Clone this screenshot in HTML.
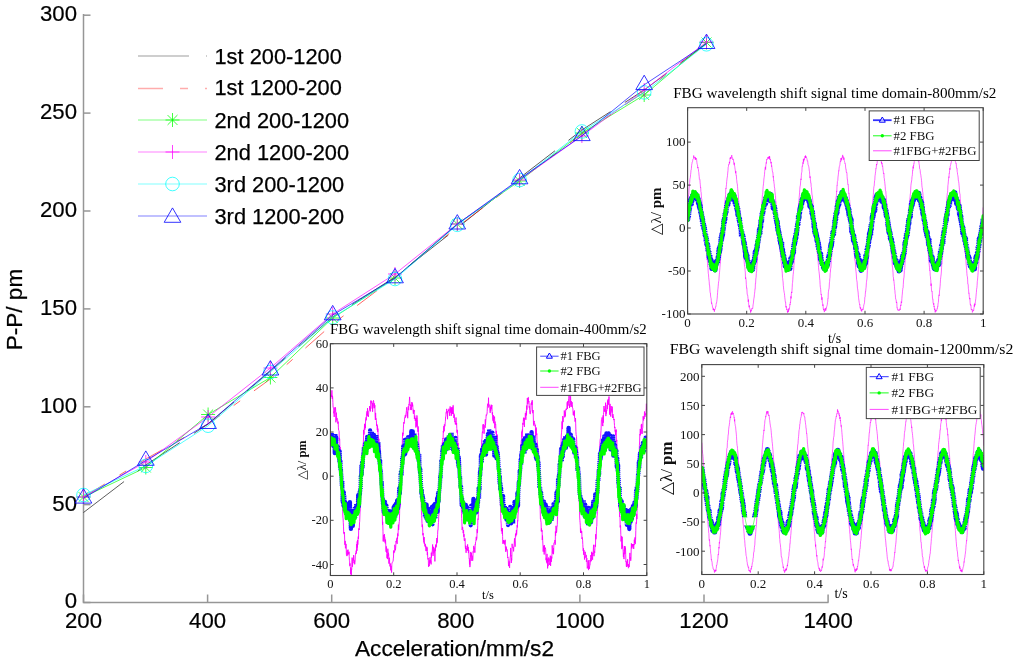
<!DOCTYPE html>
<html lang="en"><head><meta charset="utf-8"><title>FBG acceleration figure</title>
<style>html,body{margin:0;padding:0;background:#fff}body{width:1024px;height:668px;overflow:hidden}svg{display:block}</style>
</head><body>
<svg width="1024" height="668" viewBox="0 0 1024 668">
<rect width="1024" height="668" fill="#fff"/>
<g stroke="#969696" stroke-width="1.5" fill="none">
<path d="M83.5 14 V602.5 H828.5"/>
<path d="M83.5 602.5 h7"/>
<path d="M83.5 504.6 h7"/>
<path d="M83.5 406.8 h7"/>
<path d="M83.5 308.9 h7"/>
<path d="M83.5 211.0 h7"/>
<path d="M83.5 113.1 h7"/>
<path d="M83.5 15.2 h7"/>
<path d="M83.5 602.5 v-8"/>
<path d="M207.6 602.5 v-8"/>
<path d="M331.7 602.5 v-8"/>
<path d="M455.8 602.5 v-8"/>
<path d="M579.9 602.5 v-8"/>
<path d="M704.0 602.5 v-8"/>
<path d="M828.1 602.5 v-8"/>
</g>
<g font-family='"Liberation Sans", Arial, sans-serif' font-size="22.2" fill="#000" stroke="#000" stroke-width="0.2">
<text x="77" y="608.4" text-anchor="end">0</text>
<text x="77" y="510.5" text-anchor="end">50</text>
<text x="77" y="412.6" text-anchor="end">100</text>
<text x="77" y="314.8" text-anchor="end">150</text>
<text x="77" y="216.9" text-anchor="end">200</text>
<text x="77" y="119.0" text-anchor="end">250</text>
<text x="77" y="21.1" text-anchor="end">300</text>
<text x="83.5" y="627.5" text-anchor="middle">200</text>
<text x="207.6" y="627.5" text-anchor="middle">400</text>
<text x="331.7" y="627.5" text-anchor="middle">600</text>
<text x="455.8" y="627.5" text-anchor="middle">800</text>
<text x="579.9" y="627.5" text-anchor="middle">1000</text>
<text x="704.0" y="627.5" text-anchor="middle">1200</text>
<text x="828.1" y="627.5" text-anchor="middle">1400</text>
</g>
<text x="355" y="655.7" stroke="#000" stroke-width="0.25" font-family='"Liberation Sans", Arial, sans-serif' font-size="22.5" textLength="199" lengthAdjust="spacingAndGlyphs">Acceleration/mm/s2</text>
<text transform="translate(22 350.3) rotate(-90)" stroke="#000" stroke-width="0.25" font-family='"Liberation Sans", Arial, sans-serif' font-size="22" textLength="81.5" lengthAdjust="spacingAndGlyphs">P-P/ pm</text>
<path d="M83.5 512.5 L145.8 465.0 L208.1 424.0 L270.4 371.0 L332.7 317.0 L395.0 277.0 L457.3 228.0 L519.6 178.0 L581.9 130.0 L644.2 90.0 L706.5 43.5" stroke="#000" stroke-width="0.8" fill="none" stroke-dasharray="51 17" opacity="0.8"/>
<path d="M83.5 497.0 L145.8 459.0 L208.1 424.0 L270.4 379.0 L332.7 324.0 L395.0 277.0 L457.3 227.0 L519.6 180.0 L581.9 134.0 L644.2 92.0 L706.5 43.5" stroke="#f00" stroke-width="0.8" fill="none" stroke-dasharray="25 17 8 17" opacity="0.75"/>
<path d="M83.5 497.0 L145.8 467.5 L208.1 414.5 L270.4 377.5 L332.7 318.0 L395.0 278.0 L457.3 224.0 L519.6 181.0 L581.9 133.0 L644.2 95.0 L706.5 42.5" stroke="#0f0" stroke-width="0.8" fill="none" opacity="0.85"/>
<path d="M76.5 497.0h14M83.5 490.0v14M78.6 492.1l9.9 9.9M78.6 501.9l9.9 -9.9" stroke="#0f0" stroke-width="0.75" fill="none"/>
<path d="M138.8 467.5h14M145.8 460.5v14M140.9 462.6l9.9 9.9M140.9 472.4l9.9 -9.9" stroke="#0f0" stroke-width="0.75" fill="none"/>
<path d="M201.1 414.5h14M208.1 407.5v14M203.2 409.6l9.9 9.9M203.2 419.4l9.9 -9.9" stroke="#0f0" stroke-width="0.75" fill="none"/>
<path d="M263.4 377.5h14M270.4 370.5v14M265.5 372.6l9.9 9.9M265.5 382.4l9.9 -9.9" stroke="#0f0" stroke-width="0.75" fill="none"/>
<path d="M325.7 318.0h14M332.7 311.0v14M327.8 313.1l9.9 9.9M327.8 322.9l9.9 -9.9" stroke="#0f0" stroke-width="0.75" fill="none"/>
<path d="M388.0 278.0h14M395.0 271.0v14M390.1 273.1l9.9 9.9M390.1 282.9l9.9 -9.9" stroke="#0f0" stroke-width="0.75" fill="none"/>
<path d="M450.3 224.0h14M457.3 217.0v14M452.4 219.1l9.9 9.9M452.4 228.9l9.9 -9.9" stroke="#0f0" stroke-width="0.75" fill="none"/>
<path d="M512.6 181.0h14M519.6 174.0v14M514.7 176.1l9.9 9.9M514.7 185.9l9.9 -9.9" stroke="#0f0" stroke-width="0.75" fill="none"/>
<path d="M574.9 133.0h14M581.9 126.0v14M577.0 128.1l9.9 9.9M577.0 137.9l9.9 -9.9" stroke="#0f0" stroke-width="0.75" fill="none"/>
<path d="M637.2 95.0h14M644.2 88.0v14M639.3 90.1l9.9 9.9M639.3 99.9l9.9 -9.9" stroke="#0f0" stroke-width="0.75" fill="none"/>
<path d="M699.5 42.5h14M706.5 35.5v14M701.6 37.6l9.9 9.9M701.6 47.4l9.9 -9.9" stroke="#0f0" stroke-width="0.75" fill="none"/>
<path d="M83.5 497.0 L145.8 462.0 L208.1 417.0 L270.4 368.0 L332.7 314.0 L395.0 274.0 L457.3 224.0 L519.6 180.0 L581.9 136.0 L644.2 90.0 L706.5 42.0" stroke="#f0f" stroke-width="0.8" fill="none" opacity="0.85"/>
<path d="M76.5 497.0h14M83.5 490.0v14" stroke="#f0f" stroke-width="0.75" fill="none"/>
<path d="M138.8 462.0h14M145.8 455.0v14" stroke="#f0f" stroke-width="0.75" fill="none"/>
<path d="M201.1 417.0h14M208.1 410.0v14" stroke="#f0f" stroke-width="0.75" fill="none"/>
<path d="M263.4 368.0h14M270.4 361.0v14" stroke="#f0f" stroke-width="0.75" fill="none"/>
<path d="M325.7 314.0h14M332.7 307.0v14" stroke="#f0f" stroke-width="0.75" fill="none"/>
<path d="M388.0 274.0h14M395.0 267.0v14" stroke="#f0f" stroke-width="0.75" fill="none"/>
<path d="M450.3 224.0h14M457.3 217.0v14" stroke="#f0f" stroke-width="0.75" fill="none"/>
<path d="M512.6 180.0h14M519.6 173.0v14" stroke="#f0f" stroke-width="0.75" fill="none"/>
<path d="M574.9 136.0h14M581.9 129.0v14" stroke="#f0f" stroke-width="0.75" fill="none"/>
<path d="M637.2 90.0h14M644.2 83.0v14" stroke="#f0f" stroke-width="0.75" fill="none"/>
<path d="M699.5 42.0h14M706.5 35.0v14" stroke="#f0f" stroke-width="0.75" fill="none"/>
<path d="M83.5 495.0 L145.8 465.9 L208.1 425.7 L270.4 372.0 L332.7 317.4 L395.0 279.0 L457.3 224.8 L519.6 180.0 L581.9 131.5 L644.2 92.4 L706.5 44.3" stroke="#0ff" stroke-width="0.8" fill="none" opacity="0.85"/>
<circle cx="83.5" cy="495.0" r="6.8" stroke="#0ff" stroke-width="0.75" fill="none"/>
<circle cx="145.8" cy="465.9" r="6.8" stroke="#0ff" stroke-width="0.75" fill="none"/>
<circle cx="208.1" cy="425.7" r="6.8" stroke="#0ff" stroke-width="0.75" fill="none"/>
<circle cx="270.4" cy="372.0" r="6.8" stroke="#0ff" stroke-width="0.75" fill="none"/>
<circle cx="332.7" cy="317.4" r="6.8" stroke="#0ff" stroke-width="0.75" fill="none"/>
<circle cx="395.0" cy="279.0" r="6.8" stroke="#0ff" stroke-width="0.75" fill="none"/>
<circle cx="457.3" cy="224.8" r="6.8" stroke="#0ff" stroke-width="0.75" fill="none"/>
<circle cx="519.6" cy="180.0" r="6.8" stroke="#0ff" stroke-width="0.75" fill="none"/>
<circle cx="581.9" cy="131.5" r="6.8" stroke="#0ff" stroke-width="0.75" fill="none"/>
<circle cx="644.2" cy="92.4" r="6.8" stroke="#0ff" stroke-width="0.75" fill="none"/>
<circle cx="706.5" cy="44.3" r="6.8" stroke="#0ff" stroke-width="0.75" fill="none"/>
<path d="M83.5 498.3 L145.8 460.5 L208.1 423.7 L270.4 370.2 L332.7 315.0 L395.0 278.0 L457.3 224.2 L519.6 179.0 L581.9 135.8 L644.2 84.8 L706.5 43.7" stroke="#00f" stroke-width="0.8" fill="none" opacity="0.85"/>
<path d="M83.5 488.7L91.8 503.1H75.2Z" stroke="#00f" stroke-width="0.8" fill="none"/>
<path d="M145.8 450.9L154.2 465.3H137.5Z" stroke="#00f" stroke-width="0.8" fill="none"/>
<path d="M208.1 414.1L216.4 428.5H199.8Z" stroke="#00f" stroke-width="0.8" fill="none"/>
<path d="M270.4 360.6L278.8 375.0H262.0Z" stroke="#00f" stroke-width="0.8" fill="none"/>
<path d="M332.7 305.4L341.1 319.8H324.3Z" stroke="#00f" stroke-width="0.8" fill="none"/>
<path d="M395.0 268.4L403.4 282.8H386.6Z" stroke="#00f" stroke-width="0.8" fill="none"/>
<path d="M457.3 214.6L465.6 229.0H448.9Z" stroke="#00f" stroke-width="0.8" fill="none"/>
<path d="M519.6 169.4L527.9 183.8H511.2Z" stroke="#00f" stroke-width="0.8" fill="none"/>
<path d="M581.9 126.2L590.2 140.6H573.5Z" stroke="#00f" stroke-width="0.8" fill="none"/>
<path d="M644.2 75.2L652.5 89.6H635.8Z" stroke="#00f" stroke-width="0.8" fill="none"/>
<path d="M706.5 34.1L714.9 48.5H698.1Z" stroke="#00f" stroke-width="0.8" fill="none"/>
<path d="M138 56H207" stroke="#000" stroke-width="0.7" stroke-dasharray="51 17" opacity="0.55"/>
<path d="M138 88.5H207" stroke="#f00" stroke-width="1.3" stroke-dasharray="25 17 8 17" opacity="0.32"/>
<path d="M138 120H207" stroke="#0f0" stroke-width="0.9" opacity="0.55"/>
<path d="M165.5 120.0h14M172.5 113.0v14M167.6 115.1l9.9 9.9M167.6 124.9l9.9 -9.9" stroke="#0f0" stroke-width="0.75" fill="none"/>
<path d="M138 152H207" stroke="#f0f" stroke-width="0.9" opacity="0.55"/>
<path d="M165.5 152.0h14M172.5 145.0v14" stroke="#f0f" stroke-width="0.75" fill="none"/>
<path d="M138 184H207" stroke="#0ff" stroke-width="0.9" opacity="0.55"/>
<circle cx="172.5" cy="184.0" r="6.8" stroke="#0ff" stroke-width="0.75" fill="none"/>
<path d="M138 216H207" stroke="#00f" stroke-width="0.9" opacity="0.55"/>
<path d="M172.5 207.9L180.8 222.3H164.2Z" stroke="#00f" stroke-width="0.8" fill="none"/>
<g font-family='"Liberation Sans", Arial, sans-serif' font-size="21.8" fill="#000" stroke="#000" stroke-width="0.25">
<text x="214.5" y="64.0">1st 200-1200</text>
<text x="214.5" y="94.7">1st 1200-200</text>
<text x="214.5" y="128.0">2nd 200-1200</text>
<text x="214.5" y="160.0">2nd 1200-200</text>
<text x="214.5" y="192.0">3rd 200-1200</text>
<text x="214.5" y="224.0">3rd 1200-200</text>
</g>
<rect x="330.4" y="343.7" width="316.4" height="231.8" fill="#fff" stroke="none"/>
<clipPath id="c330"><rect x="330.4" y="343.7" width="316.4" height="231.8"/></clipPath><g clip-path="url(#c330)">
<path d="M330.4 397.2L330.6 394.4L330.8 396.5L331.0 394.8L331.2 396.7L331.5 397.1L331.7 394.1L331.9 390.3L332.1 396.2L332.3 399.0L332.5 395.8L332.7 397.8L332.9 402.5L333.1 407.5L333.4 407.4L333.6 407.8L333.8 413.3L334.0 411.4L334.2 416.9L334.4 412.4L334.6 412.5L334.8 407.4L335.0 411.8L335.3 408.8L335.5 407.4L335.7 411.1L335.9 422.3L336.1 417.4L336.3 412.6L336.5 415.3L336.7 420.3L336.9 418.3L337.2 418.7L337.4 418.5L337.6 419.6L337.8 423.6L338.0 422.1L338.2 421.7L338.4 427.9L338.6 430.0L338.8 430.5L339.1 431.2L339.3 440.5L339.5 438.3L339.7 439.0L339.9 450.3L340.1 447.0L340.3 458.9L340.5 464.8L340.7 465.0L341.0 473.0L341.2 483.3L341.4 486.8L341.6 489.3L341.8 495.4L342.0 496.9L342.2 501.8L342.4 506.2L342.6 508.2L342.9 517.2L343.1 518.7L343.3 522.8L343.5 526.1L343.7 532.9L343.9 532.5L344.1 534.2L344.3 532.0L344.5 534.2L344.8 544.3L345.0 544.9L345.2 540.9L345.4 548.1L345.6 547.5L345.8 548.3L346.0 543.9L346.2 548.0L346.4 554.4L346.7 555.2L346.9 556.1L347.1 550.5L347.3 555.3L347.5 552.7L347.7 549.9L347.9 550.3L348.1 549.7L348.3 554.0L348.6 552.2L348.8 554.5L349.0 551.7L349.2 556.6L349.4 560.3L349.6 561.1L349.8 565.8L350.0 563.4L350.2 566.6L350.5 567.8L350.7 574.1L350.9 567.6L351.1 573.8L351.3 576.5L351.5 569.4L351.7 569.9L351.9 566.0L352.1 557.6L352.4 566.8L352.6 564.7L352.8 561.1L353.0 558.5L353.2 559.8L353.4 560.6L353.6 555.0L353.8 557.0L354.0 563.2L354.3 560.6L354.5 560.5L354.7 564.3L354.9 562.3L355.1 561.5L355.3 555.5L355.5 555.5L355.7 553.1L355.9 554.0L356.2 550.6L356.4 553.3L356.6 548.4L356.8 544.1L357.0 550.8L357.2 541.4L357.4 547.5L357.6 540.0L357.8 544.7L358.1 537.9L358.3 536.5L358.5 538.9L358.7 528.8L358.9 528.3L359.1 530.0L359.3 527.9L359.5 522.9L359.7 521.3L360.0 512.0L360.2 511.5L360.4 504.3L360.6 499.6L360.8 496.0L361.0 488.9L361.2 474.8L361.4 470.5L361.6 461.0L361.9 458.3L362.1 457.2L362.3 454.1L362.5 450.7L362.7 447.2L362.9 447.7L363.1 443.9L363.3 442.8L363.5 439.0L363.7 429.9L364.0 434.5L364.2 430.6L364.4 427.7L364.6 423.8L364.8 429.8L365.0 424.5L365.2 424.7L365.4 428.1L365.6 419.4L365.9 419.6L366.1 417.3L366.3 420.3L366.5 413.6L366.7 413.8L366.9 411.4L367.1 412.4L367.3 415.3L367.5 408.1L367.8 416.2L368.0 414.7L368.2 414.8L368.4 416.9L368.6 414.4L368.8 411.0L369.0 410.7L369.2 410.8L369.4 410.1L369.7 406.0L369.9 408.3L370.1 407.5L370.3 411.4L370.5 411.3L370.7 402.4L370.9 400.5L371.1 403.3L371.3 401.3L371.6 401.2L371.8 401.1L372.0 404.9L372.2 408.7L372.4 403.0L372.6 411.7L372.8 404.7L373.0 405.7L373.2 402.3L373.5 400.4L373.7 401.5L373.9 407.2L374.1 408.3L374.3 403.3L374.5 407.9L374.7 406.9L374.9 405.3L375.1 415.9L375.4 420.0L375.6 412.9L375.8 417.8L376.0 418.9L376.2 418.6L376.4 420.6L376.6 425.9L376.8 424.2L377.0 425.2L377.3 430.1L377.5 425.6L377.7 432.0L377.9 428.6L378.1 435.1L378.3 435.8L378.5 440.4L378.7 441.8L378.9 438.8L379.2 444.5L379.4 445.1L379.6 450.9L379.8 445.2L380.0 461.6L380.2 460.7L380.4 470.3L380.6 475.8L380.8 483.5L381.1 487.1L381.3 489.3L381.5 498.6L381.7 501.6L381.9 505.0L382.1 506.0L382.3 514.3L382.5 524.7L382.7 521.8L383.0 531.8L383.2 541.4L383.4 535.8L383.6 534.9L383.8 536.6L384.0 541.5L384.2 541.5L384.4 534.1L384.6 537.2L384.9 537.2L385.1 543.0L385.3 543.4L385.5 539.6L385.7 542.9L385.9 548.0L386.1 551.8L386.3 546.4L386.5 552.5L386.8 550.4L387.0 558.2L387.2 554.4L387.4 555.8L387.6 559.1L387.8 548.7L388.0 551.7L388.2 556.4L388.4 552.8L388.7 554.2L388.9 563.6L389.1 557.6L389.3 558.4L389.5 558.0L389.7 564.5L389.9 566.1L390.1 566.5L390.3 563.5L390.6 565.8L390.8 570.3L391.0 566.0L391.2 570.0L391.4 570.6L391.6 572.6L391.8 564.8L392.0 563.1L392.2 562.4L392.5 562.3L392.7 561.9L392.9 561.4L393.1 561.1L393.3 558.9L393.5 557.0L393.7 550.5L393.9 553.1L394.1 552.3L394.4 551.6L394.6 552.1L394.8 544.8L395.0 546.1L395.2 547.7L395.4 550.3L395.6 548.7L395.8 545.7L396.0 541.1L396.3 542.3L396.5 539.4L396.7 538.9L396.9 538.3L397.1 543.9L397.3 537.3L397.5 539.0L397.7 533.5L397.9 536.2L398.2 531.1L398.4 524.6L398.6 530.0L398.8 528.8L399.0 525.2L399.2 521.9L399.4 521.5L399.6 513.4L399.8 502.5L400.1 506.2L400.3 497.4L400.5 493.9L400.7 484.6L400.9 484.7L401.1 480.5L401.3 466.2L401.5 469.3L401.7 458.4L402.0 450.6L402.2 447.1L402.4 439.1L402.6 432.7L402.8 436.1L403.0 433.4L403.2 434.2L403.4 428.1L403.6 424.1L403.9 422.0L404.1 423.6L404.3 422.4L404.5 419.9L404.7 417.4L404.9 417.5L405.1 416.5L405.3 415.2L405.5 417.6L405.8 414.4L406.0 413.5L406.2 412.6L406.4 410.6L406.6 407.5L406.8 407.2L407.0 410.6L407.2 416.4L407.4 411.9L407.7 418.2L407.9 412.9L408.1 408.1L408.3 406.3L408.5 407.7L408.7 410.2L408.9 404.4L409.1 405.1L409.3 401.8L409.6 396.9L409.8 400.5L410.0 404.5L410.2 405.8L410.4 404.6L410.6 406.4L410.8 409.8L411.0 406.6L411.2 410.1L411.5 406.0L411.7 404.6L411.9 402.0L412.1 406.6L412.3 403.3L412.5 406.0L412.7 404.7L412.9 407.4L413.1 411.3L413.4 413.8L413.6 409.8L413.8 411.3L414.0 411.7L414.2 410.1L414.4 418.9L414.6 416.4L414.8 415.6L415.0 417.8L415.3 421.0L415.5 418.3L415.7 421.3L415.9 427.5L416.1 424.0L416.3 417.7L416.5 419.1L416.7 426.4L416.9 415.4L417.2 417.7L417.4 419.7L417.6 427.6L417.8 429.4L418.0 431.9L418.2 426.5L418.4 434.6L418.6 433.5L418.8 442.6L419.1 445.6L419.3 454.3L419.5 455.4L419.7 459.0L419.9 468.2L420.1 466.2L420.3 473.9L420.5 486.3L420.7 491.6L421.0 496.8L421.2 502.1L421.4 510.5L421.6 515.5L421.8 518.2L422.0 523.4L422.2 527.1L422.4 524.6L422.6 526.7L422.9 535.3L423.1 533.1L423.3 535.4L423.5 539.9L423.7 538.3L423.9 542.5L424.1 537.0L424.3 544.0L424.5 542.6L424.8 543.7L425.0 546.3L425.2 544.0L425.4 547.1L425.6 545.5L425.8 548.1L426.0 551.1L426.2 547.2L426.4 546.9L426.6 546.7L426.9 551.2L427.1 547.4L427.3 555.1L427.5 552.0L427.7 557.0L427.9 559.4L428.1 559.0L428.3 558.1L428.5 566.9L428.8 566.4L429.0 564.1L429.2 566.0L429.4 560.4L429.6 563.7L429.8 561.4L430.0 557.2L430.2 562.8L430.4 559.8L430.7 560.9L430.9 560.9L431.1 564.4L431.3 552.7L431.5 557.5L431.7 553.5L431.9 553.6L432.1 551.4L432.3 550.4L432.6 544.5L432.8 554.8L433.0 555.9L433.2 555.7L433.4 554.3L433.6 546.8L433.8 548.4L434.0 552.1L434.2 552.7L434.5 550.8L434.7 549.5L434.9 561.4L435.1 548.0L435.3 551.1L435.5 545.4L435.7 548.0L435.9 544.4L436.1 547.1L436.4 546.7L436.6 539.5L436.8 538.0L437.0 543.2L437.2 542.4L437.4 542.1L437.6 534.7L437.8 530.3L438.0 530.4L438.3 524.1L438.5 522.6L438.7 516.9L438.9 514.9L439.1 508.7L439.3 499.9L439.5 500.4L439.7 498.2L439.9 489.5L440.2 484.2L440.4 478.0L440.6 471.8L440.8 470.9L441.0 463.4L441.2 461.0L441.4 453.1L441.6 451.5L441.8 451.2L442.1 448.6L442.3 442.5L442.5 445.0L442.7 441.1L442.9 438.0L443.1 439.0L443.3 431.0L443.5 432.6L443.7 427.1L444.0 425.9L444.2 431.3L444.4 424.4L444.6 425.5L444.8 426.3L445.0 425.8L445.2 422.9L445.4 421.4L445.6 416.6L445.9 416.5L446.1 412.6L446.3 413.3L446.5 410.6L446.7 408.9L446.9 411.2L447.1 412.4L447.3 411.2L447.5 419.2L447.8 411.8L448.0 412.3L448.2 411.2L448.4 409.9L448.6 411.0L448.8 409.7L449.0 408.7L449.2 410.4L449.4 411.7L449.7 415.9L449.9 408.9L450.1 406.4L450.3 406.8L450.5 411.5L450.7 412.7L450.9 408.0L451.1 409.9L451.3 415.8L451.6 407.3L451.8 413.0L452.0 414.1L452.2 409.0L452.4 407.3L452.6 413.8L452.8 410.9L453.0 405.4L453.2 405.3L453.5 413.8L453.7 413.0L453.9 417.9L454.1 415.6L454.3 414.5L454.5 420.6L454.7 421.6L454.9 420.8L455.1 422.7L455.4 424.5L455.6 422.2L455.8 420.1L456.0 417.5L456.2 420.4L456.4 424.7L456.6 423.0L456.8 428.6L457.0 432.6L457.3 429.9L457.5 434.7L457.7 435.5L457.9 446.1L458.1 443.1L458.3 445.6L458.5 449.9L458.7 457.4L458.9 457.9L459.2 456.5L459.4 463.3L459.6 472.1L459.8 474.3L460.0 477.3L460.2 492.2L460.4 492.6L460.6 495.9L460.8 500.6L461.1 504.1L461.3 507.8L461.5 513.4L461.7 518.6L461.9 521.2L462.1 529.9L462.3 529.1L462.5 526.9L462.7 527.4L463.0 531.5L463.2 533.2L463.4 531.6L463.6 530.2L463.8 536.8L464.0 534.2L464.2 540.3L464.4 539.9L464.6 540.9L464.9 538.3L465.1 539.1L465.3 547.1L465.5 549.0L465.7 545.6L465.9 549.6L466.1 552.8L466.3 548.7L466.5 549.1L466.8 548.2L467.0 550.3L467.2 546.0L467.4 549.8L467.6 544.4L467.8 550.3L468.0 550.9L468.2 546.9L468.4 553.1L468.7 550.1L468.9 552.9L469.1 558.3L469.3 558.0L469.5 564.5L469.7 559.6L469.9 567.1L470.1 565.1L470.3 561.2L470.6 554.6L470.8 551.9L471.0 556.7L471.2 555.6L471.4 552.9L471.6 556.5L471.8 560.8L472.0 557.4L472.2 555.7L472.5 559.6L472.7 560.6L472.9 559.1L473.1 551.5L473.3 552.5L473.5 549.1L473.7 546.0L473.9 545.8L474.1 548.5L474.4 547.7L474.6 552.4L474.8 551.8L475.0 552.4L475.2 544.1L475.4 544.6L475.6 541.8L475.8 541.5L476.0 539.5L476.3 536.8L476.5 540.2L476.7 538.6L476.9 538.4L477.1 529.2L477.3 533.1L477.5 532.4L477.7 525.4L477.9 518.7L478.2 519.6L478.4 514.4L478.6 505.7L478.8 504.5L479.0 502.9L479.2 501.0L479.4 487.7L479.6 485.7L479.8 481.6L480.1 475.1L480.3 478.0L480.5 464.2L480.7 463.1L480.9 454.1L481.1 449.2L481.3 448.0L481.5 450.3L481.7 439.7L482.0 438.4L482.2 433.7L482.4 431.6L482.6 431.6L482.8 433.2L483.0 424.4L483.2 429.4L483.4 425.7L483.6 424.3L483.9 427.2L484.1 433.7L484.3 429.4L484.5 428.5L484.7 427.8L484.9 425.2L485.1 427.8L485.3 419.4L485.5 425.1L485.8 420.4L486.0 418.4L486.2 414.8L486.4 415.3L486.6 415.4L486.8 414.1L487.0 414.2L487.2 411.4L487.4 406.2L487.7 403.8L487.9 404.0L488.1 403.8L488.3 407.5L488.5 397.7L488.7 404.5L488.9 404.2L489.1 404.8L489.3 404.8L489.5 406.5L489.8 407.4L490.0 410.8L490.2 412.9L490.4 406.6L490.6 411.2L490.8 410.0L491.0 407.3L491.2 404.7L491.4 409.2L491.7 406.1L491.9 405.0L492.1 411.4L492.3 414.5L492.5 412.4L492.7 419.2L492.9 419.0L493.1 421.2L493.3 415.1L493.6 423.2L493.8 420.3L494.0 420.6L494.2 416.4L494.4 418.1L494.6 417.1L494.8 428.2L495.0 421.5L495.2 424.2L495.5 424.8L495.7 424.2L495.9 429.2L496.1 433.7L496.3 430.9L496.5 437.0L496.7 438.4L496.9 434.2L497.1 435.6L497.4 435.2L497.6 441.4L497.8 446.3L498.0 447.4L498.2 451.4L498.4 457.4L498.6 454.1L498.8 463.9L499.0 475.0L499.3 472.3L499.5 482.1L499.7 485.1L499.9 492.4L500.1 495.9L500.3 502.4L500.5 507.9L500.7 513.6L500.9 520.4L501.2 523.9L501.4 531.2L501.6 529.4L501.8 528.2L502.0 529.5L502.2 533.9L502.4 528.1L502.6 536.4L502.8 543.2L503.1 544.0L503.3 540.9L503.5 540.1L503.7 542.6L503.9 540.5L504.1 542.6L504.3 540.9L504.5 544.4L504.7 544.1L505.0 542.6L505.2 539.8L505.4 548.5L505.6 548.7L505.8 551.9L506.0 546.4L506.2 550.4L506.4 547.5L506.6 549.5L506.9 549.6L507.1 549.3L507.3 549.8L507.5 556.7L507.7 557.9L507.9 556.8L508.1 558.3L508.3 559.9L508.5 566.1L508.8 564.3L509.0 561.4L509.2 561.4L509.4 566.3L509.6 567.9L509.8 561.1L510.0 558.9L510.2 557.1L510.4 555.7L510.7 547.9L510.9 556.3L511.1 555.2L511.3 563.0L511.5 558.2L511.7 560.4L511.9 556.7L512.1 543.8L512.3 546.5L512.6 547.4L512.8 548.1L513.0 547.6L513.2 546.9L513.4 549.3L513.6 551.4L513.8 547.3L514.0 545.9L514.2 544.0L514.5 538.3L514.7 542.3L514.9 541.8L515.1 546.7L515.3 539.0L515.5 533.6L515.7 535.6L515.9 536.3L516.1 535.1L516.4 530.1L516.6 534.7L516.8 531.9L517.0 528.1L517.2 525.0L517.4 527.4L517.6 520.5L517.8 521.2L518.0 515.1L518.3 511.5L518.5 511.4L518.7 502.6L518.9 496.6L519.1 496.2L519.3 490.9L519.5 482.4L519.7 480.1L519.9 469.4L520.2 467.8L520.4 455.4L520.6 447.0L520.8 444.8L521.0 446.6L521.2 441.0L521.4 439.9L521.6 439.1L521.8 431.5L522.1 437.2L522.3 429.6L522.5 432.2L522.7 425.3L522.9 422.9L523.1 424.7L523.3 420.9L523.5 417.7L523.7 421.0L524.0 419.3L524.2 425.3L524.4 426.9L524.6 418.1L524.8 419.4L525.0 417.2L525.2 416.6L525.4 412.9L525.6 418.3L525.9 419.7L526.1 416.8L526.3 410.9L526.5 415.3L526.7 405.6L526.9 409.7L527.1 407.2L527.3 398.1L527.5 400.2L527.8 404.1L528.0 401.8L528.2 397.4L528.4 397.3L528.6 402.2L528.8 401.0L529.0 401.8L529.2 407.5L529.4 406.3L529.7 410.8L529.9 413.2L530.1 413.9L530.3 414.1L530.5 411.3L530.7 411.7L530.9 409.3L531.1 403.5L531.3 404.4L531.6 402.5L531.8 401.8L532.0 404.8L532.2 400.2L532.4 410.7L532.6 410.0L532.8 413.2L533.0 410.0L533.2 412.6L533.5 424.5L533.7 425.5L533.9 422.0L534.1 420.9L534.3 421.0L534.5 422.7L534.7 424.4L534.9 423.9L535.1 426.4L535.4 425.1L535.6 436.4L535.8 428.7L536.0 432.6L536.2 427.5L536.4 431.9L536.6 435.0L536.8 433.5L537.0 439.5L537.3 441.7L537.5 446.6L537.7 445.7L537.9 448.4L538.1 449.4L538.3 457.7L538.5 459.5L538.7 466.9L538.9 472.7L539.2 475.5L539.4 481.1L539.6 494.6L539.8 498.4L540.0 504.2L540.2 509.9L540.4 518.9L540.6 518.5L540.8 520.9L541.1 522.7L541.3 531.3L541.5 528.3L541.7 530.7L541.9 531.5L542.1 530.3L542.3 540.1L542.5 535.5L542.7 540.3L543.0 546.2L543.2 551.7L543.4 548.6L543.6 545.7L543.8 549.2L544.0 549.1L544.2 554.5L544.4 545.2L544.6 551.7L544.9 547.4L545.1 547.5L545.3 549.0L545.5 548.4L545.7 549.8L545.9 556.6L546.1 560.2L546.3 557.8L546.5 562.4L546.8 560.1L547.0 553.9L547.2 563.5L547.4 558.7L547.6 568.4L547.8 564.5L548.0 566.1L548.2 565.1L548.4 562.6L548.7 557.5L548.9 561.3L549.1 562.6L549.3 565.0L549.5 562.4L549.7 562.2L549.9 558.5L550.1 561.1L550.3 555.7L550.6 565.9L550.8 560.1L551.0 556.5L551.2 560.1L551.4 561.8L551.6 556.7L551.8 558.5L552.0 553.3L552.2 545.3L552.4 548.6L552.7 553.7L552.9 553.3L553.1 553.1L553.3 548.1L553.5 554.2L553.7 550.7L553.9 543.1L554.1 542.8L554.3 542.5L554.6 543.1L554.8 542.7L555.0 540.0L555.2 544.7L555.4 531.5L555.6 535.8L555.8 532.6L556.0 525.8L556.2 527.5L556.5 532.8L556.7 531.4L556.9 527.0L557.1 526.9L557.3 524.7L557.5 516.8L557.7 514.4L557.9 497.2L558.1 503.5L558.4 496.5L558.6 490.0L558.8 484.0L559.0 478.7L559.2 474.3L559.4 470.8L559.6 460.8L559.8 465.7L560.0 455.7L560.3 454.4L560.5 448.3L560.7 446.4L560.9 444.1L561.1 441.3L561.3 435.0L561.5 432.8L561.7 431.0L561.9 421.5L562.2 421.8L562.4 429.1L562.6 422.0L562.8 416.0L563.0 422.1L563.2 419.8L563.4 418.3L563.6 418.0L563.8 417.9L564.1 416.7L564.3 410.5L564.5 413.2L564.7 415.5L564.9 417.2L565.1 412.6L565.3 416.2L565.5 413.3L565.7 410.0L566.0 410.2L566.2 408.7L566.4 410.0L566.6 408.8L566.8 408.4L567.0 407.9L567.2 402.3L567.4 408.9L567.6 401.3L567.9 404.0L568.1 405.6L568.3 401.8L568.5 402.2L568.7 398.7L568.9 398.3L569.1 395.0L569.3 403.7L569.5 408.0L569.8 404.6L570.0 406.9L570.2 402.3L570.4 396.4L570.6 396.1L570.8 404.2L571.0 404.9L571.2 401.0L571.4 404.8L571.7 406.8L571.9 404.2L572.1 402.2L572.3 404.7L572.5 407.9L572.7 407.9L572.9 408.9L573.1 413.2L573.3 415.1L573.6 411.6L573.8 413.8L574.0 413.2L574.2 416.0L574.4 410.5L574.6 418.4L574.8 419.4L575.0 421.6L575.2 421.0L575.5 418.0L575.7 423.9L575.9 431.4L576.1 434.5L576.3 436.0L576.5 436.4L576.7 441.2L576.9 448.6L577.1 447.2L577.4 446.7L577.6 447.2L577.8 453.2L578.0 459.1L578.2 469.5L578.4 475.7L578.6 478.2L578.8 497.4L579.0 499.6L579.3 502.7L579.5 510.3L579.7 517.0L579.9 520.5L580.1 522.7L580.3 525.8L580.5 532.9L580.7 528.4L580.9 531.8L581.2 530.8L581.4 533.1L581.6 531.0L581.8 531.8L582.0 539.0L582.2 537.4L582.4 538.3L582.6 540.2L582.8 544.4L583.1 550.4L583.3 551.1L583.5 548.3L583.7 554.8L583.9 550.1L584.1 551.7L584.3 553.6L584.5 559.5L584.7 556.6L585.0 557.4L585.2 551.8L585.4 553.3L585.6 554.0L585.8 555.3L586.0 557.7L586.2 555.1L586.4 561.8L586.6 559.1L586.9 558.2L587.1 564.2L587.3 568.4L587.5 566.7L587.7 567.3L587.9 567.0L588.1 560.6L588.3 565.0L588.5 570.1L588.8 561.8L589.0 560.0L589.2 565.8L589.4 568.9L589.6 566.7L589.8 565.6L590.0 565.0L590.2 563.7L590.4 562.3L590.7 557.5L590.9 555.0L591.1 557.8L591.3 561.2L591.5 554.5L591.7 551.8L591.9 555.8L592.1 552.9L592.3 556.5L592.6 559.7L592.8 552.9L593.0 554.0L593.2 553.0L593.4 547.9L593.6 544.8L593.8 546.7L594.0 556.2L594.2 551.2L594.5 551.3L594.7 552.8L594.9 548.8L595.1 544.8L595.3 546.8L595.5 546.5L595.7 534.2L595.9 539.3L596.1 538.2L596.4 530.1L596.6 526.5L596.8 526.2L597.0 516.0L597.2 515.6L597.4 511.5L597.6 501.4L597.8 491.3L598.0 490.8L598.3 482.1L598.5 476.5L598.7 464.0L598.9 470.4L599.1 459.9L599.3 457.7L599.5 455.7L599.7 447.3L599.9 443.3L600.2 439.5L600.4 438.6L600.6 437.5L600.8 433.1L601.0 430.7L601.2 426.1L601.4 420.0L601.6 419.9L601.8 419.0L602.1 417.4L602.3 419.1L602.5 426.0L602.7 425.6L602.9 426.1L603.1 415.4L603.3 422.7L603.5 414.4L603.7 412.2L604.0 406.0L604.2 409.6L604.4 411.5L604.6 408.8L604.8 409.2L605.0 410.4L605.2 411.9L605.4 406.8L605.6 402.7L605.9 416.1L606.1 410.8L606.3 413.7L606.5 411.1L606.7 409.8L606.9 410.4L607.1 404.9L607.3 409.0L607.5 400.5L607.8 404.6L608.0 402.0L608.2 399.1L608.4 404.6L608.6 401.3L608.8 399.2L609.0 396.5L609.2 402.1L609.4 407.2L609.7 414.7L609.9 405.0L610.1 403.9L610.3 410.2L610.5 411.2L610.7 416.5L610.9 409.2L611.1 406.0L611.3 410.5L611.6 409.4L611.8 409.2L612.0 412.5L612.2 406.6L612.4 417.0L612.6 417.9L612.8 415.6L613.0 414.2L613.2 416.5L613.5 416.5L613.7 418.7L613.9 420.1L614.1 419.0L614.3 422.8L614.5 425.6L614.7 428.0L614.9 427.1L615.1 431.4L615.3 430.4L615.6 435.4L615.8 430.6L616.0 431.8L616.2 429.5L616.4 441.4L616.6 441.6L616.8 439.9L617.0 448.8L617.2 455.4L617.5 455.4L617.7 471.3L617.9 479.0L618.1 487.6L618.3 488.5L618.5 494.1L618.7 505.0L618.9 506.8L619.1 508.7L619.4 510.2L619.6 516.7L619.8 515.6L620.0 516.9L620.2 527.4L620.4 525.4L620.6 526.4L620.8 534.3L621.0 541.4L621.3 539.0L621.5 536.7L621.7 536.1L621.9 549.1L622.1 536.9L622.3 547.7L622.5 544.8L622.7 546.0L622.9 546.2L623.2 552.3L623.4 556.8L623.6 552.6L623.8 557.2L624.0 559.1L624.2 549.7L624.4 551.3L624.6 546.0L624.8 554.3L625.1 546.4L625.3 549.6L625.5 548.2L625.7 554.2L625.9 561.7L626.1 560.9L626.3 565.9L626.5 567.0L626.7 561.8L627.0 566.4L627.2 565.0L627.4 563.7L627.6 559.3L627.8 562.3L628.0 566.4L628.2 564.0L628.4 568.2L628.6 567.6L628.9 564.7L629.1 567.0L629.3 564.4L629.5 564.5L629.7 558.9L629.9 552.9L630.1 558.8L630.3 557.2L630.5 560.2L630.8 560.8L631.0 559.1L631.2 549.0L631.4 543.4L631.6 547.1L631.8 548.6L632.0 544.0L632.2 547.4L632.4 544.2L632.7 545.3L632.9 545.9L633.1 544.7L633.3 545.9L633.5 544.1L633.7 549.0L633.9 544.0L634.1 545.1L634.3 539.7L634.6 543.0L634.8 541.4L635.0 537.4L635.2 544.1L635.4 540.6L635.6 539.4L635.8 530.5L636.0 522.6L636.2 523.0L636.5 523.6L636.7 513.9L636.9 519.1L637.1 506.3L637.3 506.9L637.5 507.7L637.7 481.8L637.9 478.4L638.1 477.5L638.4 468.5L638.6 464.8L638.8 457.4L639.0 458.2L639.2 453.6L639.4 445.5L639.6 442.0L639.8 434.3L640.0 435.2L640.3 428.9L640.5 435.2L640.7 429.3L640.9 433.9L641.1 433.4L641.3 424.6L641.5 428.6L641.7 423.9L641.9 429.7L642.2 433.8L642.4 428.6L642.6 428.6L642.8 427.5L643.0 420.4L643.2 416.2L643.4 419.6L643.6 420.5L643.8 417.3L644.1 418.9L644.3 416.0L644.5 411.5L644.7 413.7L644.9 417.0L645.1 416.3L645.3 413.5L645.5 413.6L645.7 415.2L646.0 412.1L646.2 408.9L646.4 403.7L646.6 410.3L646.8 406.5" stroke="#f0f" stroke-width="0.9" fill="none" stroke-linejoin="round"/>
<path d="M330.4 443.8L330.6 441.2L330.9 438.7L331.1 434.9L331.4 434.9L331.6 437.6L331.9 433.9L332.1 437.9L332.3 434.9L332.6 444.9L332.8 446.0L333.1 436.5L333.3 446.0L333.6 441.8L333.8 441.3L334.1 443.4L334.3 443.6L334.5 436.3L334.8 453.1L335.0 439.2L335.3 433.7L335.5 443.7L335.8 444.3L336.0 441.6L336.2 437.4L336.5 450.6L336.7 445.7L337.0 447.4L337.2 444.9L337.5 447.2L337.7 445.7L338.0 451.0L338.2 449.9L338.4 453.8L338.7 454.8L338.9 453.8L339.2 455.2L339.4 461.1L339.7 451.3L339.9 460.5L340.1 468.0L340.4 460.2L340.6 470.7L340.9 468.5L341.1 473.8L341.4 476.0L341.6 479.6L341.8 485.9L342.1 486.4L342.3 480.9L342.6 501.4L342.8 494.1L343.1 494.7L343.3 502.8L343.6 505.7L343.8 492.3L344.0 504.2L344.3 495.0L344.5 502.4L344.8 505.2L345.0 504.3L345.3 504.3L345.5 502.6L345.7 506.3L346.0 508.1L346.2 508.5L346.5 504.0L346.7 506.8L347.0 514.8L347.2 513.7L347.5 510.1L347.7 514.5L347.9 513.9L348.2 516.8L348.4 514.2L348.7 511.8L348.9 509.8L349.2 514.3L349.4 506.0L349.6 515.4L349.9 502.1L350.1 511.7L350.4 514.2L350.6 518.7L350.9 528.9L351.1 518.0L351.3 516.8L351.6 509.1L351.8 522.6L352.1 508.4L352.3 517.1L352.6 512.6L352.8 525.9L353.1 514.3L353.3 515.9L353.5 511.3L353.8 513.3L354.0 518.1L354.3 509.0L354.5 509.6L354.8 509.6L355.0 507.5L355.2 506.7L355.5 510.9L355.7 516.1L356.0 515.7L356.2 503.8L356.5 506.0L356.7 508.0L356.9 509.7L357.2 507.1L357.4 506.5L357.7 507.3L357.9 508.0L358.2 495.1L358.4 502.2L358.7 504.5L358.9 506.1L359.1 502.2L359.4 494.4L359.6 492.2L359.9 494.1L360.1 490.5L360.4 489.2L360.6 489.6L360.8 476.3L361.1 477.0L361.3 464.9L361.6 475.2L361.8 469.5L362.1 462.4L362.3 464.4L362.6 466.8L362.8 462.8L363.0 456.5L363.3 453.8L363.5 454.2L363.8 448.4L364.0 447.3L364.3 449.1L364.5 449.5L364.7 449.9L365.0 445.8L365.2 443.6L365.5 446.7L365.7 444.5L366.0 447.2L366.2 451.3L366.4 449.1L366.7 441.2L366.9 442.1L367.2 436.9L367.4 442.9L367.7 439.1L367.9 436.7L368.2 437.7L368.4 444.0L368.6 441.9L368.9 440.2L369.1 444.5L369.4 437.9L369.6 435.3L369.9 441.2L370.1 430.5L370.3 439.6L370.6 438.9L370.8 438.6L371.1 440.3L371.3 436.0L371.6 438.0L371.8 431.5L372.1 436.3L372.3 437.0L372.5 440.5L372.8 445.9L373.0 440.8L373.3 444.3L373.5 437.2L373.8 441.7L374.0 435.0L374.2 439.3L374.5 439.3L374.7 442.2L375.0 442.7L375.2 441.3L375.5 440.6L375.7 447.9L375.9 443.4L376.2 434.9L376.4 446.8L376.7 448.1L376.9 450.5L377.2 454.3L377.4 444.0L377.7 449.5L377.9 449.4L378.1 443.9L378.4 442.2L378.6 457.8L378.9 451.1L379.1 454.6L379.4 457.5L379.6 459.3L379.8 463.9L380.1 459.8L380.3 466.9L380.6 471.1L380.8 470.6L381.1 475.3L381.3 480.4L381.6 484.1L381.8 481.0L382.0 488.9L382.3 493.9L382.5 499.3L382.8 499.1L383.0 503.8L383.3 500.4L383.5 501.1L383.7 511.9L384.0 504.2L384.2 502.5L384.5 505.3L384.7 510.7L385.0 502.0L385.2 510.9L385.4 513.7L385.7 513.6L385.9 509.6L386.2 505.9L386.4 505.6L386.7 510.0L386.9 516.3L387.2 514.5L387.4 515.9L387.6 513.3L387.9 520.4L388.1 512.9L388.4 511.1L388.6 514.8L388.9 512.6L389.1 518.9L389.3 521.4L389.6 518.4L389.8 511.2L390.1 512.2L390.3 518.8L390.6 512.2L390.8 519.0L391.0 511.0L391.3 514.9L391.5 518.5L391.8 512.8L392.0 519.1L392.3 519.3L392.5 521.1L392.8 513.6L393.0 514.5L393.2 514.2L393.5 515.2L393.7 507.1L394.0 514.5L394.2 515.3L394.5 506.6L394.7 505.5L394.9 509.6L395.2 517.9L395.4 512.6L395.7 507.1L395.9 509.1L396.2 502.1L396.4 513.8L396.7 504.6L396.9 509.5L397.1 500.6L397.4 505.7L397.6 500.2L397.9 506.3L398.1 508.3L398.4 505.8L398.6 502.3L398.8 502.4L399.1 491.2L399.3 488.4L399.6 490.5L399.8 493.3L400.1 486.6L400.3 485.9L400.5 473.7L400.8 475.2L401.0 471.2L401.3 471.8L401.5 475.6L401.8 467.6L402.0 466.5L402.3 458.1L402.5 457.2L402.7 459.2L403.0 456.0L403.2 446.5L403.5 455.9L403.7 454.7L404.0 450.9L404.2 452.1L404.4 450.2L404.7 445.5L404.9 439.9L405.2 454.0L405.4 446.1L405.7 445.3L405.9 445.4L406.2 445.4L406.4 445.6L406.6 439.5L406.9 445.2L407.1 443.4L407.4 442.4L407.6 441.6L407.9 442.4L408.1 437.1L408.3 440.9L408.6 439.7L408.8 440.3L409.1 443.9L409.3 442.8L409.6 443.3L409.8 437.7L410.0 441.2L410.3 442.2L410.5 436.4L410.8 435.4L411.0 445.3L411.3 431.2L411.5 438.6L411.8 439.5L412.0 435.0L412.2 439.6L412.5 442.8L412.7 431.4L413.0 445.5L413.2 441.8L413.5 438.3L413.7 446.7L413.9 443.0L414.2 441.4L414.4 433.4L414.7 447.6L414.9 444.5L415.2 442.0L415.4 444.9L415.7 450.8L415.9 444.5L416.1 446.3L416.4 445.5L416.6 443.2L416.9 444.4L417.1 447.7L417.4 449.0L417.6 455.8L417.8 452.9L418.1 452.6L418.3 456.6L418.6 456.2L418.8 461.9L419.1 454.1L419.3 453.8L419.5 467.1L419.8 466.6L420.0 472.4L420.3 469.3L420.5 476.0L420.8 480.8L421.0 485.2L421.3 486.8L421.5 494.3L421.7 489.8L422.0 497.9L422.2 494.7L422.5 498.2L422.7 495.7L423.0 501.8L423.2 498.6L423.4 507.8L423.7 502.3L423.9 506.6L424.2 505.6L424.4 506.8L424.7 503.8L424.9 516.8L425.1 507.5L425.4 515.6L425.6 504.8L425.9 518.6L426.1 515.0L426.4 518.2L426.6 504.7L426.9 517.4L427.1 512.0L427.3 515.1L427.6 520.8L427.8 515.1L428.1 511.3L428.3 515.2L428.6 510.9L428.8 516.7L429.0 515.6L429.3 517.6L429.5 514.9L429.8 508.8L430.0 515.6L430.3 516.7L430.5 520.1L430.8 520.3L431.0 510.6L431.2 521.0L431.5 519.8L431.7 516.0L432.0 517.0L432.2 506.6L432.5 524.3L432.7 512.5L432.9 510.6L433.2 517.9L433.4 515.5L433.7 510.6L433.9 505.2L434.2 515.5L434.4 517.8L434.6 506.7L434.9 503.9L435.1 511.2L435.4 518.6L435.6 502.7L435.9 509.1L436.1 503.0L436.4 507.3L436.6 508.0L436.8 507.6L437.1 498.7L437.3 497.9L437.6 511.8L437.8 505.6L438.1 492.8L438.3 500.3L438.5 502.6L438.8 494.9L439.0 493.0L439.3 490.4L439.5 489.2L439.8 485.5L440.0 482.9L440.3 476.3L440.5 477.9L440.7 472.5L441.0 468.8L441.2 459.9L441.5 461.2L441.7 460.9L442.0 456.1L442.2 454.8L442.4 450.3L442.7 451.4L442.9 444.8L443.2 445.6L443.4 450.4L443.7 451.2L443.9 445.0L444.1 445.8L444.4 447.7L444.6 453.0L444.9 453.9L445.1 444.2L445.4 442.0L445.6 441.4L445.9 449.7L446.1 439.5L446.3 445.7L446.6 441.4L446.8 440.9L447.1 445.6L447.3 444.3L447.6 450.1L447.8 444.8L448.0 448.2L448.3 438.4L448.5 439.6L448.8 435.6L449.0 437.6L449.3 441.4L449.5 436.9L449.8 439.6L450.0 435.0L450.2 436.1L450.5 442.0L450.7 438.2L451.0 438.3L451.2 440.2L451.5 435.6L451.7 432.5L451.9 441.6L452.2 442.0L452.4 450.3L452.7 441.8L452.9 443.5L453.2 451.1L453.4 441.3L453.6 440.4L453.9 446.4L454.1 445.3L454.4 448.2L454.6 441.4L454.9 451.4L455.1 446.9L455.4 437.9L455.6 446.4L455.8 445.2L456.1 448.4L456.3 453.3L456.6 449.3L456.8 448.3L457.1 455.2L457.3 450.5L457.5 447.8L457.8 449.9L458.0 462.6L458.3 461.8L458.5 466.4L458.8 457.4L459.0 461.9L459.2 464.3L459.5 473.9L459.7 478.2L460.0 476.3L460.2 479.5L460.5 486.7L460.7 485.6L461.0 486.4L461.2 490.8L461.4 498.5L461.7 505.1L461.9 499.2L462.2 499.1L462.4 502.3L462.7 504.3L462.9 506.5L463.1 501.5L463.4 505.6L463.6 505.7L463.9 510.9L464.1 510.1L464.4 507.4L464.6 512.9L464.9 514.4L465.1 511.0L465.3 505.1L465.6 509.8L465.8 504.9L466.1 512.0L466.3 513.2L466.6 518.1L466.8 515.1L467.0 507.1L467.3 512.1L467.5 510.8L467.8 511.3L468.0 514.7L468.3 515.9L468.5 514.9L468.7 513.0L469.0 514.3L469.2 514.5L469.5 516.3L469.7 520.6L470.0 518.7L470.2 521.2L470.5 512.6L470.7 525.3L470.9 517.0L471.2 505.7L471.4 516.8L471.7 519.7L471.9 514.6L472.2 508.8L472.4 514.4L472.6 510.8L472.9 512.6L473.1 514.1L473.4 499.0L473.6 511.5L473.9 513.6L474.1 513.0L474.4 508.9L474.6 508.3L474.8 506.3L475.1 508.4L475.3 514.5L475.6 505.7L475.8 508.6L476.1 507.9L476.3 512.2L476.5 507.6L476.8 507.3L477.0 503.4L477.3 508.2L477.5 500.6L477.8 498.8L478.0 502.3L478.2 498.3L478.5 497.1L478.7 487.2L479.0 498.9L479.2 486.8L479.5 489.2L479.7 480.8L480.0 472.1L480.2 475.1L480.4 468.8L480.7 470.0L480.9 455.6L481.2 457.4L481.4 454.4L481.7 462.7L481.9 460.1L482.1 449.5L482.4 453.5L482.6 452.7L482.9 449.2L483.1 455.0L483.4 445.7L483.6 448.1L483.9 445.6L484.1 449.8L484.3 444.3L484.6 448.9L484.8 441.4L485.1 440.2L485.3 440.6L485.6 441.9L485.8 440.9L486.0 454.5L486.3 439.3L486.5 443.5L486.8 441.5L487.0 442.7L487.3 447.0L487.5 443.0L487.7 437.6L488.0 434.0L488.2 442.2L488.5 443.0L488.7 432.7L489.0 442.2L489.2 429.4L489.5 437.5L489.7 441.0L489.9 433.5L490.2 430.9L490.4 444.4L490.7 432.3L490.9 440.4L491.2 433.3L491.4 441.5L491.6 447.0L491.9 438.6L492.1 437.2L492.4 432.7L492.6 434.7L492.9 439.4L493.1 443.7L493.3 445.3L493.6 444.8L493.8 447.5L494.1 445.6L494.3 455.6L494.6 444.6L494.8 446.0L495.1 435.6L495.3 443.7L495.5 449.5L495.8 445.8L496.0 454.0L496.3 452.2L496.5 458.3L496.8 445.5L497.0 450.1L497.2 458.8L497.5 455.6L497.7 453.0L498.0 456.8L498.2 459.5L498.5 467.1L498.7 468.8L499.0 468.7L499.2 468.3L499.4 478.9L499.7 483.4L499.9 477.1L500.2 489.0L500.4 483.5L500.7 489.7L500.9 489.6L501.1 488.2L501.4 494.6L501.6 495.9L501.9 504.5L502.1 504.9L502.4 500.5L502.6 497.8L502.8 499.2L503.1 496.2L503.3 505.3L503.6 506.4L503.8 503.7L504.1 508.4L504.3 509.2L504.6 513.9L504.8 505.8L505.0 514.9L505.3 508.7L505.5 517.2L505.8 507.1L506.0 516.4L506.3 509.0L506.5 519.6L506.7 515.2L507.0 508.8L507.2 517.5L507.5 514.2L507.7 516.9L508.0 525.0L508.2 514.4L508.5 514.2L508.7 521.1L508.9 514.4L509.2 520.5L509.4 521.8L509.7 517.3L509.9 519.9L510.2 507.0L510.4 522.8L510.6 512.8L510.9 511.3L511.1 523.4L511.4 522.0L511.6 512.0L511.9 515.9L512.1 511.9L512.3 508.4L512.6 514.3L512.8 516.8L513.1 523.4L513.3 510.6L513.6 515.0L513.8 509.3L514.1 509.2L514.3 515.5L514.5 502.0L514.8 504.1L515.0 504.6L515.3 512.5L515.5 508.6L515.8 508.5L516.0 507.2L516.2 509.3L516.5 501.8L516.7 501.6L517.0 499.8L517.2 502.0L517.5 492.9L517.7 495.7L518.0 505.8L518.2 494.6L518.4 489.6L518.7 482.4L518.9 484.7L519.2 481.2L519.4 479.7L519.7 470.9L519.9 472.4L520.1 470.0L520.4 467.8L520.6 459.8L520.9 462.1L521.1 464.9L521.4 453.5L521.6 457.5L521.8 451.7L522.1 450.4L522.3 445.9L522.6 445.7L522.8 451.6L523.1 449.2L523.3 453.2L523.6 440.2L523.8 444.8L524.0 440.2L524.3 446.9L524.5 453.7L524.8 438.2L525.0 443.8L525.3 443.2L525.5 443.1L525.7 440.2L526.0 440.3L526.2 448.8L526.5 437.1L526.7 443.5L527.0 442.9L527.2 433.3L527.4 436.3L527.7 441.2L527.9 447.1L528.2 438.3L528.4 436.3L528.7 438.6L528.9 443.1L529.2 440.8L529.4 442.8L529.6 437.0L529.9 434.8L530.1 434.4L530.4 442.1L530.6 438.4L530.9 437.5L531.1 442.3L531.3 441.2L531.6 432.1L531.8 440.5L532.1 438.1L532.3 444.0L532.6 442.4L532.8 450.2L533.1 443.5L533.3 438.8L533.5 435.5L533.8 439.7L534.0 442.3L534.3 445.4L534.5 448.7L534.8 447.4L535.0 444.7L535.2 451.2L535.5 444.7L535.7 453.5L536.0 457.6L536.2 455.4L536.5 459.2L536.7 459.1L536.9 450.0L537.2 457.2L537.4 457.2L537.7 455.4L537.9 457.3L538.2 467.2L538.4 462.4L538.7 469.4L538.9 474.1L539.1 475.6L539.4 486.7L539.6 487.2L539.9 487.4L540.1 487.2L540.4 493.9L540.6 495.2L540.8 492.7L541.1 492.6L541.3 496.9L541.6 496.2L541.8 504.5L542.1 505.1L542.3 503.4L542.6 506.9L542.8 508.5L543.0 500.1L543.3 508.5L543.5 512.3L543.8 506.7L544.0 501.6L544.3 509.4L544.5 505.1L544.7 512.5L545.0 513.2L545.2 514.5L545.5 512.6L545.7 504.7L546.0 517.6L546.2 506.3L546.4 517.8L546.7 515.0L546.9 510.9L547.2 512.1L547.4 514.0L547.7 522.5L547.9 514.4L548.2 520.6L548.4 505.9L548.6 517.9L548.9 516.6L549.1 522.3L549.4 519.1L549.6 522.2L549.9 512.3L550.1 517.1L550.3 513.3L550.6 518.1L550.8 516.9L551.1 509.1L551.3 518.1L551.6 521.2L551.8 511.6L552.1 517.7L552.3 514.3L552.5 508.2L552.8 515.1L553.0 507.5L553.3 513.6L553.5 504.1L553.8 504.3L554.0 511.4L554.2 509.8L554.5 511.8L554.7 506.9L555.0 502.4L555.2 512.6L555.5 501.9L555.7 510.5L555.9 507.6L556.2 510.5L556.4 493.0L556.7 500.2L556.9 497.9L557.2 500.0L557.4 490.7L557.7 501.7L557.9 490.2L558.1 478.3L558.4 486.2L558.6 481.3L558.9 475.3L559.1 478.3L559.4 471.6L559.6 464.6L559.8 464.9L560.1 461.5L560.3 462.2L560.6 457.3L560.8 456.5L561.1 449.0L561.3 450.6L561.5 453.4L561.8 461.6L562.0 447.4L562.3 446.3L562.5 452.6L562.8 456.4L563.0 452.2L563.3 443.0L563.5 450.8L563.7 447.7L564.0 444.4L564.2 439.7L564.5 444.4L564.7 444.3L565.0 445.8L565.2 436.2L565.4 438.2L565.7 442.6L565.9 447.7L566.2 444.8L566.4 438.6L566.7 443.7L566.9 436.5L567.2 438.4L567.4 438.3L567.6 436.4L567.9 436.6L568.1 441.9L568.4 439.3L568.6 427.8L568.9 442.4L569.1 439.7L569.3 433.7L569.6 439.2L569.8 442.3L570.1 444.8L570.3 437.4L570.6 435.8L570.8 434.6L571.0 440.6L571.3 436.8L571.5 445.9L571.8 441.3L572.0 445.3L572.3 442.1L572.5 440.1L572.8 439.2L573.0 448.2L573.2 439.2L573.5 447.0L573.7 449.8L574.0 446.7L574.2 452.6L574.5 447.0L574.7 446.5L574.9 449.2L575.2 446.8L575.4 451.2L575.7 450.7L575.9 457.8L576.2 452.7L576.4 457.8L576.7 457.6L576.9 457.8L577.1 458.6L577.4 468.5L577.6 470.7L577.9 468.1L578.1 467.8L578.4 471.4L578.6 472.5L578.8 474.0L579.1 480.6L579.3 485.9L579.6 493.1L579.8 495.4L580.1 495.8L580.3 494.9L580.5 497.0L580.8 499.6L581.0 501.7L581.3 499.7L581.5 502.6L581.8 503.2L582.0 504.0L582.3 508.4L582.5 511.1L582.7 505.4L583.0 506.3L583.2 509.5L583.5 510.8L583.7 500.0L584.0 513.3L584.2 511.4L584.4 509.9L584.7 516.2L584.9 511.3L585.2 504.7L585.4 508.7L585.7 510.4L585.9 511.0L586.2 513.4L586.4 510.2L586.6 515.3L586.9 516.8L587.1 515.0L587.4 512.0L587.6 514.8L587.9 513.7L588.1 525.4L588.3 512.3L588.6 507.8L588.8 511.7L589.1 518.2L589.3 520.1L589.6 515.0L589.8 519.9L590.0 512.3L590.3 517.2L590.5 510.6L590.8 508.5L591.0 522.3L591.3 512.2L591.5 516.0L591.8 518.5L592.0 514.8L592.2 512.7L592.5 507.0L592.7 517.3L593.0 506.1L593.2 501.6L593.5 507.1L593.7 506.8L593.9 508.6L594.2 512.9L594.4 505.2L594.7 505.2L594.9 503.0L595.2 494.5L595.4 501.3L595.6 501.6L595.9 495.7L596.1 506.6L596.4 504.3L596.6 499.4L596.9 498.7L597.1 490.9L597.4 492.7L597.6 481.3L597.8 479.3L598.1 479.4L598.3 481.0L598.6 473.5L598.8 469.5L599.1 474.2L599.3 465.3L599.5 461.1L599.8 460.7L600.0 452.8L600.3 452.3L600.5 459.1L600.8 453.7L601.0 456.4L601.3 449.3L601.5 454.4L601.7 446.0L602.0 447.4L602.2 444.2L602.5 448.3L602.7 453.2L603.0 439.1L603.2 446.7L603.4 439.7L603.7 443.2L603.9 441.7L604.2 436.4L604.4 442.2L604.7 437.3L604.9 449.0L605.1 438.7L605.4 443.0L605.6 442.2L605.9 441.2L606.1 439.4L606.4 433.5L606.6 447.8L606.9 439.5L607.1 442.3L607.3 434.0L607.6 440.3L607.8 436.2L608.1 439.4L608.3 434.6L608.6 433.4L608.8 439.7L609.0 438.2L609.3 444.7L609.5 437.9L609.8 435.9L610.0 442.2L610.3 435.6L610.5 449.4L610.8 448.8L611.0 447.3L611.2 443.9L611.5 442.2L611.7 443.0L612.0 443.4L612.2 440.5L612.5 445.9L612.7 449.7L612.9 450.0L613.2 436.4L613.4 455.7L613.7 447.0L613.9 440.7L614.2 445.4L614.4 451.6L614.6 448.8L614.9 445.9L615.1 445.3L615.4 455.1L615.6 449.3L615.9 452.6L616.1 450.5L616.4 450.9L616.6 460.1L616.8 466.9L617.1 461.5L617.3 458.4L617.6 465.8L617.8 470.8L618.1 464.9L618.3 482.6L618.5 477.7L618.8 487.1L619.0 487.5L619.3 490.1L619.5 486.6L619.8 499.1L620.0 499.5L620.3 505.7L620.5 498.5L620.7 503.8L621.0 501.3L621.2 508.6L621.5 506.5L621.7 501.4L622.0 507.3L622.2 504.6L622.4 505.6L622.7 509.9L622.9 515.4L623.2 505.3L623.4 509.2L623.7 506.2L623.9 519.2L624.1 518.2L624.4 520.7L624.6 515.8L624.9 508.1L625.1 510.5L625.4 513.4L625.6 513.1L625.9 510.9L626.1 515.7L626.3 513.2L626.6 514.7L626.8 524.8L627.1 517.6L627.3 510.7L627.6 518.4L627.8 517.7L628.0 520.1L628.3 519.5L628.5 512.3L628.8 517.8L629.0 520.6L629.3 529.0L629.5 517.9L629.7 523.4L630.0 522.4L630.2 511.0L630.5 511.0L630.7 521.6L631.0 509.6L631.2 510.9L631.5 515.7L631.7 508.9L631.9 518.4L632.2 516.2L632.4 516.7L632.7 514.9L632.9 506.1L633.2 514.9L633.4 513.6L633.6 512.2L633.9 506.8L634.1 508.4L634.4 502.7L634.6 508.6L634.9 510.1L635.1 505.9L635.4 502.6L635.6 505.4L635.8 499.0L636.1 490.9L636.3 499.2L636.6 494.5L636.8 486.6L637.1 492.4L637.3 490.4L637.5 488.4L637.8 479.0L638.0 475.2L638.3 474.7L638.5 470.8L638.8 462.6L639.0 461.5L639.2 468.4L639.5 460.3L639.7 457.7L640.0 453.4L640.2 455.7L640.5 456.1L640.7 454.2L641.0 458.6L641.2 450.4L641.4 451.9L641.7 446.7L641.9 452.3L642.2 449.2L642.4 450.9L642.7 450.8L642.9 442.8L643.1 447.2L643.4 443.0L643.6 449.1L643.9 443.5L644.1 450.6L644.4 445.1L644.6 444.8L644.9 439.9L645.1 441.2L645.3 442.3L645.6 437.6L645.8 439.9L646.1 438.1L646.3 436.8L646.6 439.9L646.8 440.4" stroke="#1414ff" stroke-width="4.3" fill="none" stroke-linejoin="round" stroke-dasharray="1.2 0.8"/>
<path d="M330.4 441.0L330.6 442.9L330.9 440.1L331.1 437.5L331.4 437.9L331.6 441.7L331.9 444.8L332.1 441.4L332.3 442.0L332.6 438.6L332.8 443.6L333.1 443.4L333.3 440.9L333.6 445.0L333.8 444.4L334.1 439.1L334.3 440.1L334.5 443.2L334.8 444.7L335.0 449.0L335.3 444.7L335.5 446.6L335.8 446.6L336.0 449.3L336.2 448.2L336.5 449.2L336.7 448.2L337.0 445.3L337.2 449.2L337.5 456.0L337.7 454.6L338.0 457.2L338.2 455.6L338.4 452.4L338.7 453.9L338.9 458.2L339.2 456.9L339.4 461.6L339.7 465.4L339.9 467.4L340.1 468.0L340.4 463.6L340.6 474.9L340.9 470.0L341.1 472.9L341.4 480.8L341.6 483.7L341.8 488.7L342.1 489.9L342.3 490.7L342.6 495.3L342.8 494.7L343.1 496.2L343.3 500.7L343.6 502.3L343.8 505.0L344.0 504.9L344.3 510.5L344.5 506.8L344.8 508.3L345.0 512.3L345.3 503.7L345.5 514.0L345.7 514.3L346.0 511.3L346.2 518.6L346.5 515.6L346.7 518.3L347.0 517.1L347.2 514.9L347.5 514.0L347.7 512.0L347.9 513.3L348.2 512.5L348.4 514.8L348.7 518.4L348.9 514.0L349.2 519.3L349.4 520.1L349.6 513.8L349.9 516.5L350.1 518.7L350.4 517.4L350.6 517.4L350.9 524.7L351.1 521.2L351.3 524.7L351.6 520.3L351.8 522.4L352.1 515.7L352.3 517.9L352.6 521.6L352.8 518.8L353.1 522.1L353.3 517.8L353.5 515.9L353.8 516.4L354.0 522.7L354.3 517.4L354.5 514.4L354.8 514.6L355.0 511.6L355.2 518.7L355.5 512.7L355.7 515.9L356.0 512.8L356.2 511.6L356.5 510.3L356.7 513.6L356.9 510.7L357.2 514.3L357.4 514.4L357.7 507.6L357.9 508.6L358.2 512.6L358.4 509.2L358.7 505.3L358.9 499.2L359.1 499.3L359.4 498.3L359.6 504.3L359.9 496.8L360.1 492.5L360.4 490.0L360.6 487.0L360.8 485.8L361.1 476.4L361.3 474.0L361.6 475.6L361.8 475.2L362.1 462.9L362.3 468.3L362.6 460.5L362.8 456.1L363.0 463.0L363.3 457.5L363.5 458.0L363.8 454.1L364.0 453.6L364.3 447.6L364.5 450.9L364.7 452.0L365.0 447.8L365.2 451.4L365.5 451.1L365.7 442.5L366.0 451.5L366.2 449.9L366.4 447.8L366.7 450.8L366.9 453.6L367.2 443.4L367.4 448.6L367.7 447.5L367.9 446.5L368.2 448.0L368.4 447.9L368.6 443.7L368.9 436.4L369.1 441.1L369.4 440.7L369.6 447.3L369.9 442.3L370.1 445.5L370.3 439.1L370.6 441.8L370.8 440.6L371.1 440.7L371.3 442.6L371.6 445.8L371.8 439.7L372.1 446.2L372.3 445.9L372.5 443.6L372.8 445.2L373.0 442.6L373.3 440.7L373.5 443.5L373.8 444.0L374.0 445.0L374.2 442.8L374.5 451.6L374.7 445.1L375.0 449.6L375.2 450.9L375.5 447.6L375.7 449.2L375.9 446.7L376.2 445.6L376.4 456.7L376.7 450.3L376.9 444.7L377.2 448.7L377.4 447.6L377.7 452.6L377.9 458.2L378.1 458.2L378.4 453.7L378.6 454.2L378.9 460.9L379.1 461.2L379.4 461.5L379.6 469.9L379.8 468.1L380.1 464.7L380.3 465.9L380.6 476.1L380.8 473.4L381.1 484.0L381.3 488.1L381.6 495.7L381.8 488.7L382.0 495.6L382.3 489.7L382.5 498.1L382.8 500.5L383.0 508.4L383.3 499.6L383.5 506.7L383.7 507.2L384.0 514.5L384.2 505.8L384.5 506.4L384.7 512.0L385.0 510.5L385.2 510.2L385.4 509.0L385.7 512.2L385.9 507.7L386.2 514.2L386.4 515.8L386.7 515.8L386.9 522.6L387.2 517.7L387.4 512.5L387.6 515.2L387.9 519.0L388.1 515.8L388.4 523.5L388.6 518.5L388.9 516.4L389.1 516.3L389.3 521.2L389.6 516.4L389.8 513.8L390.1 521.3L390.3 518.0L390.6 525.5L390.8 527.2L391.0 518.9L391.3 520.3L391.5 519.4L391.8 521.5L392.0 520.2L392.3 516.4L392.5 513.2L392.8 518.8L393.0 522.8L393.2 513.4L393.5 515.1L393.7 514.4L394.0 515.6L394.2 508.5L394.5 515.1L394.7 513.3L394.9 520.2L395.2 515.8L395.4 515.7L395.7 513.2L395.9 511.5L396.2 514.4L396.4 506.1L396.7 514.2L396.9 511.6L397.1 508.8L397.4 512.6L397.6 506.1L397.9 505.0L398.1 506.7L398.4 498.6L398.6 502.8L398.8 500.6L399.1 502.5L399.3 502.6L399.6 496.9L399.8 493.3L400.1 490.8L400.3 483.9L400.5 490.4L400.8 483.3L401.0 482.1L401.3 469.2L401.5 472.1L401.8 469.1L402.0 468.4L402.3 460.0L402.5 462.0L402.7 458.3L403.0 463.8L403.2 452.5L403.5 453.7L403.7 452.2L404.0 449.2L404.2 452.8L404.4 452.0L404.7 448.6L404.9 448.9L405.2 450.4L405.4 449.0L405.7 450.2L405.9 445.9L406.2 444.8L406.4 447.2L406.6 440.9L406.9 451.1L407.1 446.6L407.4 440.2L407.6 446.4L407.9 449.6L408.1 440.0L408.3 442.2L408.6 447.2L408.8 440.7L409.1 445.9L409.3 446.5L409.6 442.4L409.8 443.1L410.0 444.6L410.3 441.9L410.5 443.5L410.8 440.4L411.0 441.0L411.3 439.0L411.5 443.1L411.8 446.2L412.0 446.6L412.2 443.6L412.5 438.5L412.7 441.0L413.0 446.0L413.2 441.5L413.5 448.4L413.7 442.1L413.9 446.8L414.2 443.7L414.4 444.6L414.7 447.8L414.9 446.4L415.2 451.1L415.4 448.5L415.7 445.4L415.9 436.6L416.1 447.7L416.4 450.2L416.6 454.2L416.9 448.5L417.1 457.7L417.4 455.9L417.6 453.2L417.8 459.1L418.1 451.9L418.3 454.7L418.6 461.4L418.8 463.3L419.1 467.7L419.3 470.3L419.5 467.3L419.8 469.6L420.0 473.5L420.3 477.0L420.5 482.8L420.8 483.2L421.0 492.1L421.3 490.6L421.5 488.8L421.7 491.9L422.0 499.7L422.2 501.4L422.5 497.9L422.7 498.2L423.0 509.7L423.2 507.6L423.4 506.6L423.7 504.5L423.9 511.7L424.2 507.8L424.4 511.4L424.7 503.8L424.9 510.4L425.1 512.7L425.4 513.8L425.6 510.0L425.9 511.6L426.1 517.5L426.4 513.9L426.6 519.2L426.9 517.8L427.1 519.9L427.3 520.4L427.6 518.8L427.8 520.1L428.1 515.8L428.3 515.4L428.6 519.0L428.8 522.1L429.0 516.5L429.3 525.7L429.5 525.8L429.8 517.9L430.0 518.5L430.3 517.9L430.5 521.6L430.8 524.5L431.0 521.7L431.2 518.0L431.5 521.8L431.7 521.2L432.0 522.9L432.2 521.8L432.5 515.2L432.7 516.0L432.9 520.7L433.2 520.0L433.4 518.0L433.7 514.1L433.9 519.1L434.2 515.5L434.4 521.2L434.6 518.0L434.9 512.4L435.1 510.4L435.4 516.3L435.6 514.6L435.9 509.2L436.1 512.3L436.4 512.2L436.6 508.2L436.8 508.4L437.1 504.8L437.3 504.8L437.6 508.0L437.8 505.4L438.1 503.8L438.3 506.3L438.5 503.3L438.8 495.2L439.0 500.8L439.3 490.2L439.5 489.6L439.8 487.9L440.0 482.6L440.3 479.5L440.5 473.9L440.7 475.7L441.0 472.1L441.2 469.3L441.5 460.1L441.7 460.6L442.0 464.3L442.2 460.6L442.4 460.2L442.7 456.5L442.9 454.7L443.2 447.2L443.4 459.0L443.7 449.3L443.9 450.4L444.1 453.2L444.4 450.9L444.6 451.3L444.9 449.1L445.1 445.6L445.4 453.0L445.6 443.7L445.9 448.5L446.1 442.2L446.3 445.2L446.6 442.2L446.8 443.9L447.1 441.8L447.3 444.6L447.6 447.0L447.8 441.9L448.0 441.4L448.3 436.7L448.5 449.0L448.8 443.1L449.0 438.8L449.3 445.6L449.5 442.0L449.8 434.4L450.0 436.1L450.2 443.1L450.5 436.4L450.7 437.5L451.0 439.1L451.2 440.7L451.5 441.6L451.7 445.4L451.9 444.7L452.2 441.2L452.4 443.4L452.7 438.5L452.9 445.7L453.2 452.5L453.4 446.5L453.6 445.0L453.9 445.1L454.1 446.5L454.4 449.7L454.6 443.0L454.9 450.1L455.1 446.3L455.4 449.9L455.6 453.3L455.8 445.8L456.1 458.5L456.3 454.1L456.6 450.8L456.8 454.1L457.1 451.6L457.3 455.2L457.5 457.5L457.8 450.8L458.0 459.7L458.3 461.2L458.5 466.1L458.8 467.3L459.0 465.5L459.2 468.6L459.5 473.3L459.7 478.7L460.0 477.6L460.2 488.3L460.5 487.3L460.7 490.2L461.0 494.9L461.2 494.5L461.4 499.4L461.7 502.0L461.9 495.8L462.2 500.8L462.4 500.8L462.7 505.6L462.9 503.9L463.1 505.4L463.4 504.9L463.6 502.1L463.9 510.9L464.1 510.0L464.4 511.5L464.6 522.8L464.9 516.8L465.1 512.9L465.3 511.5L465.6 515.7L465.8 510.8L466.1 510.8L466.3 516.4L466.6 511.2L466.8 510.6L467.0 515.0L467.3 519.8L467.5 512.7L467.8 518.1L468.0 519.1L468.3 518.0L468.5 520.4L468.7 515.8L469.0 517.1L469.2 516.1L469.5 518.5L469.7 523.1L470.0 521.4L470.2 517.8L470.5 521.4L470.7 510.8L470.9 520.1L471.2 520.8L471.4 515.1L471.7 515.9L471.9 517.9L472.2 518.2L472.4 515.7L472.6 514.1L472.9 513.9L473.1 516.8L473.4 514.1L473.6 512.4L473.9 512.2L474.1 523.7L474.4 516.5L474.6 515.7L474.8 513.5L475.1 511.7L475.3 508.9L475.6 509.3L475.8 511.0L476.1 509.9L476.3 503.8L476.5 510.3L476.8 506.6L477.0 501.7L477.3 504.3L477.5 510.4L477.8 501.4L478.0 502.0L478.2 499.2L478.5 493.4L478.7 492.7L479.0 492.3L479.2 485.7L479.5 484.0L479.7 481.7L480.0 477.8L480.2 474.7L480.4 473.4L480.7 470.9L480.9 466.7L481.2 467.2L481.4 466.0L481.7 456.1L481.9 459.2L482.1 457.0L482.4 456.1L482.6 454.5L482.9 453.5L483.1 452.5L483.4 454.4L483.6 448.3L483.9 452.6L484.1 446.7L484.3 455.3L484.6 452.1L484.8 445.2L485.1 448.3L485.3 449.5L485.6 445.8L485.8 449.7L486.0 445.8L486.3 452.5L486.5 446.6L486.8 446.8L487.0 442.8L487.3 441.3L487.5 446.3L487.7 438.3L488.0 444.7L488.2 448.8L488.5 449.5L488.7 437.0L489.0 441.6L489.2 442.9L489.5 442.9L489.7 443.6L489.9 436.4L490.2 441.2L490.4 435.8L490.7 442.3L490.9 449.3L491.2 439.8L491.4 444.0L491.6 444.0L491.9 438.8L492.1 444.8L492.4 440.8L492.6 444.8L492.9 447.5L493.1 444.0L493.3 447.9L493.6 442.7L493.8 443.9L494.1 447.1L494.3 445.9L494.6 446.5L494.8 449.6L495.1 446.5L495.3 450.5L495.5 448.5L495.8 454.0L496.0 451.5L496.3 451.3L496.5 455.9L496.8 455.7L497.0 457.2L497.2 454.6L497.5 460.5L497.7 458.6L498.0 457.2L498.2 462.9L498.5 471.5L498.7 468.8L499.0 468.9L499.2 476.1L499.4 475.0L499.7 479.8L499.9 483.7L500.2 489.0L500.4 492.7L500.7 494.7L500.9 496.2L501.1 497.0L501.4 499.3L501.6 503.3L501.9 503.7L502.1 504.0L502.4 511.4L502.6 509.8L502.8 510.8L503.1 509.7L503.3 510.7L503.6 511.3L503.8 513.8L504.1 509.6L504.3 511.3L504.6 517.8L504.8 513.1L505.0 517.1L505.3 508.8L505.5 515.9L505.8 516.2L506.0 515.1L506.3 516.4L506.5 516.4L506.7 511.8L507.0 516.3L507.2 514.8L507.5 514.3L507.7 521.2L508.0 513.3L508.2 516.8L508.5 516.3L508.7 522.4L508.9 517.5L509.2 519.2L509.4 522.5L509.7 513.6L509.9 518.5L510.2 520.6L510.4 518.9L510.6 516.3L510.9 515.2L511.1 516.5L511.4 514.2L511.6 513.0L511.9 521.0L512.1 518.3L512.3 519.3L512.6 515.7L512.8 511.1L513.1 513.1L513.3 517.9L513.6 515.2L513.8 510.7L514.1 515.0L514.3 513.2L514.5 511.5L514.8 517.5L515.0 508.9L515.3 509.7L515.5 508.4L515.8 512.4L516.0 511.0L516.2 509.6L516.5 506.1L516.7 505.5L517.0 504.1L517.2 497.5L517.5 497.4L517.7 501.8L518.0 499.5L518.2 489.8L518.4 493.4L518.7 485.3L518.9 481.5L519.2 484.9L519.4 480.8L519.7 476.4L519.9 476.1L520.1 473.5L520.4 468.9L520.6 462.5L520.9 464.2L521.1 461.4L521.4 460.4L521.6 461.7L521.8 451.5L522.1 462.1L522.3 455.9L522.6 451.2L522.8 456.4L523.1 449.5L523.3 446.8L523.6 452.7L523.8 448.8L524.0 452.4L524.3 446.9L524.5 447.7L524.8 446.8L525.0 442.8L525.3 445.1L525.5 442.0L525.7 443.8L526.0 449.0L526.2 444.1L526.5 443.0L526.7 448.6L527.0 439.6L527.2 443.1L527.4 441.8L527.7 445.3L527.9 442.0L528.2 440.9L528.4 442.4L528.7 440.8L528.9 447.2L529.2 436.1L529.4 443.8L529.6 447.5L529.9 444.1L530.1 444.1L530.4 440.2L530.6 445.1L530.9 441.8L531.1 446.0L531.3 436.6L531.6 442.1L531.8 438.2L532.1 447.7L532.3 442.9L532.6 448.4L532.8 444.0L533.1 444.1L533.3 451.6L533.5 450.6L533.8 451.2L534.0 452.7L534.3 450.8L534.5 452.0L534.8 454.1L535.0 449.9L535.2 449.1L535.5 455.5L535.7 454.0L536.0 453.0L536.2 454.7L536.5 457.2L536.7 453.8L536.9 455.1L537.2 457.2L537.4 461.7L537.7 457.0L537.9 460.1L538.2 469.3L538.4 471.3L538.7 470.3L538.9 479.7L539.1 479.3L539.4 483.6L539.6 489.2L539.9 490.8L540.1 497.7L540.4 497.2L540.6 504.0L540.8 492.9L541.1 497.1L541.3 499.5L541.6 503.8L541.8 502.9L542.1 503.1L542.3 504.8L542.6 506.0L542.8 512.4L543.0 508.9L543.3 512.5L543.5 515.1L543.8 515.5L544.0 511.2L544.3 509.8L544.5 517.7L544.7 508.6L545.0 509.8L545.2 516.0L545.5 516.7L545.7 515.9L546.0 513.0L546.2 517.7L546.4 520.3L546.7 516.2L546.9 524.0L547.2 517.6L547.4 514.9L547.7 517.9L547.9 516.8L548.2 518.1L548.4 517.7L548.6 519.9L548.9 523.3L549.1 521.5L549.4 520.7L549.6 516.2L549.9 514.7L550.1 518.0L550.3 521.2L550.6 520.8L550.8 518.7L551.1 513.5L551.3 516.3L551.6 517.1L551.8 518.9L552.1 513.4L552.3 514.9L552.5 515.5L552.8 514.6L553.0 509.3L553.3 514.6L553.5 508.4L553.8 509.3L554.0 512.5L554.2 509.4L554.5 512.0L554.7 513.6L555.0 511.3L555.2 512.6L555.5 507.4L555.7 508.1L555.9 505.5L556.2 503.7L556.4 514.7L556.7 502.7L556.9 507.7L557.2 499.8L557.4 501.1L557.7 495.7L557.9 489.3L558.1 496.0L558.4 487.1L558.6 484.8L558.9 487.1L559.1 475.9L559.4 474.6L559.6 473.2L559.8 471.0L560.1 456.2L560.3 464.9L560.6 467.1L560.8 462.6L561.1 459.2L561.3 457.8L561.5 455.6L561.8 457.5L562.0 451.6L562.3 453.9L562.5 455.9L562.8 453.5L563.0 451.5L563.3 447.1L563.5 447.7L563.7 449.7L564.0 448.1L564.2 447.1L564.5 441.0L564.7 448.7L565.0 444.9L565.2 443.7L565.4 448.5L565.7 444.6L565.9 444.2L566.2 445.8L566.4 442.2L566.7 440.4L566.9 439.7L567.2 443.4L567.4 441.8L567.6 434.7L567.9 445.0L568.1 440.5L568.4 438.1L568.6 440.0L568.9 438.2L569.1 440.1L569.3 438.7L569.6 437.4L569.8 442.5L570.1 441.5L570.3 442.7L570.6 444.2L570.8 443.4L571.0 447.2L571.3 441.8L571.5 439.2L571.8 439.6L572.0 441.4L572.3 448.7L572.5 441.4L572.8 448.8L573.0 447.2L573.2 441.7L573.5 451.2L573.7 445.8L574.0 448.0L574.2 449.9L574.5 452.7L574.7 449.3L574.9 452.7L575.2 448.8L575.4 449.0L575.7 458.0L575.9 456.3L576.2 456.8L576.4 460.8L576.7 462.2L576.9 460.2L577.1 463.0L577.4 469.7L577.6 468.8L577.9 468.3L578.1 476.6L578.4 478.9L578.6 474.4L578.8 478.5L579.1 490.8L579.3 493.1L579.6 490.7L579.8 498.3L580.1 497.8L580.3 500.6L580.5 499.4L580.8 510.6L581.0 511.1L581.3 509.3L581.5 503.5L581.8 508.1L582.0 513.8L582.3 507.8L582.5 507.8L582.7 511.4L583.0 512.3L583.2 510.5L583.5 508.6L583.7 512.4L584.0 511.7L584.2 513.9L584.4 515.4L584.7 517.5L584.9 514.3L585.2 516.4L585.4 516.7L585.7 513.5L585.9 515.2L586.2 514.4L586.4 522.4L586.6 516.2L586.9 520.1L587.1 521.2L587.4 521.7L587.6 515.7L587.9 517.3L588.1 522.4L588.3 524.1L588.6 520.9L588.8 522.0L589.1 515.1L589.3 524.3L589.6 525.1L589.8 519.9L590.0 518.6L590.3 517.9L590.5 515.6L590.8 511.1L591.0 518.2L591.3 518.4L591.5 521.8L591.8 515.2L592.0 512.9L592.2 515.9L592.5 511.0L592.7 514.1L593.0 509.1L593.2 512.3L593.5 516.1L593.7 514.3L593.9 516.6L594.2 516.6L594.4 509.8L594.7 507.3L594.9 503.3L595.2 508.7L595.4 508.4L595.6 510.1L595.9 502.5L596.1 503.0L596.4 504.6L596.6 498.9L596.9 497.4L597.1 502.7L597.4 492.2L597.6 491.4L597.8 490.1L598.1 487.0L598.3 477.1L598.6 474.4L598.8 470.3L599.1 476.3L599.3 471.8L599.5 464.3L599.8 468.3L600.0 464.6L600.3 465.9L600.5 452.9L600.8 453.9L601.0 454.4L601.3 454.0L601.5 454.9L601.7 454.0L602.0 450.1L602.2 453.4L602.5 446.8L602.7 451.5L603.0 452.1L603.2 444.9L603.4 448.8L603.7 446.2L603.9 448.7L604.2 453.9L604.4 444.9L604.7 450.3L604.9 442.4L605.1 450.1L605.4 450.7L605.6 443.5L605.9 442.8L606.1 443.4L606.4 447.1L606.6 440.2L606.9 447.1L607.1 443.6L607.3 444.2L607.6 442.5L607.8 438.4L608.1 442.6L608.3 438.5L608.6 438.3L608.8 446.2L609.0 444.9L609.3 442.8L609.5 443.8L609.8 441.4L610.0 448.8L610.3 440.9L610.5 441.3L610.8 444.5L611.0 448.6L611.2 444.7L611.5 446.8L611.7 443.8L612.0 446.2L612.2 444.2L612.5 448.2L612.7 442.8L612.9 454.9L613.2 451.3L613.4 447.2L613.7 453.9L613.9 447.5L614.2 454.1L614.4 450.7L614.6 454.5L614.9 453.8L615.1 452.8L615.4 454.6L615.6 456.6L615.9 450.0L616.1 458.1L616.4 462.8L616.6 458.8L616.8 461.2L617.1 462.4L617.3 463.3L617.6 474.6L617.8 471.5L618.1 474.5L618.3 481.3L618.5 483.9L618.8 497.1L619.0 492.6L619.3 488.1L619.5 501.7L619.8 500.1L620.0 499.5L620.3 500.4L620.5 498.7L620.7 510.5L621.0 506.1L621.2 504.6L621.5 512.3L621.7 509.2L622.0 504.0L622.2 506.4L622.4 509.4L622.7 519.7L622.9 512.6L623.2 511.5L623.4 514.1L623.7 513.8L623.9 504.5L624.1 515.2L624.4 517.9L624.6 514.6L624.9 516.7L625.1 517.1L625.4 516.8L625.6 514.6L625.9 516.6L626.1 521.5L626.3 518.6L626.6 517.1L626.8 520.4L627.1 515.8L627.3 517.3L627.6 523.1L627.8 519.5L628.0 514.7L628.3 515.9L628.5 520.5L628.8 517.2L629.0 521.7L629.3 523.7L629.5 517.1L629.7 517.7L630.0 516.5L630.2 517.7L630.5 516.3L630.7 518.5L631.0 515.0L631.2 513.5L631.5 515.8L631.7 512.7L631.9 520.3L632.2 516.8L632.4 509.5L632.7 508.1L632.9 512.3L633.2 512.9L633.4 515.9L633.6 510.4L633.9 508.5L634.1 514.8L634.4 507.8L634.6 507.3L634.9 506.6L635.1 510.5L635.4 504.3L635.6 509.4L635.8 498.7L636.1 501.3L636.3 503.5L636.6 493.6L636.8 491.9L637.1 494.8L637.3 483.2L637.5 490.0L637.8 482.7L638.0 476.8L638.3 484.1L638.5 470.8L638.8 471.1L639.0 468.1L639.2 468.8L639.5 462.1L639.7 464.5L640.0 462.3L640.2 459.1L640.5 460.1L640.7 450.2L641.0 458.1L641.2 455.4L641.4 453.2L641.7 451.5L641.9 448.4L642.2 447.7L642.4 450.6L642.7 450.3L642.9 448.5L643.1 445.5L643.4 445.4L643.6 448.7L643.9 453.1L644.1 439.7L644.4 442.9L644.6 444.6L644.9 444.0L645.1 446.3L645.3 447.3L645.6 444.9L645.8 444.1L646.1 445.0L646.3 447.2L646.6 443.3L646.8 440.1" stroke="#0f0" stroke-width="3.2" fill="none" stroke-linejoin="round" stroke-linecap="round"/>
</g>
<g stroke="#444" stroke-width="1" fill="none">
<rect x="330.4" y="343.7" width="316.4" height="231.8" stroke-width="1.1"/>
<path d="M330.4 575.5v-3.2M330.4 343.7v3.2"/>
<path d="M393.7 575.5v-3.2M393.7 343.7v3.2"/>
<path d="M457.0 575.5v-3.2M457.0 343.7v3.2"/>
<path d="M520.2 575.5v-3.2M520.2 343.7v3.2"/>
<path d="M583.5 575.5v-3.2M583.5 343.7v3.2"/>
<path d="M646.8 575.5v-3.2M646.8 343.7v3.2"/>
<path d="M330.4 564.5h3.2M646.8 564.5h-3.2"/>
<path d="M330.4 520.3h3.2M646.8 520.3h-3.2"/>
<path d="M330.4 476.2h3.2M646.8 476.2h-3.2"/>
<path d="M330.4 432.0h3.2M646.8 432.0h-3.2"/>
<path d="M330.4 387.9h3.2M646.8 387.9h-3.2"/>
<path d="M330.4 343.7h3.2M646.8 343.7h-3.2"/>
</g>
<g font-family='"Liberation Serif", "Times New Roman", serif' font-size="12.5" fill="#111">
<text x="328.2" y="568.6" text-anchor="end">-40</text>
<text x="328.2" y="524.4" text-anchor="end">-20</text>
<text x="328.2" y="480.3" text-anchor="end">0</text>
<text x="328.2" y="436.1" text-anchor="end">20</text>
<text x="328.2" y="392.0" text-anchor="end">40</text>
<text x="328.2" y="347.8" text-anchor="end">60</text>
<text x="330.4" y="588.3" text-anchor="middle">0</text>
<text x="393.7" y="588.3" text-anchor="middle">0.2</text>
<text x="457.0" y="588.3" text-anchor="middle">0.4</text>
<text x="520.2" y="588.3" text-anchor="middle">0.6</text>
<text x="583.5" y="588.3" text-anchor="middle">0.8</text>
<text x="646.8" y="588.3" text-anchor="middle">1</text>
</g>
<text x="330" y="333.6" font-family='"Liberation Serif", "Times New Roman", serif' font-size="14.6" fill="#000" textLength="316.8" lengthAdjust="spacingAndGlyphs">FBG wavelength shift signal time domain-400mm/s2</text>
<text x="488" y="599" font-family='"Liberation Serif", "Times New Roman", serif' font-size="12.5" text-anchor="middle" fill="#000">t/s</text>
<text transform="translate(305.8 479.8) rotate(-90)" font-family='"Liberation Serif", "Times New Roman", serif, "DejaVu Sans"' font-size="13" fill="#111" textLength="39.5" lengthAdjust="spacingAndGlyphs">△λ/ <tspan font-weight="bold">pm</tspan></text>
<rect x="536.6" y="347" width="107.4" height="48.4" fill="#fff" stroke="#444" stroke-width="1"/>
<path d="M540.2 356.2H558.6" stroke="#00f" stroke-width="0.9" opacity="0.8"/>
<path d="M549.4000000000001 353.0l3 5.2h-6z" stroke="#00f" stroke-width="1" fill="#fff" fill-opacity="0.6"/>
<path d="M540.2 371.0H558.6" stroke="#0f0" stroke-width="0.9"/>
<circle cx="549.4000000000001" cy="371.0" r="1.7" fill="#0f0"/>
<path d="M540.2 387.3H558.6" stroke="#f0f" stroke-width="0.9" opacity="0.8"/>
<g font-family='"Liberation Serif", "Times New Roman", serif' font-size="12.6" fill="#111">
<text x="560.4" y="360.4">#1 FBG</text>
<text x="560.4" y="375.2">#2 FBG</text>
<text x="560.4" y="391.5">#1FBG+#2FBG</text>
</g>
<rect x="687.6" y="107.7" width="295.6" height="206.3" fill="#fff" stroke="none"/>
<clipPath id="c687"><rect x="687.6" y="107.7" width="295.6" height="206.3"/></clipPath><g clip-path="url(#c687)">
<path d="M687.6 207.4L687.8 204.0L688.0 203.4L688.2 198.8L688.4 196.1L688.7 194.7L688.9 192.8L689.1 188.2L689.3 187.2L689.5 183.6L689.7 182.4L689.9 179.3L690.1 178.3L690.3 177.6L690.6 174.4L690.8 172.9L691.0 170.3L691.2 169.9L691.4 168.4L691.6 165.7L691.8 164.1L692.0 163.4L692.2 162.0L692.5 161.6L692.7 160.4L692.9 159.4L693.1 159.2L693.3 158.9L693.5 158.3L693.7 155.5L693.9 157.6L694.2 157.6L694.4 157.6L694.6 157.2L694.8 156.9L695.0 158.4L695.2 159.5L695.4 157.4L695.6 159.7L695.8 158.2L696.1 158.8L696.3 158.4L696.5 158.5L696.7 160.6L696.9 162.4L697.1 164.0L697.3 164.6L697.5 164.8L697.7 168.1L698.0 167.1L698.2 168.5L698.4 169.2L698.6 171.6L698.8 172.6L699.0 175.0L699.2 176.4L699.4 179.4L699.6 179.2L699.9 179.5L700.1 182.8L700.3 184.5L700.5 187.8L700.7 187.4L700.9 191.7L701.1 192.2L701.3 195.1L701.5 198.5L701.8 198.7L702.0 202.1L702.2 204.3L702.4 206.5L702.6 209.4L702.8 212.4L703.0 214.1L703.2 217.7L703.4 219.9L703.7 223.5L703.9 227.4L704.1 229.6L704.3 232.9L704.5 234.6L704.7 234.8L704.9 239.4L705.1 239.3L705.3 243.6L705.6 244.4L705.8 246.0L706.0 249.9L706.2 251.7L706.4 251.9L706.6 254.3L706.8 256.8L707.0 259.8L707.3 259.1L707.5 263.8L707.7 266.9L707.9 266.6L708.1 270.1L708.3 273.4L708.5 274.1L708.7 277.4L708.9 279.1L709.2 281.7L709.4 285.2L709.6 285.2L709.8 288.1L710.0 291.3L710.2 292.9L710.4 293.0L710.6 296.1L710.8 297.4L711.1 298.4L711.3 300.5L711.5 303.6L711.7 302.7L711.9 303.6L712.1 304.9L712.3 305.1L712.5 307.3L712.7 307.7L713.0 307.6L713.2 310.1L713.4 308.5L713.6 308.9L713.8 310.1L714.0 309.1L714.2 310.1L714.4 311.7L714.6 309.4L714.9 309.8L715.1 309.2L715.3 308.8L715.5 306.8L715.7 306.7L715.9 306.9L716.1 304.6L716.3 303.0L716.5 303.1L716.8 301.3L717.0 299.6L717.2 298.1L717.4 295.3L717.6 292.7L717.8 289.7L718.0 288.3L718.2 286.3L718.4 283.8L718.7 281.3L718.9 280.6L719.1 277.0L719.3 274.8L719.5 272.7L719.7 270.4L719.9 267.7L720.1 264.8L720.4 263.1L720.6 258.6L720.8 256.4L721.0 253.6L721.2 250.7L721.4 247.7L721.6 246.5L721.8 243.6L722.0 242.8L722.3 241.2L722.5 238.9L722.7 233.5L722.9 235.0L723.1 228.5L723.3 223.8L723.5 222.4L723.7 217.0L723.9 213.6L724.2 211.4L724.4 207.0L724.6 205.9L724.8 204.4L725.0 200.4L725.2 198.7L725.4 197.0L725.6 194.5L725.8 188.3L726.1 188.9L726.3 186.1L726.5 184.5L726.7 181.6L726.9 179.9L727.1 178.1L727.3 177.1L727.5 175.5L727.7 173.1L728.0 170.4L728.2 167.1L728.4 166.7L728.6 164.5L728.8 164.7L729.0 164.1L729.2 164.3L729.4 161.9L729.6 163.3L729.9 160.5L730.1 157.8L730.3 158.6L730.5 157.2L730.7 158.3L730.9 159.0L731.1 157.8L731.3 157.6L731.5 155.9L731.8 155.1L732.0 158.0L732.2 157.8L732.4 157.8L732.6 158.4L732.8 159.8L733.0 158.9L733.2 159.3L733.5 159.9L733.7 162.3L733.9 162.1L734.1 164.7L734.3 162.9L734.5 166.0L734.7 166.4L734.9 167.8L735.1 169.2L735.4 171.1L735.6 173.2L735.8 171.1L736.0 174.2L736.2 175.8L736.4 175.6L736.6 179.6L736.8 180.7L737.0 183.1L737.3 183.9L737.5 186.5L737.7 188.8L737.9 191.4L738.1 193.0L738.3 194.3L738.5 199.9L738.7 200.1L738.9 202.8L739.2 205.1L739.4 209.2L739.6 208.9L739.8 213.1L740.0 215.1L740.2 218.1L740.4 222.1L740.6 223.6L740.8 228.1L741.1 230.3L741.3 233.1L741.5 234.8L741.7 236.1L741.9 238.0L742.1 237.4L742.3 241.1L742.5 244.8L742.7 246.3L743.0 248.5L743.2 250.2L743.4 252.9L743.6 255.5L743.8 255.2L744.0 259.2L744.2 261.9L744.4 264.2L744.6 266.5L744.9 267.2L745.1 270.5L745.3 272.1L745.5 278.8L745.7 277.5L745.9 278.9L746.1 280.2L746.3 284.3L746.6 288.2L746.8 287.9L747.0 291.0L747.2 294.2L747.4 294.8L747.6 294.8L747.8 296.4L748.0 298.5L748.2 301.8L748.5 299.6L748.7 304.7L748.9 304.8L749.1 307.3L749.3 305.5L749.5 307.3L749.7 307.7L749.9 309.2L750.1 309.9L750.4 310.1L750.6 312.6L750.8 309.8L751.0 310.0L751.2 311.3L751.4 310.8L751.6 310.1L751.8 308.4L752.0 309.0L752.3 308.8L752.5 308.5L752.7 308.6L752.9 306.7L753.1 304.8L753.3 303.8L753.5 302.1L753.7 299.9L753.9 298.5L754.2 297.0L754.4 294.7L754.6 293.2L754.8 291.4L755.0 288.7L755.2 288.8L755.4 283.4L755.6 283.6L755.8 279.0L756.1 277.3L756.3 273.6L756.5 272.1L756.7 270.5L756.9 265.7L757.1 263.9L757.3 261.3L757.5 258.6L757.7 255.0L758.0 252.5L758.2 250.4L758.4 249.7L758.6 246.0L758.8 243.0L759.0 238.9L759.2 238.2L759.4 236.7L759.7 233.6L759.9 232.6L760.1 228.5L760.3 224.7L760.5 223.0L760.7 217.2L760.9 214.6L761.1 212.2L761.3 210.2L761.6 205.9L761.8 201.8L762.0 201.2L762.2 199.0L762.4 194.9L762.6 194.4L762.8 192.6L763.0 188.5L763.2 186.4L763.5 183.8L763.7 182.0L763.9 179.0L764.1 177.7L764.3 176.2L764.5 174.3L764.7 171.5L764.9 169.5L765.1 168.0L765.4 166.8L765.6 169.6L765.8 166.0L766.0 164.1L766.2 162.5L766.4 163.4L766.6 159.4L766.8 159.8L767.0 160.0L767.3 158.6L767.5 158.6L767.7 158.6L767.9 157.0L768.1 157.7L768.3 158.6L768.5 157.7L768.7 157.2L768.9 158.3L769.2 156.1L769.4 158.8L769.6 156.3L769.8 157.6L770.0 160.0L770.2 159.5L770.4 159.2L770.6 161.4L770.8 163.3L771.1 162.8L771.3 161.9L771.5 166.6L771.7 165.6L771.9 167.4L772.1 168.9L772.3 170.5L772.5 171.9L772.8 172.0L773.0 174.0L773.2 177.3L773.4 176.3L773.6 181.0L773.8 180.8L774.0 183.2L774.2 184.0L774.4 186.9L774.7 188.2L774.9 191.4L775.1 192.5L775.3 195.4L775.5 195.7L775.7 201.0L775.9 201.4L776.1 204.5L776.3 207.3L776.6 210.6L776.8 212.1L777.0 216.7L777.2 219.3L777.4 219.9L777.6 225.1L777.8 225.0L778.0 230.0L778.2 233.0L778.5 234.8L778.7 235.9L778.9 238.3L779.1 240.2L779.3 241.9L779.5 242.7L779.7 244.7L779.9 246.8L780.1 249.9L780.4 252.8L780.6 256.6L780.8 256.5L781.0 258.6L781.2 262.3L781.4 263.4L781.6 265.2L781.8 268.8L782.0 270.1L782.3 273.2L782.5 277.6L782.7 278.5L782.9 280.7L783.1 281.9L783.3 285.5L783.5 287.1L783.7 289.7L783.9 290.7L784.2 292.5L784.4 293.3L784.6 295.3L784.8 297.6L785.0 299.1L785.2 300.8L785.4 302.2L785.6 302.0L785.9 307.4L786.1 306.1L786.3 306.6L786.5 306.7L786.7 309.8L786.9 309.0L787.1 309.0L787.3 310.8L787.5 312.6L787.8 311.2L788.0 312.2L788.2 310.2L788.4 311.6L788.6 308.5L788.8 309.8L789.0 310.2L789.2 309.2L789.4 309.0L789.7 306.5L789.9 304.3L790.1 304.9L790.3 302.4L790.5 302.9L790.7 300.1L790.9 296.4L791.1 298.4L791.3 293.8L791.6 291.9L791.8 293.0L792.0 290.4L792.2 287.7L792.4 283.4L792.6 282.4L792.8 279.7L793.0 276.3L793.2 274.3L793.5 271.6L793.7 269.5L793.9 265.3L794.1 264.6L794.3 259.3L794.5 258.7L794.7 256.5L794.9 252.3L795.1 249.9L795.4 249.8L795.6 245.0L795.8 244.2L796.0 241.3L796.2 237.5L796.4 237.2L796.6 234.3L796.8 232.3L797.1 226.0L797.3 224.5L797.5 222.2L797.7 218.9L797.9 215.5L798.1 211.4L798.3 208.6L798.5 204.7L798.7 202.7L799.0 200.1L799.2 197.2L799.4 195.1L799.6 192.2L799.8 189.2L800.0 186.9L800.2 186.0L800.4 185.1L800.6 182.0L800.9 178.8L801.1 179.8L801.3 175.8L801.5 173.1L801.7 172.5L801.9 171.5L802.1 167.0L802.3 165.9L802.5 166.3L802.8 163.5L803.0 162.3L803.2 163.8L803.4 158.9L803.6 161.8L803.8 160.3L804.0 160.5L804.2 158.6L804.4 159.6L804.7 157.8L804.9 156.4L805.1 157.0L805.3 157.4L805.5 155.5L805.7 158.0L805.9 156.2L806.1 157.8L806.3 157.5L806.6 158.1L806.8 158.5L807.0 159.2L807.2 160.6L807.4 161.1L807.6 160.8L807.8 162.3L808.0 164.3L808.2 164.8L808.5 165.9L808.7 166.4L808.9 167.4L809.1 168.8L809.3 171.0L809.5 171.7L809.7 174.7L809.9 177.8L810.2 176.5L810.4 179.9L810.6 180.9L810.8 183.0L811.0 183.0L811.2 186.8L811.4 187.3L811.6 190.1L811.8 193.0L812.1 195.5L812.3 195.6L812.5 197.9L812.7 199.8L812.9 201.1L813.1 205.1L813.3 207.5L813.5 210.5L813.7 212.8L814.0 215.9L814.2 219.2L814.4 219.0L814.6 225.9L814.8 226.7L815.0 229.7L815.2 233.8L815.4 236.1L815.6 236.8L815.9 238.8L816.1 241.2L816.3 242.1L816.5 244.5L816.7 246.8L816.9 247.7L817.1 251.7L817.3 252.4L817.5 255.8L817.8 257.1L818.0 259.8L818.2 262.0L818.4 265.6L818.6 267.7L818.8 270.1L819.0 271.4L819.2 273.1L819.4 275.0L819.7 278.9L819.9 280.5L820.1 284.5L820.3 287.2L820.5 287.9L820.7 289.7L820.9 292.6L821.1 294.7L821.3 294.1L821.6 297.2L821.8 299.8L822.0 297.3L822.2 301.0L822.4 302.9L822.6 303.2L822.8 305.8L823.0 304.5L823.3 308.7L823.5 309.4L823.7 309.0L823.9 310.3L824.1 308.6L824.3 312.1L824.5 311.5L824.7 310.7L824.9 310.4L825.2 309.9L825.4 310.4L825.6 308.2L825.8 310.5L826.0 309.2L826.2 307.8L826.4 308.2L826.6 307.2L826.8 306.3L827.1 305.3L827.3 304.5L827.5 302.4L827.7 301.9L827.9 298.3L828.1 298.5L828.3 292.9L828.5 291.3L828.7 289.8L829.0 289.0L829.2 287.1L829.4 282.9L829.6 281.6L829.8 278.7L830.0 277.5L830.2 273.1L830.4 272.4L830.6 268.8L830.9 268.0L831.1 264.2L831.3 260.3L831.5 258.6L831.7 255.9L831.9 252.0L832.1 250.2L832.3 246.3L832.5 247.5L832.8 242.0L833.0 239.8L833.2 239.8L833.4 237.6L833.6 233.7L833.8 232.6L834.0 228.3L834.2 223.5L834.4 221.1L834.7 217.0L834.9 215.2L835.1 211.0L835.3 207.2L835.5 205.2L835.7 204.9L835.9 199.3L836.1 197.3L836.4 195.7L836.6 190.9L836.8 191.7L837.0 185.6L837.2 185.9L837.4 181.5L837.6 181.1L837.8 180.4L838.0 177.0L838.3 174.9L838.5 172.9L838.7 170.7L838.9 171.1L839.1 168.2L839.3 166.6L839.5 166.3L839.7 165.7L839.9 164.6L840.2 161.8L840.4 160.8L840.6 161.7L840.8 161.4L841.0 158.1L841.2 160.4L841.4 158.1L841.6 158.7L841.8 159.4L842.1 157.2L842.3 157.4L842.5 155.7L842.7 154.9L842.9 157.6L843.1 156.5L843.3 156.8L843.5 158.8L843.7 159.7L844.0 157.7L844.2 160.3L844.4 160.7L844.6 161.8L844.8 162.5L845.0 163.9L845.2 163.6L845.4 164.2L845.6 167.0L845.9 169.3L846.1 169.2L846.3 172.1L846.5 172.7L846.7 172.3L846.9 172.8L847.1 176.4L847.3 179.6L847.5 179.5L847.8 184.4L848.0 184.7L848.2 184.3L848.4 187.1L848.6 191.4L848.8 193.8L849.0 193.3L849.2 196.5L849.5 199.3L849.7 200.6L849.9 203.9L850.1 207.7L850.3 207.4L850.5 211.4L850.7 214.4L850.9 217.3L851.1 218.4L851.4 222.3L851.6 223.7L851.8 227.7L852.0 229.5L852.2 234.6L852.4 236.0L852.6 238.9L852.8 239.7L853.0 239.7L853.3 239.3L853.5 245.7L853.7 247.6L853.9 248.4L854.1 250.5L854.3 253.9L854.5 255.5L854.7 259.5L854.9 260.5L855.2 261.6L855.4 263.2L855.6 267.4L855.8 269.9L856.0 271.5L856.2 273.1L856.4 276.0L856.6 279.5L856.8 280.6L857.1 282.1L857.3 286.0L857.5 288.7L857.7 288.8L857.9 290.9L858.1 292.1L858.3 294.8L858.5 297.3L858.7 298.8L859.0 300.9L859.2 302.3L859.4 303.3L859.6 304.5L859.8 304.1L860.0 307.6L860.2 307.4L860.4 308.8L860.6 307.4L860.9 309.3L861.1 310.5L861.3 309.7L861.5 310.8L861.7 311.5L861.9 309.5L862.1 310.2L862.3 309.0L862.6 309.2L862.8 309.1L863.0 309.2L863.2 309.7L863.4 307.0L863.6 306.7L863.8 305.0L864.0 304.5L864.2 303.9L864.5 302.7L864.7 299.4L864.9 297.1L865.1 296.9L865.3 294.3L865.5 291.3L865.7 291.5L865.9 288.8L866.1 287.4L866.4 282.7L866.6 281.2L866.8 279.5L867.0 278.2L867.2 274.1L867.4 270.2L867.6 268.9L867.8 266.3L868.0 262.5L868.3 261.8L868.5 257.7L868.7 254.5L868.9 253.2L869.1 250.6L869.3 247.0L869.5 244.8L869.7 242.6L869.9 239.8L870.2 237.7L870.4 236.9L870.6 235.1L870.8 230.5L871.0 226.0L871.2 222.3L871.4 221.2L871.6 216.0L871.8 213.2L872.1 211.0L872.3 207.5L872.5 204.3L872.7 200.5L872.9 200.7L873.1 196.4L873.3 194.6L873.5 192.2L873.7 188.4L874.0 186.4L874.2 186.0L874.4 183.1L874.6 180.5L874.8 180.2L875.0 175.9L875.2 175.1L875.4 173.1L875.7 171.2L875.9 168.2L876.1 168.5L876.3 167.5L876.5 164.1L876.7 165.1L876.9 164.0L877.1 163.9L877.3 160.4L877.6 160.4L877.8 159.4L878.0 159.1L878.2 158.8L878.4 159.0L878.6 158.6L878.8 157.1L879.0 157.2L879.2 155.5L879.5 157.9L879.7 157.7L879.9 158.4L880.1 156.2L880.3 159.2L880.5 157.5L880.7 157.3L880.9 159.5L881.1 159.3L881.4 162.9L881.6 162.0L881.8 164.2L882.0 163.2L882.2 164.5L882.4 166.4L882.6 165.8L882.8 167.7L883.0 169.9L883.3 171.3L883.5 173.7L883.7 173.9L883.9 173.2L884.1 177.7L884.3 178.2L884.5 181.0L884.7 181.5L884.9 183.7L885.2 186.4L885.4 189.9L885.6 190.7L885.8 191.1L886.0 194.7L886.2 196.0L886.4 199.4L886.6 203.1L886.9 203.2L887.1 205.7L887.3 209.1L887.5 211.4L887.7 213.3L887.9 216.9L888.1 218.6L888.3 222.0L888.5 227.1L888.8 227.9L889.0 231.7L889.2 235.1L889.4 235.1L889.6 237.5L889.8 238.2L890.0 239.5L890.2 242.5L890.4 246.3L890.7 247.6L890.9 248.1L891.1 251.5L891.3 254.3L891.5 255.9L891.7 257.6L891.9 260.2L892.1 262.2L892.3 266.0L892.6 267.8L892.8 270.1L893.0 272.2L893.2 276.6L893.4 277.0L893.6 280.3L893.8 279.8L894.0 281.8L894.2 283.7L894.5 286.7L894.7 290.0L894.9 290.5L895.1 293.5L895.3 294.5L895.5 297.8L895.7 299.1L895.9 299.6L896.1 299.7L896.4 302.9L896.6 301.9L896.8 302.5L897.0 307.7L897.2 307.4L897.4 309.2L897.6 309.1L897.8 310.2L898.0 310.2L898.3 309.6L898.5 309.9L898.7 310.7L898.9 311.0L899.1 310.8L899.3 310.5L899.5 309.7L899.7 309.8L900.0 308.7L900.2 309.8L900.4 306.8L900.6 304.9L900.8 305.3L901.0 305.7L901.2 301.6L901.4 301.8L901.6 302.9L901.9 298.4L902.1 295.8L902.3 294.1L902.5 291.2L902.7 289.7L902.9 288.1L903.1 287.9L903.3 284.7L903.5 281.0L903.8 278.0L904.0 277.2L904.2 274.2L904.4 270.4L904.6 270.2L904.8 267.5L905.0 263.1L905.2 259.9L905.4 257.9L905.7 257.1L905.9 252.0L906.1 250.8L906.3 246.2L906.5 244.5L906.7 241.7L906.9 239.1L907.1 238.2L907.3 234.9L907.6 233.0L907.8 230.1L908.0 225.3L908.2 223.8L908.4 218.9L908.6 216.4L908.8 214.6L909.0 210.6L909.2 208.1L909.5 205.3L909.7 201.9L909.9 198.2L910.1 197.0L910.3 194.0L910.5 193.1L910.7 189.1L910.9 185.7L911.1 183.9L911.4 182.0L911.6 181.0L911.8 179.5L912.0 176.7L912.2 176.1L912.4 174.3L912.6 170.4L912.8 170.7L913.1 166.5L913.3 168.4L913.5 165.2L913.7 165.6L913.9 163.2L914.1 163.4L914.3 161.3L914.5 160.7L914.7 160.3L915.0 158.6L915.2 157.1L915.4 158.7L915.6 156.8L915.8 157.4L916.0 157.3L916.2 154.9L916.4 159.4L916.6 157.9L916.9 159.2L917.1 157.9L917.3 158.2L917.5 154.5L917.7 158.5L917.9 157.6L918.1 158.8L918.3 161.3L918.5 161.2L918.8 160.9L919.0 163.4L919.2 164.4L919.4 165.2L919.6 168.4L919.8 169.0L920.0 169.2L920.2 170.3L920.4 173.3L920.7 174.2L920.9 175.6L921.1 177.3L921.3 178.2L921.5 180.6L921.7 182.3L921.9 185.8L922.1 187.4L922.3 188.0L922.6 192.1L922.8 192.3L923.0 195.4L923.2 197.8L923.4 198.5L923.6 202.2L923.8 204.8L924.0 207.0L924.2 208.7L924.5 208.5L924.7 216.1L924.9 216.6L925.1 219.6L925.3 221.2L925.5 225.5L925.7 230.7L925.9 230.1L926.2 235.5L926.4 235.7L926.6 238.6L926.8 240.1L927.0 241.4L927.2 242.0L927.4 244.1L927.6 247.7L927.8 248.8L928.1 251.9L928.3 253.7L928.5 255.9L928.7 257.8L928.9 261.4L929.1 263.3L929.3 265.2L929.5 267.7L929.7 271.0L930.0 270.7L930.2 275.2L930.4 276.3L930.6 279.1L930.8 280.2L931.0 285.9L931.2 283.6L931.4 288.0L931.6 291.0L931.9 291.6L932.1 291.2L932.3 294.8L932.5 298.3L932.7 299.2L932.9 298.9L933.1 303.1L933.3 303.2L933.5 304.6L933.8 303.3L934.0 306.9L934.2 306.2L934.4 309.1L934.6 309.9L934.8 308.7L935.0 309.6L935.2 312.4L935.4 310.2L935.7 310.3L935.9 311.6L936.1 310.7L936.3 310.4L936.5 310.8L936.7 310.4L936.9 309.8L937.1 308.7L937.3 308.9L937.6 306.6L937.8 306.9L938.0 304.1L938.2 302.9L938.4 302.4L938.6 298.8L938.8 296.0L939.0 294.8L939.3 295.7L939.5 290.9L939.7 289.9L939.9 288.0L940.1 286.3L940.3 283.3L940.5 279.4L940.7 277.8L940.9 276.2L941.2 273.9L941.4 271.0L941.6 267.3L941.8 263.3L942.0 263.6L942.2 259.8L942.4 257.5L942.6 255.2L942.8 251.3L943.1 248.6L943.3 248.0L943.5 245.2L943.7 240.5L943.9 239.2L944.1 236.9L944.3 236.1L944.5 234.5L944.7 229.5L945.0 226.8L945.2 223.9L945.4 219.5L945.6 215.4L945.8 214.2L946.0 209.1L946.2 206.5L946.4 205.3L946.6 201.6L946.9 199.0L947.1 195.7L947.3 193.1L947.5 192.7L947.7 190.3L947.9 185.6L948.1 184.3L948.3 181.9L948.5 179.9L948.8 176.7L949.0 177.6L949.2 173.4L949.4 173.7L949.6 170.4L949.8 168.3L950.0 169.6L950.2 166.4L950.4 165.8L950.7 164.6L950.9 163.2L951.1 163.3L951.3 162.3L951.5 159.8L951.7 158.9L951.9 159.7L952.1 160.0L952.4 155.7L952.6 156.6L952.8 157.1L953.0 158.3L953.2 157.8L953.4 156.9L953.6 158.2L953.8 155.8L954.0 157.5L954.3 157.6L954.5 159.5L954.7 159.9L954.9 160.3L955.1 159.9L955.3 161.2L955.5 162.1L955.7 162.4L955.9 163.5L956.2 163.2L956.4 166.1L956.6 168.1L956.8 168.4L957.0 168.2L957.2 171.7L957.4 172.5L957.6 174.5L957.8 175.3L958.1 177.1L958.3 179.9L958.5 181.1L958.7 181.8L958.9 183.5L959.1 185.7L959.3 187.8L959.5 191.0L959.7 193.2L960.0 194.1L960.2 198.4L960.4 199.6L960.6 203.7L960.8 204.6L961.0 207.4L961.2 210.4L961.4 211.1L961.6 215.0L961.9 217.3L962.1 220.0L962.3 223.3L962.5 224.0L962.7 229.1L962.9 231.7L963.1 235.9L963.3 236.3L963.5 237.8L963.8 239.5L964.0 241.7L964.2 243.0L964.4 243.6L964.6 247.5L964.8 249.7L965.0 252.2L965.2 251.5L965.5 254.8L965.7 258.2L965.9 260.4L966.1 264.1L966.3 265.9L966.5 267.9L966.7 270.3L966.9 273.6L967.1 275.8L967.4 276.8L967.6 279.2L967.8 283.9L968.0 283.8L968.2 284.7L968.4 288.7L968.6 289.8L968.8 293.4L969.0 292.9L969.3 296.7L969.5 298.5L969.7 299.2L969.9 298.0L970.1 302.5L970.3 304.5L970.5 304.0L970.7 305.4L970.9 305.0L971.2 308.9L971.4 310.1L971.6 309.5L971.8 309.4L972.0 309.9L972.2 309.5L972.4 312.4L972.6 311.8L972.8 311.1L973.1 310.0L973.3 310.1L973.5 310.7L973.7 310.7L973.9 308.2L974.1 307.3L974.3 304.7L974.5 306.6L974.7 303.6L975.0 305.2L975.2 303.1L975.4 301.8L975.6 300.0L975.8 298.6L976.0 296.5L976.2 294.1L976.4 292.4L976.6 289.2L976.9 287.7L977.1 285.4L977.3 281.5L977.5 280.2L977.7 277.9L977.9 275.5L978.1 272.8L978.3 269.7L978.6 268.4L978.8 263.7L979.0 260.6L979.2 258.3L979.4 257.3L979.6 255.7L979.8 251.9L980.0 248.7L980.2 245.4L980.5 244.0L980.7 241.7L980.9 237.7L981.1 237.8L981.3 234.3L981.5 232.9L981.7 230.9L981.9 225.5L982.1 222.9L982.4 220.0L982.6 217.8L982.8 214.4L983.0 209.4L983.2 207.3" stroke="#f0f" stroke-width="0.8" fill="none" stroke-linejoin="round" opacity="0.75"/>
<path d="M687.6 218.3L687.8 219.2L688.0 216.7L688.2 215.3L688.4 216.3L688.7 215.3L688.9 210.6L689.1 210.0L689.3 210.7L689.5 208.3L689.7 206.0L689.9 203.1L690.1 206.7L690.3 203.3L690.6 199.9L690.8 202.6L691.0 199.4L691.2 205.5L691.4 198.1L691.6 199.9L691.8 202.4L692.0 197.4L692.2 196.4L692.5 195.7L692.7 195.3L692.9 197.0L693.1 197.9L693.3 197.1L693.5 196.1L693.7 195.2L693.9 196.5L694.2 195.5L694.4 194.0L694.6 194.9L694.8 191.6L695.0 191.8L695.2 197.5L695.4 196.6L695.6 198.1L695.8 198.0L696.1 195.4L696.3 198.3L696.5 198.7L696.7 197.7L696.9 196.3L697.1 198.7L697.3 199.2L697.5 197.5L697.7 198.8L698.0 199.4L698.2 199.2L698.4 203.1L698.6 201.7L698.8 203.8L699.0 201.7L699.2 202.9L699.4 206.8L699.6 203.6L699.9 208.7L700.1 205.6L700.3 208.1L700.5 210.8L700.7 212.2L700.9 211.8L701.1 212.3L701.3 214.5L701.5 213.4L701.8 217.8L702.0 216.5L702.2 217.6L702.4 222.0L702.6 219.4L702.8 223.3L703.0 226.6L703.2 224.7L703.4 225.3L703.7 224.7L703.9 228.5L704.1 226.6L704.3 228.3L704.5 230.0L704.7 230.2L704.9 232.6L705.1 235.0L705.3 233.9L705.6 234.3L705.8 236.5L706.0 238.3L706.2 241.6L706.4 238.8L706.6 240.5L706.8 244.3L707.0 243.1L707.3 243.1L707.5 245.6L707.7 245.2L707.9 246.4L708.1 251.2L708.3 250.3L708.5 250.1L708.7 250.4L708.9 250.6L709.2 257.3L709.4 255.1L709.6 254.8L709.8 254.9L710.0 255.0L710.2 260.4L710.4 260.3L710.6 262.3L710.8 259.9L711.1 264.3L711.3 260.7L711.5 261.8L711.7 263.2L711.9 268.3L712.1 266.3L712.3 264.4L712.5 268.5L712.7 266.9L713.0 267.0L713.2 265.6L713.4 266.8L713.6 267.0L713.8 268.3L714.0 267.6L714.2 267.9L714.4 266.3L714.6 267.7L714.9 265.5L715.1 269.9L715.3 264.6L715.5 266.6L715.7 264.0L715.9 265.3L716.1 263.4L716.3 261.7L716.5 264.5L716.8 262.8L717.0 262.4L717.2 261.0L717.4 263.2L717.6 259.8L717.8 259.0L718.0 258.9L718.2 256.9L718.4 258.1L718.7 252.0L718.9 252.4L719.1 248.8L719.3 252.3L719.5 251.6L719.7 247.9L719.9 249.9L720.1 245.4L720.4 245.7L720.6 243.9L720.8 241.6L721.0 240.7L721.2 236.4L721.4 237.2L721.6 239.3L721.8 234.3L722.0 237.1L722.3 233.7L722.5 235.0L722.7 233.4L722.9 228.9L723.1 230.1L723.3 228.5L723.5 226.8L723.7 224.8L723.9 220.4L724.2 223.4L724.4 222.1L724.6 217.6L724.8 220.0L725.0 216.6L725.2 212.8L725.4 213.5L725.6 213.2L725.8 212.4L726.1 211.7L726.3 210.0L726.5 207.8L726.7 204.9L726.9 204.4L727.1 206.1L727.3 205.5L727.5 202.2L727.7 205.7L728.0 202.6L728.2 201.7L728.4 202.3L728.6 201.5L728.8 198.6L729.0 201.5L729.2 199.7L729.4 198.8L729.6 197.2L729.9 199.3L730.1 194.8L730.3 196.8L730.5 196.5L730.7 196.5L730.9 196.8L731.1 197.3L731.3 193.6L731.5 195.1L731.8 195.7L732.0 193.9L732.2 196.8L732.4 194.7L732.6 195.9L732.8 197.7L733.0 195.1L733.2 199.2L733.5 195.9L733.7 198.9L733.9 197.1L734.1 195.9L734.3 197.7L734.5 200.2L734.7 199.8L734.9 200.9L735.1 202.9L735.4 203.4L735.6 202.1L735.8 202.0L736.0 206.6L736.2 204.5L736.4 204.3L736.6 205.8L736.8 208.6L737.0 206.0L737.3 210.7L737.5 208.5L737.7 207.8L737.9 215.0L738.1 212.1L738.3 213.0L738.5 214.2L738.7 217.0L738.9 217.3L739.2 220.3L739.4 218.8L739.6 219.3L739.8 222.5L740.0 224.2L740.2 224.7L740.4 225.2L740.6 226.4L740.8 228.1L741.1 229.3L741.3 233.3L741.5 236.6L741.7 231.6L741.9 231.0L742.1 236.7L742.3 236.3L742.5 235.6L742.7 235.5L743.0 237.0L743.2 237.0L743.4 240.3L743.6 240.6L743.8 241.7L744.0 244.2L744.2 242.6L744.4 244.6L744.6 245.1L744.9 248.5L745.1 247.2L745.3 251.8L745.5 250.5L745.7 256.6L745.9 254.9L746.1 253.0L746.3 256.0L746.6 256.0L746.8 259.9L747.0 255.5L747.2 258.0L747.4 259.9L747.6 260.0L747.8 260.9L748.0 259.9L748.2 262.6L748.5 266.1L748.7 264.7L748.9 262.7L749.1 264.4L749.3 266.5L749.5 265.2L749.7 266.4L749.9 265.9L750.1 269.9L750.4 269.0L750.6 266.5L750.8 268.1L751.0 267.2L751.2 264.4L751.4 268.2L751.6 267.1L751.8 268.3L752.0 268.1L752.3 266.9L752.5 268.8L752.7 269.5L752.9 263.2L753.1 265.1L753.3 262.4L753.5 263.4L753.7 262.7L753.9 261.0L754.2 260.1L754.4 262.5L754.6 257.5L754.8 260.2L755.0 257.2L755.2 252.2L755.4 255.3L755.6 251.5L755.8 253.7L756.1 250.9L756.3 250.7L756.5 248.8L756.7 249.7L756.9 248.6L757.1 245.2L757.3 247.1L757.5 244.7L757.7 240.9L758.0 241.7L758.2 241.0L758.4 240.1L758.6 236.8L758.8 236.5L759.0 234.6L759.2 234.1L759.4 229.8L759.7 232.8L759.9 234.2L760.1 228.9L760.3 227.4L760.5 225.5L760.7 226.9L760.9 220.8L761.1 221.4L761.3 220.0L761.6 221.2L761.8 216.4L762.0 216.1L762.2 212.4L762.4 214.2L762.6 214.4L762.8 211.0L763.0 211.6L763.2 208.3L763.5 209.8L763.7 207.2L763.9 206.4L764.1 205.2L764.3 205.1L764.5 204.8L764.7 202.7L764.9 202.8L765.1 200.9L765.4 200.9L765.6 203.6L765.8 199.4L766.0 196.4L766.2 197.7L766.4 196.8L766.6 196.6L766.8 197.8L767.0 198.9L767.3 195.0L767.5 194.4L767.7 195.0L767.9 195.1L768.1 195.0L768.3 195.6L768.5 195.1L768.7 195.5L768.9 195.1L769.2 197.3L769.4 196.9L769.6 195.1L769.8 196.8L770.0 200.5L770.2 196.6L770.4 200.9L770.6 194.3L770.8 196.7L771.1 197.2L771.3 199.9L771.5 201.2L771.7 200.2L771.9 200.4L772.1 202.3L772.3 201.4L772.5 201.2L772.8 202.1L773.0 205.5L773.2 208.1L773.4 205.3L773.6 207.2L773.8 206.3L774.0 205.2L774.2 206.1L774.4 209.2L774.7 208.8L774.9 208.9L775.1 212.6L775.3 213.2L775.5 213.3L775.7 215.9L775.9 217.7L776.1 219.3L776.3 219.2L776.6 221.4L776.8 220.3L777.0 223.3L777.2 221.7L777.4 223.4L777.6 228.7L777.8 226.3L778.0 230.3L778.2 229.0L778.5 231.2L778.7 232.8L778.9 232.4L779.1 235.3L779.3 234.7L779.5 235.6L779.7 237.4L779.9 237.6L780.1 240.9L780.4 239.4L780.6 243.4L780.8 241.5L781.0 242.8L781.2 243.5L781.4 246.7L781.6 241.9L781.8 248.3L782.0 248.8L782.3 251.4L782.5 248.9L782.7 253.0L782.9 251.7L783.1 255.9L783.3 254.8L783.5 256.9L783.7 255.7L783.9 258.6L784.2 260.5L784.4 259.2L784.6 262.7L784.8 263.1L785.0 261.0L785.2 266.0L785.4 262.4L785.6 264.9L785.9 266.3L786.1 264.9L786.3 264.8L786.5 267.2L786.7 266.9L786.9 265.6L787.1 266.0L787.3 267.5L787.5 268.8L787.8 269.2L788.0 268.6L788.2 266.5L788.4 266.6L788.6 266.9L788.8 264.9L789.0 267.4L789.2 267.2L789.4 266.8L789.7 262.7L789.9 268.6L790.1 264.2L790.3 263.4L790.5 263.3L790.7 258.9L790.9 260.0L791.1 259.8L791.3 261.7L791.6 258.5L791.8 258.9L792.0 257.2L792.2 255.9L792.4 256.0L792.6 253.0L792.8 250.2L793.0 250.0L793.2 250.1L793.5 252.4L793.7 246.3L793.9 245.0L794.1 245.8L794.3 245.0L794.5 241.9L794.7 243.0L794.9 239.1L795.1 240.9L795.4 239.5L795.6 236.8L795.8 238.0L796.0 234.6L796.2 232.7L796.4 234.7L796.6 230.3L796.8 231.4L797.1 227.8L797.3 226.7L797.5 226.1L797.7 224.7L797.9 225.2L798.1 222.1L798.3 220.8L798.5 215.6L798.7 215.3L799.0 217.8L799.2 213.1L799.4 212.8L799.6 212.6L799.8 210.1L800.0 208.5L800.2 209.6L800.4 208.1L800.6 206.4L800.9 207.3L801.1 204.5L801.3 204.1L801.5 204.2L801.7 203.7L801.9 201.1L802.1 199.5L802.3 199.7L802.5 201.0L802.8 197.8L803.0 198.2L803.2 197.0L803.4 195.7L803.6 198.6L803.8 197.0L804.0 197.4L804.2 197.6L804.4 192.7L804.7 194.2L804.9 198.4L805.1 194.8L805.3 196.3L805.5 193.5L805.7 195.3L805.9 195.7L806.1 195.3L806.3 195.1L806.6 195.8L806.8 196.4L807.0 196.6L807.2 195.8L807.4 198.8L807.6 197.4L807.8 198.0L808.0 199.0L808.2 197.5L808.5 201.3L808.7 200.3L808.9 201.7L809.1 200.1L809.3 202.3L809.5 202.2L809.7 202.4L809.9 206.3L810.2 203.8L810.4 206.5L810.6 206.5L810.8 207.1L811.0 206.5L811.2 207.6L811.4 206.8L811.6 210.3L811.8 212.4L812.1 213.4L812.3 212.6L812.5 212.1L812.7 215.2L812.9 217.8L813.1 217.6L813.3 218.8L813.5 220.3L813.7 222.8L814.0 226.9L814.2 224.9L814.4 223.7L814.6 226.4L814.8 231.7L815.0 229.6L815.2 234.4L815.4 228.8L815.6 232.4L815.9 235.4L816.1 233.1L816.3 236.5L816.5 235.3L816.7 237.2L816.9 240.1L817.1 238.2L817.3 242.5L817.5 239.3L817.8 242.4L818.0 245.2L818.2 247.6L818.4 243.2L818.6 244.6L818.8 250.0L819.0 246.4L819.2 249.9L819.4 251.6L819.7 252.4L819.9 253.8L820.1 252.0L820.3 255.1L820.5 259.3L820.7 253.9L820.9 256.8L821.1 260.8L821.3 260.5L821.6 262.2L821.8 261.4L822.0 261.6L822.2 262.6L822.4 264.6L822.6 265.5L822.8 263.4L823.0 265.5L823.3 262.2L823.5 267.5L823.7 265.3L823.9 266.8L824.1 268.3L824.3 265.1L824.5 267.3L824.7 269.0L824.9 268.1L825.2 265.9L825.4 269.4L825.6 265.1L825.8 266.0L826.0 267.3L826.2 264.3L826.4 263.3L826.6 264.7L826.8 264.9L827.1 261.6L827.3 261.6L827.5 264.8L827.7 262.9L827.9 262.1L828.1 261.6L828.3 262.5L828.5 257.7L828.7 258.0L829.0 257.0L829.2 253.8L829.4 255.9L829.6 253.9L829.8 252.3L830.0 252.2L830.2 250.5L830.4 247.8L830.6 247.8L830.9 244.4L831.1 246.5L831.3 243.7L831.5 245.1L831.7 241.7L831.9 241.4L832.1 236.8L832.3 236.6L832.5 235.8L832.8 232.5L833.0 232.1L833.2 232.2L833.4 233.6L833.6 234.0L833.8 230.3L834.0 229.0L834.2 227.8L834.4 225.7L834.7 226.4L834.9 219.8L835.1 222.6L835.3 220.5L835.5 217.1L835.7 219.4L835.9 214.0L836.1 212.7L836.4 213.5L836.6 213.6L836.8 211.5L837.0 212.6L837.2 206.3L837.4 207.5L837.6 207.8L837.8 207.1L838.0 203.8L838.3 201.4L838.5 205.1L838.7 203.2L838.9 204.4L839.1 199.7L839.3 199.9L839.5 195.8L839.7 199.1L839.9 199.1L840.2 199.1L840.4 196.1L840.6 199.7L840.8 195.5L841.0 196.0L841.2 196.9L841.4 197.4L841.6 194.0L841.8 192.5L842.1 196.2L842.3 194.5L842.5 192.5L842.7 196.4L842.9 195.9L843.1 197.6L843.3 196.0L843.5 196.0L843.7 196.8L844.0 197.6L844.2 199.3L844.4 199.2L844.6 199.0L844.8 196.8L845.0 199.1L845.2 200.1L845.4 198.2L845.6 198.9L845.9 201.6L846.1 202.0L846.3 200.6L846.5 201.8L846.7 204.4L846.9 203.4L847.1 204.6L847.3 203.6L847.5 207.6L847.8 205.6L848.0 207.2L848.2 210.5L848.4 208.1L848.6 209.3L848.8 213.9L849.0 209.5L849.2 215.7L849.5 216.4L849.7 216.5L849.9 215.8L850.1 217.2L850.3 219.5L850.5 218.3L850.7 221.1L850.9 220.7L851.1 219.6L851.4 225.2L851.6 231.1L851.8 229.1L852.0 231.6L852.2 231.4L852.4 231.9L852.6 234.8L852.8 235.5L853.0 234.9L853.3 235.7L853.5 240.6L853.7 235.7L853.9 238.3L854.1 239.4L854.3 240.0L854.5 243.2L854.7 242.7L854.9 242.0L855.2 243.0L855.4 245.2L855.6 247.5L855.8 249.5L856.0 247.0L856.2 249.4L856.4 252.1L856.6 256.0L856.8 254.9L857.1 257.7L857.3 253.4L857.5 256.1L857.7 258.6L857.9 258.8L858.1 254.8L858.3 258.0L858.5 263.1L858.7 261.8L859.0 264.4L859.2 265.9L859.4 263.4L859.6 260.2L859.8 262.2L860.0 265.3L860.2 266.5L860.4 265.9L860.6 264.9L860.9 269.4L861.1 270.3L861.3 264.2L861.5 267.0L861.7 264.9L861.9 267.2L862.1 265.0L862.3 268.5L862.6 266.4L862.8 264.4L863.0 265.1L863.2 267.2L863.4 264.5L863.6 266.7L863.8 267.5L864.0 263.6L864.2 261.5L864.5 261.8L864.7 264.6L864.9 260.2L865.1 259.7L865.3 260.7L865.5 263.2L865.7 256.3L865.9 255.5L866.1 255.1L866.4 257.8L866.6 256.2L866.8 250.8L867.0 250.0L867.2 249.3L867.4 249.3L867.6 247.0L867.8 247.3L868.0 245.7L868.3 245.3L868.5 242.2L868.7 242.0L868.9 238.5L869.1 237.6L869.3 239.0L869.5 233.3L869.7 237.3L869.9 233.5L870.2 231.4L870.4 230.2L870.6 235.4L870.8 228.3L871.0 226.1L871.2 224.1L871.4 228.8L871.6 224.7L871.8 222.2L872.1 221.4L872.3 216.9L872.5 219.0L872.7 214.5L872.9 214.3L873.1 216.6L873.3 214.6L873.5 212.5L873.7 210.4L874.0 207.8L874.2 208.7L874.4 205.9L874.6 209.1L874.8 210.7L875.0 205.2L875.2 203.0L875.4 203.5L875.7 203.9L875.9 200.7L876.1 197.4L876.3 200.2L876.5 200.7L876.7 200.3L876.9 195.0L877.1 197.9L877.3 196.4L877.6 194.9L877.8 194.8L878.0 197.9L878.2 194.4L878.4 194.4L878.6 194.8L878.8 193.8L879.0 196.4L879.2 195.5L879.5 196.3L879.7 194.1L879.9 196.6L880.1 194.9L880.3 197.6L880.5 196.1L880.7 196.8L880.9 196.6L881.1 196.5L881.4 197.4L881.6 197.8L881.8 201.4L882.0 196.4L882.2 199.9L882.4 199.8L882.6 201.3L882.8 198.8L883.0 202.7L883.3 200.9L883.5 200.4L883.7 200.3L883.9 201.9L884.1 203.6L884.3 207.5L884.5 204.1L884.7 205.1L884.9 206.6L885.2 207.6L885.4 209.8L885.6 211.8L885.8 210.0L886.0 210.7L886.2 215.7L886.4 213.4L886.6 215.6L886.9 215.6L887.1 217.8L887.3 217.6L887.5 218.9L887.7 220.3L887.9 225.5L888.1 223.0L888.3 225.6L888.5 229.0L888.8 227.3L889.0 232.4L889.2 230.0L889.4 229.2L889.6 233.7L889.8 232.1L890.0 233.8L890.2 234.3L890.4 238.7L890.7 236.4L890.9 238.2L891.1 238.2L891.3 240.5L891.5 239.8L891.7 242.3L891.9 242.7L892.1 242.6L892.3 245.7L892.6 245.4L892.8 247.8L893.0 248.4L893.2 251.3L893.4 250.1L893.6 250.4L893.8 253.7L894.0 253.2L894.2 254.8L894.5 258.4L894.7 256.8L894.9 256.1L895.1 260.1L895.3 263.1L895.5 260.5L895.7 262.7L895.9 259.2L896.1 263.1L896.4 263.7L896.6 265.4L896.8 264.4L897.0 266.3L897.2 267.4L897.4 266.3L897.6 268.0L897.8 264.7L898.0 269.1L898.3 267.4L898.5 268.6L898.7 269.8L898.9 264.7L899.1 271.0L899.3 264.9L899.5 269.6L899.7 266.8L900.0 262.9L900.2 269.9L900.4 268.3L900.6 263.3L900.8 264.7L901.0 265.3L901.2 263.8L901.4 264.7L901.6 262.1L901.9 259.0L902.1 261.3L902.3 259.5L902.5 256.8L902.7 254.5L902.9 257.8L903.1 255.2L903.3 255.6L903.5 254.6L903.8 253.0L904.0 252.2L904.2 252.9L904.4 252.1L904.6 248.7L904.8 246.0L905.0 242.9L905.2 244.5L905.4 242.7L905.7 240.0L905.9 238.6L906.1 238.8L906.3 237.5L906.5 233.1L906.7 235.7L906.9 234.9L907.1 235.8L907.3 231.5L907.6 231.9L907.8 226.5L908.0 228.5L908.2 225.0L908.4 223.2L908.6 220.5L908.8 224.0L909.0 217.7L909.2 219.0L909.5 217.8L909.7 216.9L909.9 215.8L910.1 214.4L910.3 216.6L910.5 210.6L910.7 210.3L910.9 210.9L911.1 208.4L911.4 203.4L911.6 205.6L911.8 206.0L912.0 201.6L912.2 204.9L912.4 203.0L912.6 202.9L912.8 201.7L913.1 199.3L913.3 198.9L913.5 200.5L913.7 199.0L913.9 198.1L914.1 198.4L914.3 197.4L914.5 198.1L914.7 197.8L915.0 196.2L915.2 197.7L915.4 195.1L915.6 195.9L915.8 197.0L916.0 196.4L916.2 196.1L916.4 195.6L916.6 195.2L916.9 195.8L917.1 197.0L917.3 193.3L917.5 194.4L917.7 195.9L917.9 194.8L918.1 196.2L918.3 197.5L918.5 197.3L918.8 193.4L919.0 196.7L919.2 197.1L919.4 200.0L919.6 198.9L919.8 196.7L920.0 200.4L920.2 200.0L920.4 200.4L920.7 202.1L920.9 201.3L921.1 204.3L921.3 204.7L921.5 207.4L921.7 202.8L921.9 207.6L922.1 208.9L922.3 207.7L922.6 211.8L922.8 211.9L923.0 214.3L923.2 214.0L923.4 215.7L923.6 215.3L923.8 217.5L924.0 219.4L924.2 220.1L924.5 221.0L924.7 222.8L924.9 221.7L925.1 223.4L925.3 225.6L925.5 229.2L925.7 227.8L925.9 232.3L926.2 231.3L926.4 232.1L926.6 233.9L926.8 235.1L927.0 235.8L927.2 232.1L927.4 237.0L927.6 237.9L927.8 237.0L928.1 238.9L928.3 238.9L928.5 243.8L928.7 244.7L928.9 238.4L929.1 245.1L929.3 246.6L929.5 247.0L929.7 246.7L930.0 251.4L930.2 250.1L930.4 251.6L930.6 251.5L930.8 253.4L931.0 255.6L931.2 257.1L931.4 260.7L931.6 255.9L931.9 260.9L932.1 260.0L932.3 257.4L932.5 261.7L932.7 260.7L932.9 262.8L933.1 262.0L933.3 263.8L933.5 265.2L933.8 262.7L934.0 265.9L934.2 268.1L934.4 266.8L934.6 265.7L934.8 268.8L935.0 265.9L935.2 266.1L935.4 264.0L935.7 268.6L935.9 266.4L936.1 270.2L936.3 268.1L936.5 267.0L936.7 266.3L936.9 266.8L937.1 266.5L937.3 266.9L937.6 266.2L937.8 264.4L938.0 263.4L938.2 262.6L938.4 261.3L938.6 260.3L938.8 264.4L939.0 261.4L939.3 259.9L939.5 259.8L939.7 256.0L939.9 255.5L940.1 255.8L940.3 254.3L940.5 251.3L940.7 252.8L940.9 251.5L941.2 248.3L941.4 247.8L941.6 245.0L941.8 245.4L942.0 243.5L942.2 244.4L942.4 243.8L942.6 241.0L942.8 244.1L943.1 237.8L943.3 235.7L943.5 236.0L943.7 235.4L943.9 232.2L944.1 233.1L944.3 230.5L944.5 227.9L944.7 228.3L945.0 226.2L945.2 225.3L945.4 224.2L945.6 222.6L945.8 221.5L946.0 218.4L946.2 221.5L946.4 217.9L946.6 215.1L946.9 216.3L947.1 213.9L947.3 213.7L947.5 210.7L947.7 208.8L947.9 206.8L948.1 207.3L948.3 208.3L948.5 205.7L948.8 204.3L949.0 202.0L949.2 207.0L949.4 202.1L949.6 204.9L949.8 200.0L950.0 199.8L950.2 199.0L950.4 197.8L950.7 198.1L950.9 199.2L951.1 197.1L951.3 195.3L951.5 197.1L951.7 196.5L951.9 198.2L952.1 194.1L952.4 196.6L952.6 196.8L952.8 196.2L953.0 196.8L953.2 195.8L953.4 193.2L953.6 194.1L953.8 193.1L954.0 193.1L954.3 197.2L954.5 195.1L954.7 193.7L954.9 192.7L955.1 199.1L955.3 199.5L955.5 196.7L955.7 198.5L955.9 200.0L956.2 198.3L956.4 200.7L956.6 203.7L956.8 200.6L957.0 201.0L957.2 200.8L957.4 201.0L957.6 203.0L957.8 204.4L958.1 205.9L958.3 208.3L958.5 207.2L958.7 205.7L958.9 207.2L959.1 205.8L959.3 210.4L959.5 214.0L959.7 210.7L960.0 211.4L960.2 216.1L960.4 217.9L960.6 216.1L960.8 216.3L961.0 220.4L961.2 220.3L961.4 222.2L961.6 224.1L961.9 225.6L962.1 224.5L962.3 226.6L962.5 228.5L962.7 233.1L962.9 227.6L963.1 233.2L963.3 232.5L963.5 234.9L963.8 233.2L964.0 237.2L964.2 235.5L964.4 237.0L964.6 236.2L964.8 240.5L965.0 240.8L965.2 241.2L965.5 238.5L965.7 245.4L965.9 243.6L966.1 246.3L966.3 245.8L966.5 246.3L966.7 248.3L966.9 249.2L967.1 250.2L967.4 252.7L967.6 253.1L967.8 256.5L968.0 255.4L968.2 257.1L968.4 257.2L968.6 256.5L968.8 258.0L969.0 258.7L969.3 258.5L969.5 265.0L969.7 261.2L969.9 262.6L970.1 263.4L970.3 266.1L970.5 263.6L970.7 263.2L970.9 263.9L971.2 266.1L971.4 265.3L971.6 265.2L971.8 264.0L972.0 265.2L972.2 267.2L972.4 267.4L972.6 267.3L972.8 267.2L973.1 268.3L973.3 266.1L973.5 268.3L973.7 268.3L973.9 266.1L974.1 267.2L974.3 266.3L974.5 268.8L974.7 263.6L975.0 264.3L975.2 263.8L975.4 262.2L975.6 261.8L975.8 262.5L976.0 257.2L976.2 260.3L976.4 257.0L976.6 254.6L976.9 257.6L977.1 255.4L977.3 255.8L977.5 251.6L977.7 252.7L977.9 252.7L978.1 247.5L978.3 246.9L978.6 248.6L978.8 244.0L979.0 244.3L979.2 238.9L979.4 239.3L979.6 241.8L979.8 240.1L980.0 239.8L980.2 237.0L980.5 236.0L980.7 233.7L980.9 233.7L981.1 235.3L981.3 233.4L981.5 229.0L981.7 227.4L981.9 227.9L982.1 226.2L982.4 224.7L982.6 222.9L982.8 224.2L983.0 218.6L983.2 219.8" stroke="#1414ff" stroke-width="5.2" fill="none" stroke-linejoin="round" stroke-dasharray="1.2 0.7"/>
<path d="M687.6 217.4L687.8 220.4L688.0 214.5L688.2 211.4L688.4 216.0L688.7 208.6L688.9 209.1L689.1 209.9L689.3 210.2L689.5 204.6L689.7 205.0L689.9 203.5L690.1 203.9L690.3 203.9L690.6 200.2L690.8 202.4L691.0 198.5L691.2 202.0L691.4 200.1L691.6 200.3L691.8 195.1L692.0 199.6L692.2 198.0L692.5 194.6L692.7 194.8L692.9 191.2L693.1 191.4L693.3 193.1L693.5 192.8L693.7 196.7L693.9 194.9L694.2 193.9L694.4 193.6L694.6 195.5L694.8 194.8L695.0 194.7L695.2 191.6L695.4 192.8L695.6 194.2L695.8 194.3L696.1 193.7L696.3 195.6L696.5 195.2L696.7 198.0L696.9 194.5L697.1 194.4L697.3 195.9L697.5 196.2L697.7 197.0L698.0 194.8L698.2 198.5L698.4 201.7L698.6 201.9L698.8 199.7L699.0 199.9L699.2 201.2L699.4 201.9L699.6 203.8L699.9 207.5L700.1 207.1L700.3 209.8L700.5 208.5L700.7 211.1L700.9 209.7L701.1 211.2L701.3 215.2L701.5 211.9L701.8 212.9L702.0 217.6L702.2 216.3L702.4 216.5L702.6 219.4L702.8 218.8L703.0 221.2L703.2 221.0L703.4 223.8L703.7 225.8L703.9 226.2L704.1 227.2L704.3 229.8L704.5 232.1L704.7 233.3L704.9 233.4L705.1 234.7L705.3 234.3L705.6 235.4L705.8 236.8L706.0 237.7L706.2 238.5L706.4 237.3L706.6 239.1L706.8 243.1L707.0 242.6L707.3 245.0L707.5 245.8L707.7 247.2L707.9 249.0L708.1 251.3L708.3 254.3L708.5 251.0L708.7 250.5L708.9 255.1L709.2 253.8L709.4 256.3L709.6 256.3L709.8 259.1L710.0 259.1L710.2 259.8L710.4 264.5L710.6 261.1L710.8 262.5L711.1 267.2L711.3 262.7L711.5 264.5L711.7 264.8L711.9 265.2L712.1 267.0L712.3 268.6L712.5 268.0L712.7 268.4L713.0 264.4L713.2 265.3L713.4 269.4L713.6 269.4L713.8 268.3L714.0 268.0L714.2 270.0L714.4 270.5L714.6 265.5L714.9 266.7L715.1 270.8L715.3 270.8L715.5 268.9L715.7 266.7L715.9 265.7L716.1 266.6L716.3 268.1L716.5 264.3L716.8 262.9L717.0 263.1L717.2 263.1L717.4 260.4L717.6 260.5L717.8 261.3L718.0 258.2L718.2 259.4L718.4 254.5L718.7 254.2L718.9 255.5L719.1 252.2L719.3 249.2L719.5 253.6L719.7 248.9L719.9 244.6L720.1 248.7L720.4 245.0L720.6 245.8L720.8 242.2L721.0 244.8L721.2 242.2L721.4 239.1L721.6 236.7L721.8 235.1L722.0 233.9L722.3 231.6L722.5 231.3L722.7 230.4L722.9 232.3L723.1 228.9L723.3 221.5L723.5 221.3L723.7 222.1L723.9 220.7L724.2 218.8L724.4 219.7L724.6 214.3L724.8 216.8L725.0 215.0L725.2 209.8L725.4 215.7L725.6 210.4L725.8 212.7L726.1 209.7L726.3 207.7L726.5 207.0L726.7 205.1L726.9 205.7L727.1 203.6L727.3 204.5L727.5 202.3L727.7 203.1L728.0 198.9L728.2 201.4L728.4 197.3L728.6 198.6L728.8 197.8L729.0 194.7L729.2 196.0L729.4 198.9L729.6 194.4L729.9 199.7L730.1 194.0L730.3 194.8L730.5 196.3L730.7 193.6L730.9 194.0L731.1 190.0L731.3 194.1L731.5 190.0L731.8 190.9L732.0 194.4L732.2 194.8L732.4 191.3L732.6 194.0L732.8 193.7L733.0 194.7L733.2 196.6L733.5 195.5L733.7 196.9L733.9 198.3L734.1 196.6L734.3 193.6L734.5 194.4L734.7 197.8L734.9 198.1L735.1 198.1L735.4 197.3L735.6 199.8L735.8 201.9L736.0 202.5L736.2 200.7L736.4 199.0L736.6 205.4L736.8 208.7L737.0 204.7L737.3 207.2L737.5 207.8L737.7 206.9L737.9 209.9L738.1 213.3L738.3 215.5L738.5 213.3L738.7 216.4L738.9 215.0L739.2 218.9L739.4 218.5L739.6 221.7L739.8 221.0L740.0 222.5L740.2 222.0L740.4 222.1L740.6 226.1L740.8 228.7L741.1 225.4L741.3 229.9L741.5 230.4L741.7 231.1L741.9 230.5L742.1 232.1L742.3 233.6L742.5 234.5L742.7 238.3L743.0 238.9L743.2 239.2L743.4 239.9L743.6 241.2L743.8 241.8L744.0 243.4L744.2 245.4L744.4 248.6L744.6 245.5L744.9 247.1L745.1 250.8L745.3 249.5L745.5 250.8L745.7 252.5L745.9 256.9L746.1 256.9L746.3 256.9L746.6 254.1L746.8 259.3L747.0 259.4L747.2 261.7L747.4 261.5L747.6 260.9L747.8 265.9L748.0 268.0L748.2 262.8L748.5 264.5L748.7 266.3L748.9 264.2L749.1 264.7L749.3 270.5L749.5 267.6L749.7 265.9L749.9 269.2L750.1 268.9L750.4 267.0L750.6 269.2L750.8 270.9L751.0 270.1L751.2 271.2L751.4 267.9L751.6 271.6L751.8 266.7L752.0 271.0L752.3 267.8L752.5 270.0L752.7 267.6L752.9 264.7L753.1 264.0L753.3 263.1L753.5 264.8L753.7 263.7L753.9 262.6L754.2 261.1L754.4 262.0L754.6 258.4L754.8 258.7L755.0 256.3L755.2 256.3L755.4 254.8L755.6 256.1L755.8 254.3L756.1 254.6L756.3 251.6L756.5 250.1L756.7 247.1L756.9 249.4L757.1 240.3L757.3 244.8L757.5 241.1L757.7 240.1L758.0 244.9L758.2 239.7L758.4 235.5L758.6 240.9L758.8 234.3L759.0 236.0L759.2 234.2L759.4 232.0L759.7 234.7L759.9 230.0L760.1 229.5L760.3 227.9L760.5 223.7L760.7 217.3L760.9 221.2L761.1 219.3L761.3 218.9L761.6 218.6L761.8 215.5L762.0 212.0L762.2 213.0L762.4 210.5L762.6 211.2L762.8 205.3L763.0 211.3L763.2 206.4L763.5 205.4L763.7 204.8L763.9 206.2L764.1 205.3L764.3 202.8L764.5 201.3L764.7 202.8L764.9 201.7L765.1 198.2L765.4 196.7L765.6 198.7L765.8 198.4L766.0 197.9L766.2 191.8L766.4 194.8L766.6 195.3L766.8 193.0L767.0 190.5L767.3 192.1L767.5 196.3L767.7 193.8L767.9 194.2L768.1 194.0L768.3 195.4L768.5 194.0L768.7 195.2L768.9 192.8L769.2 193.4L769.4 196.0L769.6 196.7L769.8 194.8L770.0 193.2L770.2 193.7L770.4 195.0L770.6 201.0L770.8 196.6L771.1 197.5L771.3 197.3L771.5 199.3L771.7 198.5L771.9 199.5L772.1 194.4L772.3 198.5L772.5 200.8L772.8 201.2L773.0 202.1L773.2 202.4L773.4 204.3L773.6 204.5L773.8 203.5L774.0 204.8L774.2 206.6L774.4 205.9L774.7 208.8L774.9 211.9L775.1 214.2L775.3 213.5L775.5 213.5L775.7 213.9L775.9 213.8L776.1 217.9L776.3 219.5L776.6 218.0L776.8 218.5L777.0 222.7L777.2 222.6L777.4 222.2L777.6 225.4L777.8 227.5L778.0 232.6L778.2 228.5L778.5 230.4L778.7 232.1L778.9 233.9L779.1 236.1L779.3 235.1L779.5 236.1L779.7 235.1L779.9 240.1L780.1 236.6L780.4 240.2L780.6 239.3L780.8 244.2L781.0 243.1L781.2 242.7L781.4 245.8L781.6 249.7L781.8 248.8L782.0 248.5L782.3 253.0L782.5 254.2L782.7 252.4L782.9 255.5L783.1 253.8L783.3 258.0L783.5 260.2L783.7 259.3L783.9 256.4L784.2 261.4L784.4 260.8L784.6 261.2L784.8 264.1L785.0 261.4L785.2 263.7L785.4 263.9L785.6 268.2L785.9 269.0L786.1 271.2L786.3 267.3L786.5 267.8L786.7 266.6L786.9 265.6L787.1 268.9L787.3 269.1L787.5 268.0L787.8 266.3L788.0 270.4L788.2 267.8L788.4 269.2L788.6 269.2L788.8 267.1L789.0 269.5L789.2 269.7L789.4 266.3L789.7 267.0L789.9 266.9L790.1 266.1L790.3 264.4L790.5 265.2L790.7 262.4L790.9 262.2L791.1 259.5L791.3 259.0L791.6 258.7L791.8 259.5L792.0 257.9L792.2 258.0L792.4 251.0L792.6 255.1L792.8 252.5L793.0 249.9L793.2 253.3L793.5 251.1L793.7 249.1L793.9 248.8L794.1 247.9L794.3 245.3L794.5 240.9L794.7 240.5L794.9 240.4L795.1 239.1L795.4 240.7L795.6 235.4L795.8 234.7L796.0 236.2L796.2 232.9L796.4 232.6L796.6 232.3L796.8 231.8L797.1 229.3L797.3 228.0L797.5 223.9L797.7 222.5L797.9 221.0L798.1 220.4L798.3 219.3L798.5 213.7L798.7 219.0L799.0 212.4L799.2 212.6L799.4 211.8L799.6 211.6L799.8 209.9L800.0 210.4L800.2 209.6L800.4 206.3L800.6 208.0L800.9 202.7L801.1 201.3L801.3 208.2L801.5 204.1L801.7 200.1L801.9 199.4L802.1 198.9L802.3 197.6L802.5 196.4L802.8 195.6L803.0 193.4L803.2 196.0L803.4 194.0L803.6 197.9L803.8 194.9L804.0 196.5L804.2 191.7L804.4 189.8L804.7 192.7L804.9 195.7L805.1 193.6L805.3 193.2L805.5 192.9L805.7 191.4L805.9 191.7L806.1 198.0L806.3 191.3L806.6 194.6L806.8 195.0L807.0 191.9L807.2 195.1L807.4 197.3L807.6 197.6L807.8 195.7L808.0 194.7L808.2 194.2L808.5 197.6L808.7 198.6L808.9 195.7L809.1 199.9L809.3 197.3L809.5 200.1L809.7 200.8L809.9 202.4L810.2 202.3L810.4 204.4L810.6 205.7L810.8 205.6L811.0 207.4L811.2 206.7L811.4 208.1L811.6 209.7L811.8 210.6L812.1 211.7L812.3 209.4L812.5 213.5L812.7 215.7L812.9 216.3L813.1 215.9L813.3 218.6L813.5 219.7L813.7 221.1L814.0 221.7L814.2 222.7L814.4 223.9L814.6 228.9L814.8 229.4L815.0 233.7L815.2 229.7L815.4 229.7L815.6 230.1L815.9 232.9L816.1 232.1L816.3 235.1L816.5 236.2L816.7 239.7L816.9 239.5L817.1 240.3L817.3 238.8L817.5 238.6L817.8 243.4L818.0 243.1L818.2 244.5L818.4 247.4L818.6 250.2L818.8 249.7L819.0 252.0L819.2 251.2L819.4 252.0L819.7 253.2L819.9 254.3L820.1 254.2L820.3 257.7L820.5 255.6L820.7 261.0L820.9 259.0L821.1 259.3L821.3 262.2L821.6 264.5L821.8 261.5L822.0 264.5L822.2 262.7L822.4 263.4L822.6 265.4L822.8 266.0L823.0 264.8L823.3 266.4L823.5 269.1L823.7 267.6L823.9 267.2L824.1 268.1L824.3 268.3L824.5 269.1L824.7 269.1L824.9 270.5L825.2 271.3L825.4 266.9L825.6 269.7L825.8 268.0L826.0 270.7L826.2 267.5L826.4 268.8L826.6 261.8L826.8 268.1L827.1 267.4L827.3 263.5L827.5 262.5L827.7 267.3L827.9 262.4L828.1 260.5L828.3 263.1L828.5 258.9L828.7 259.9L829.0 259.7L829.2 257.5L829.4 256.5L829.6 256.9L829.8 249.5L830.0 252.9L830.2 252.1L830.4 248.1L830.6 248.3L830.9 244.6L831.1 246.0L831.3 243.6L831.5 242.7L831.7 241.3L831.9 240.6L832.1 239.2L832.3 234.8L832.5 237.6L832.8 236.2L833.0 234.7L833.2 232.1L833.4 231.5L833.6 229.7L833.8 232.1L834.0 227.5L834.2 226.5L834.4 225.0L834.7 222.6L834.9 224.7L835.1 219.4L835.3 218.2L835.5 219.5L835.7 215.8L835.9 211.7L836.1 213.7L836.4 210.7L836.6 210.9L836.8 210.7L837.0 209.8L837.2 207.8L837.4 203.8L837.6 203.6L837.8 205.2L838.0 201.4L838.3 202.4L838.5 202.5L838.7 199.7L838.9 201.2L839.1 201.6L839.3 196.1L839.5 200.7L839.7 196.1L839.9 199.1L840.2 196.0L840.4 195.8L840.6 195.8L840.8 198.4L841.0 194.5L841.2 194.1L841.4 195.3L841.6 193.7L841.8 191.8L842.1 194.6L842.3 192.9L842.5 195.2L842.7 192.6L842.9 192.3L843.1 189.3L843.3 192.1L843.5 193.1L843.7 191.7L844.0 196.0L844.2 192.8L844.4 195.9L844.6 196.4L844.8 194.0L845.0 195.9L845.2 194.5L845.4 199.8L845.6 197.5L845.9 199.4L846.1 199.6L846.3 203.1L846.5 199.0L846.7 201.0L846.9 203.8L847.1 205.2L847.3 205.2L847.5 202.2L847.8 205.7L848.0 207.0L848.2 206.5L848.4 208.3L848.6 209.0L848.8 209.1L849.0 210.9L849.2 211.1L849.5 215.7L849.7 214.7L849.9 216.5L850.1 217.0L850.3 218.4L850.5 220.7L850.7 221.4L850.9 220.6L851.1 224.4L851.4 227.0L851.6 225.3L851.8 226.1L852.0 229.8L852.2 230.9L852.4 233.1L852.6 232.8L852.8 231.4L853.0 232.8L853.3 234.9L853.5 236.6L853.7 239.9L853.9 237.7L854.1 238.6L854.3 238.7L854.5 238.2L854.7 242.1L854.9 242.3L855.2 246.9L855.4 244.2L855.6 245.9L855.8 246.2L856.0 248.5L856.2 250.0L856.4 249.4L856.6 254.1L856.8 253.0L857.1 253.3L857.3 257.5L857.5 259.1L857.7 257.4L857.9 258.9L858.1 259.0L858.3 259.9L858.5 263.1L858.7 262.0L859.0 261.5L859.2 264.7L859.4 265.3L859.6 267.3L859.8 264.6L860.0 263.3L860.2 269.3L860.4 266.2L860.6 266.3L860.9 269.1L861.1 269.0L861.3 270.4L861.5 270.1L861.7 268.6L861.9 267.8L862.1 268.6L862.3 267.3L862.6 268.2L862.8 270.3L863.0 265.6L863.2 265.7L863.4 268.4L863.6 263.8L863.8 265.4L864.0 265.4L864.2 261.7L864.5 268.4L864.7 266.2L864.9 261.5L865.1 262.2L865.3 262.4L865.5 257.3L865.7 258.0L865.9 259.9L866.1 257.7L866.4 254.1L866.6 251.3L866.8 256.4L867.0 251.4L867.2 251.2L867.4 252.2L867.6 248.2L867.8 249.3L868.0 246.2L868.3 241.3L868.5 241.8L868.7 240.0L868.9 239.0L869.1 238.1L869.3 235.8L869.5 238.2L869.7 235.6L869.9 232.5L870.2 234.1L870.4 232.7L870.6 229.1L870.8 226.9L871.0 228.6L871.2 227.2L871.4 223.2L871.6 222.2L871.8 222.2L872.1 218.6L872.3 217.2L872.5 216.6L872.7 210.4L872.9 211.8L873.1 211.4L873.3 209.8L873.5 205.3L873.7 207.2L874.0 209.2L874.2 206.3L874.4 205.7L874.6 205.7L874.8 203.3L875.0 202.4L875.2 202.0L875.4 201.9L875.7 198.9L875.9 202.2L876.1 197.4L876.3 198.0L876.5 197.0L876.7 200.8L876.9 193.4L877.1 198.7L877.3 196.8L877.6 193.8L877.8 195.5L878.0 194.9L878.2 197.7L878.4 194.4L878.6 193.1L878.8 192.2L879.0 193.7L879.2 192.8L879.5 192.4L879.7 194.3L879.9 194.5L880.1 190.1L880.3 195.0L880.5 191.7L880.7 193.8L880.9 191.8L881.1 195.6L881.4 194.1L881.6 194.8L881.8 196.1L882.0 195.7L882.2 198.0L882.4 197.4L882.6 198.5L882.8 197.2L883.0 199.3L883.3 202.2L883.5 201.2L883.7 201.5L883.9 203.6L884.1 200.6L884.3 203.1L884.5 203.2L884.7 206.8L884.9 207.1L885.2 205.7L885.4 210.8L885.6 208.8L885.8 210.3L886.0 212.3L886.2 212.4L886.4 215.5L886.6 214.4L886.9 218.0L887.1 219.3L887.3 216.0L887.5 220.8L887.7 224.5L887.9 220.6L888.1 224.9L888.3 230.9L888.5 226.5L888.8 226.3L889.0 228.9L889.2 228.2L889.4 231.9L889.6 231.4L889.8 235.0L890.0 233.9L890.2 232.6L890.4 235.3L890.7 237.0L890.9 241.6L891.1 240.0L891.3 242.7L891.5 240.3L891.7 244.0L891.9 243.3L892.1 246.8L892.3 243.1L892.6 249.4L892.8 248.3L893.0 245.2L893.2 250.5L893.4 253.4L893.6 252.0L893.8 252.4L894.0 253.7L894.2 259.6L894.5 256.9L894.7 261.8L894.9 256.0L895.1 260.0L895.3 261.8L895.5 260.7L895.7 261.8L895.9 265.4L896.1 261.4L896.4 265.2L896.6 268.4L896.8 263.6L897.0 263.9L897.2 264.9L897.4 266.5L897.6 269.3L897.8 266.5L898.0 265.2L898.3 267.2L898.5 266.0L898.7 270.1L898.9 267.1L899.1 267.1L899.3 271.2L899.5 271.2L899.7 269.4L900.0 267.8L900.2 266.8L900.4 267.5L900.6 266.7L900.8 266.3L901.0 265.3L901.2 263.8L901.4 263.3L901.6 263.4L901.9 262.0L902.1 262.4L902.3 259.3L902.5 260.5L902.7 255.8L902.9 257.6L903.1 256.0L903.3 256.6L903.5 254.7L903.8 252.6L904.0 251.6L904.2 251.4L904.4 251.0L904.6 247.7L904.8 246.2L905.0 244.2L905.2 241.6L905.4 243.0L905.7 244.5L905.9 240.0L906.1 241.7L906.3 239.5L906.5 234.3L906.7 233.9L906.9 234.8L907.1 233.8L907.3 231.9L907.6 234.0L907.8 228.4L908.0 227.9L908.2 222.5L908.4 225.8L908.6 220.7L908.8 222.0L909.0 217.6L909.2 219.6L909.5 215.3L909.7 215.9L909.9 215.3L910.1 212.8L910.3 210.5L910.5 209.4L910.7 206.2L910.9 206.4L911.1 211.2L911.4 206.3L911.6 208.0L911.8 204.3L912.0 201.6L912.2 204.1L912.4 203.0L912.6 199.9L912.8 199.8L913.1 195.9L913.3 197.4L913.5 196.4L913.7 193.7L913.9 197.0L914.1 195.7L914.3 196.9L914.5 194.4L914.7 192.7L915.0 191.8L915.2 193.9L915.4 194.8L915.6 194.7L915.8 195.7L916.0 193.0L916.2 190.8L916.4 197.2L916.6 196.9L916.9 190.8L917.1 196.1L917.3 193.0L917.5 195.9L917.7 192.6L917.9 192.9L918.1 194.3L918.3 193.5L918.5 195.3L918.8 194.8L919.0 193.1L919.2 194.9L919.4 198.5L919.6 199.3L919.8 198.9L920.0 199.6L920.2 199.8L920.4 201.6L920.7 200.2L920.9 202.1L921.1 202.3L921.3 203.8L921.5 203.6L921.7 207.6L921.9 203.8L922.1 206.9L922.3 207.7L922.6 208.4L922.8 208.7L923.0 210.3L923.2 212.3L923.4 214.1L923.6 217.7L923.8 215.7L924.0 217.8L924.2 219.0L924.5 215.6L924.7 224.2L924.9 222.2L925.1 221.6L925.3 223.4L925.5 224.4L925.7 230.2L925.9 231.3L926.2 230.0L926.4 232.2L926.6 229.5L926.8 232.9L927.0 233.9L927.2 234.5L927.4 236.7L927.6 237.1L927.8 239.5L928.1 239.5L928.3 241.4L928.5 241.3L928.7 245.3L928.9 246.6L929.1 244.4L929.3 245.9L929.5 249.1L929.7 249.0L930.0 251.6L930.2 247.4L930.4 254.7L930.6 250.2L930.8 255.6L931.0 254.5L931.2 256.7L931.4 257.9L931.6 256.7L931.9 257.8L932.1 260.6L932.3 262.6L932.5 258.3L932.7 260.2L932.9 263.2L933.1 264.6L933.3 264.3L933.5 265.3L933.8 264.0L934.0 268.2L934.2 267.0L934.4 268.8L934.6 265.5L934.8 265.0L935.0 268.5L935.2 267.6L935.4 266.2L935.7 269.2L935.9 270.3L936.1 266.9L936.3 267.7L936.5 268.7L936.7 265.6L936.9 267.4L937.1 270.5L937.3 266.4L937.6 266.6L937.8 262.7L938.0 265.4L938.2 265.0L938.4 263.2L938.6 262.7L938.8 264.7L939.0 261.2L939.3 261.0L939.5 257.1L939.7 254.3L939.9 259.3L940.1 257.9L940.3 256.5L940.5 255.0L940.7 253.8L940.9 251.3L941.2 248.3L941.4 251.1L941.6 250.2L941.8 249.4L942.0 243.0L942.2 241.2L942.4 244.8L942.6 243.7L942.8 239.3L943.1 236.4L943.3 235.3L943.5 235.5L943.7 233.5L943.9 233.0L944.1 233.5L944.3 228.3L944.5 230.9L944.7 230.8L945.0 227.8L945.2 228.0L945.4 223.7L945.6 220.2L945.8 222.8L946.0 217.2L946.2 214.1L946.4 215.6L946.6 216.9L946.9 215.1L947.1 212.9L947.3 213.3L947.5 212.0L947.7 209.1L947.9 207.9L948.1 205.4L948.3 207.5L948.5 201.2L948.8 201.6L949.0 201.0L949.2 202.7L949.4 197.8L949.6 200.5L949.8 196.1L950.0 196.6L950.2 199.3L950.4 198.0L950.7 193.4L950.9 194.3L951.1 195.8L951.3 194.8L951.5 194.4L951.7 195.7L951.9 194.4L952.1 194.9L952.4 194.3L952.6 192.5L952.8 194.9L953.0 191.9L953.2 192.9L953.4 191.8L953.6 191.6L953.8 191.0L954.0 192.2L954.3 192.3L954.5 194.0L954.7 193.0L954.9 195.8L955.1 195.0L955.3 193.6L955.5 195.4L955.7 195.0L955.9 198.1L956.2 194.4L956.4 198.3L956.6 197.3L956.8 198.6L957.0 197.6L957.2 200.6L957.4 202.4L957.6 204.7L957.8 202.7L958.1 205.1L958.3 202.9L958.5 202.3L958.7 209.5L958.9 208.8L959.1 207.0L959.3 206.4L959.5 209.0L959.7 210.0L960.0 210.8L960.2 211.8L960.4 211.0L960.6 214.0L960.8 218.3L961.0 218.2L961.2 218.3L961.4 221.3L961.6 221.6L961.9 223.4L962.1 225.0L962.3 224.0L962.5 227.3L962.7 230.1L962.9 231.1L963.1 231.0L963.3 228.1L963.5 232.1L963.8 230.9L964.0 233.5L964.2 239.0L964.4 235.7L964.6 238.9L964.8 240.8L965.0 241.5L965.2 237.6L965.5 244.6L965.7 244.1L965.9 242.1L966.1 244.2L966.3 249.4L966.5 247.8L966.7 249.7L966.9 250.2L967.1 249.7L967.4 253.1L967.6 253.8L967.8 251.8L968.0 258.6L968.2 257.0L968.4 256.6L968.6 260.5L968.8 260.4L969.0 262.5L969.3 260.8L969.5 263.0L969.7 261.4L969.9 261.7L970.1 264.1L970.3 265.5L970.5 265.1L970.7 266.0L970.9 268.7L971.2 265.2L971.4 267.1L971.6 266.4L971.8 270.5L972.0 266.8L972.2 264.9L972.4 267.6L972.6 271.2L972.8 268.6L973.1 268.7L973.3 268.1L973.5 268.7L973.7 267.2L973.9 268.6L974.1 267.0L974.3 268.1L974.5 266.3L974.7 264.2L975.0 266.1L975.2 263.4L975.4 265.4L975.6 263.7L975.8 262.6L976.0 259.1L976.2 261.7L976.4 257.2L976.6 260.9L976.9 257.5L977.1 254.5L977.3 253.7L977.5 255.5L977.7 254.6L977.9 249.7L978.1 252.2L978.3 247.7L978.6 248.3L978.8 246.1L979.0 240.7L979.2 240.7L979.4 240.6L979.6 243.1L979.8 238.9L980.0 238.1L980.2 237.1L980.5 233.4L980.7 237.5L980.9 232.9L981.1 232.2L981.3 232.8L981.5 227.8L981.7 230.9L981.9 226.8L982.1 225.0L982.4 227.3L982.6 224.4L982.8 222.1L983.0 217.6L983.2 215.9" stroke="#0f0" stroke-width="3.3" fill="none" stroke-linejoin="round" stroke-linecap="round"/>
</g>
<g stroke="#444" stroke-width="1" fill="none">
<rect x="687.6" y="107.7" width="295.6" height="206.3" stroke-width="1.1"/>
<path d="M687.6 314v-3.2M687.6 107.7v3.2"/>
<path d="M746.7 314v-3.2M746.7 107.7v3.2"/>
<path d="M805.8 314v-3.2M805.8 107.7v3.2"/>
<path d="M865.0 314v-3.2M865.0 107.7v3.2"/>
<path d="M924.1 314v-3.2M924.1 107.7v3.2"/>
<path d="M983.2 314v-3.2M983.2 107.7v3.2"/>
<path d="M687.6 314.0h3.2M983.2 314.0h-3.2"/>
<path d="M687.6 271.0h3.2M983.2 271.0h-3.2"/>
<path d="M687.6 228.0h3.2M983.2 228.0h-3.2"/>
<path d="M687.6 185.1h3.2M983.2 185.1h-3.2"/>
<path d="M687.6 142.1h3.2M983.2 142.1h-3.2"/>
</g>
<g font-family='"Liberation Serif", "Times New Roman", serif' font-size="13" fill="#111">
<text x="685.4" y="318.3" text-anchor="end">-100</text>
<text x="685.4" y="275.3" text-anchor="end">-50</text>
<text x="685.4" y="232.3" text-anchor="end">0</text>
<text x="685.4" y="189.4" text-anchor="end">50</text>
<text x="685.4" y="146.4" text-anchor="end">100</text>
<text x="687.6" y="327.3" text-anchor="middle">0</text>
<text x="746.7" y="327.3" text-anchor="middle">0.2</text>
<text x="805.8" y="327.3" text-anchor="middle">0.4</text>
<text x="865.0" y="327.3" text-anchor="middle">0.6</text>
<text x="924.1" y="327.3" text-anchor="middle">0.8</text>
<text x="983.2" y="327.3" text-anchor="middle">1</text>
</g>
<text x="673.2" y="97.8" font-family='"Liberation Serif", "Times New Roman", serif' font-size="15" fill="#000" textLength="323.2" lengthAdjust="spacingAndGlyphs">FBG wavelength shift signal time domain-800mm/s2</text>
<text x="834.5" y="342.6" font-family='"Liberation Serif", "Times New Roman", serif' font-size="14" text-anchor="middle" fill="#000">t/s</text>
<text transform="translate(660.5 235) rotate(-90)" font-family='"Liberation Serif", "Times New Roman", serif, "DejaVu Sans"' font-size="15.5" fill="#111" textLength="47.5" lengthAdjust="spacingAndGlyphs">△λ/ <tspan font-weight="bold">pm</tspan></text>
<rect x="869.2" y="110.9" width="110.0" height="49.6" fill="#fff" stroke="#444" stroke-width="1"/>
<path d="M873 120.2H891.6" stroke="#00f" stroke-width="1.8" opacity="0.8"/>
<path d="M882.3 117.0l3 5.2h-6z" stroke="#00f" stroke-width="1" fill="#fff" fill-opacity="0.6"/>
<path d="M873 135.8H891.6" stroke="#0f0" stroke-width="0.9"/>
<circle cx="882.3" cy="135.8" r="1.7" fill="#0f0"/>
<path d="M873 150.8H891.6" stroke="#f0f" stroke-width="0.9" opacity="0.8"/>
<g font-family='"Liberation Serif", "Times New Roman", serif' font-size="12.85" fill="#111">
<text x="893.5" y="124.4">#1 FBG</text>
<text x="893.5" y="140.0">#2 FBG</text>
<text x="893.5" y="155.0">#1FBG+#2FBG</text>
</g>
<rect x="701.8" y="364.6" width="282.0" height="209.9" fill="#fff" stroke="none"/>
<clipPath id="c701"><rect x="701.8" y="364.6" width="282.0" height="209.9"/></clipPath><g clip-path="url(#c701)">
<path d="M701.8 442.6L702.0 445.2L702.2 449.8L702.4 450.1L702.6 453.3L702.8 454.3L703.0 456.7L703.2 458.5L703.4 462.5L703.6 465.0L703.8 469.2L704.0 470.9L704.2 474.7L704.4 475.3L704.6 479.8L704.8 481.4L705.0 484.4L705.2 486.4L705.4 487.8L705.6 490.8L705.8 492.2L706.0 496.5L706.2 497.5L706.4 502.4L706.6 503.9L706.8 505.8L707.0 512.7L707.2 514.2L707.4 516.3L707.6 517.8L707.8 522.0L708.0 523.9L708.3 527.4L708.5 528.8L708.7 532.9L708.9 533.5L709.1 539.2L709.3 540.5L709.5 539.5L709.7 543.1L709.9 546.2L710.1 545.4L710.3 548.4L710.5 550.2L710.7 553.4L710.9 554.2L711.1 556.0L711.3 559.5L711.5 559.0L711.7 561.1L711.9 561.1L712.1 562.3L712.3 565.1L712.5 566.2L712.7 566.4L712.9 566.9L713.1 568.6L713.3 569.0L713.5 568.9L713.7 569.6L713.9 569.3L714.1 570.4L714.3 571.6L714.5 572.5L714.7 570.2L714.9 571.1L715.1 571.0L715.3 570.6L715.5 571.4L715.7 569.8L715.9 571.2L716.1 568.6L716.3 568.3L716.5 565.0L716.7 565.2L716.9 564.8L717.1 563.3L717.3 561.6L717.5 561.6L717.7 559.7L717.9 558.4L718.1 554.3L718.3 554.8L718.5 554.9L718.7 550.6L718.9 547.1L719.1 548.3L719.3 542.3L719.5 543.4L719.7 540.3L719.9 539.4L720.1 536.9L720.3 535.4L720.5 532.8L720.7 531.3L720.9 525.8L721.2 525.3L721.4 521.3L721.6 518.7L721.8 516.8L722.0 513.4L722.2 510.7L722.4 508.2L722.6 504.8L722.8 501.8L723.0 499.8L723.2 496.9L723.4 493.3L723.6 490.3L723.8 487.1L724.0 484.8L724.2 483.4L724.4 480.4L724.6 478.7L724.8 475.2L725.0 473.5L725.2 470.7L725.4 468.7L725.6 465.8L725.8 461.5L726.0 461.7L726.2 458.0L726.4 456.0L726.6 452.0L726.8 448.8L727.0 448.2L727.2 448.0L727.4 442.6L727.6 440.3L727.8 440.2L728.0 436.7L728.2 434.4L728.4 434.4L728.6 429.8L728.8 428.1L729.0 426.5L729.2 426.0L729.4 424.1L729.6 422.6L729.8 420.2L730.0 420.2L730.2 416.8L730.4 416.7L730.6 418.0L730.8 413.7L731.0 414.3L731.2 414.3L731.4 413.2L731.6 414.5L731.8 412.4L732.0 414.6L732.2 413.3L732.4 411.2L732.6 411.5L732.8 413.2L733.0 414.2L733.2 413.0L733.4 414.6L733.6 415.1L733.9 415.6L734.1 418.1L734.3 417.5L734.5 421.3L734.7 419.4L734.9 423.6L735.1 424.2L735.3 425.8L735.5 426.3L735.7 428.0L735.9 430.3L736.1 432.0L736.3 434.1L736.5 436.7L736.7 440.6L736.9 443.2L737.1 445.5L737.3 445.8L737.5 448.4L737.7 450.8L737.9 452.9L738.1 455.9L738.3 459.2L738.5 462.2L738.7 465.2L738.9 465.0L739.1 467.9L739.3 472.6L739.5 474.2L739.7 476.1L739.9 477.6L740.1 482.1L740.3 483.8L740.5 485.3L740.7 490.1L740.9 491.3L741.1 492.9L741.3 496.7L741.5 497.3L741.7 501.4L741.9 505.0L742.1 508.9L742.3 510.1L742.5 513.2L742.7 517.0L742.9 519.7L743.1 523.3L743.3 524.6L743.5 526.3L743.7 528.7L743.9 531.6L744.1 533.8L744.3 537.4L744.5 539.6L744.7 540.3L744.9 543.2L745.1 546.4L745.3 547.2L745.5 548.9L745.7 550.9L745.9 553.2L746.1 555.5L746.3 556.3L746.5 556.7L746.8 559.6L747.0 561.7L747.2 562.1L747.4 564.7L747.6 564.5L747.8 566.1L748.0 565.9L748.2 567.5L748.4 567.4L748.6 566.9L748.8 569.8L749.0 570.8L749.2 570.0L749.4 570.8L749.6 570.8L749.8 571.5L750.0 570.5L750.2 570.8L750.4 572.6L750.6 570.6L750.8 569.6L751.0 568.4L751.2 569.4L751.4 568.9L751.6 566.4L751.8 567.1L752.0 565.5L752.2 564.1L752.4 562.7L752.6 562.1L752.8 561.8L753.0 558.5L753.2 558.3L753.4 556.8L753.6 552.8L753.8 552.1L754.0 552.1L754.2 549.7L754.4 547.5L754.6 545.9L754.8 544.9L755.0 540.2L755.2 538.0L755.4 536.2L755.6 534.4L755.8 531.4L756.0 528.5L756.2 527.5L756.4 524.3L756.6 521.9L756.8 518.0L757.0 515.7L757.2 514.3L757.4 510.9L757.6 505.8L757.8 505.4L758.0 501.4L758.2 499.1L758.4 494.3L758.6 492.2L758.8 490.6L759.0 489.2L759.2 486.1L759.4 482.7L759.7 480.4L759.9 479.7L760.1 474.5L760.3 473.6L760.5 471.7L760.7 468.0L760.9 466.1L761.1 463.4L761.3 460.9L761.5 457.8L761.7 455.6L761.9 454.2L762.1 449.6L762.3 448.1L762.5 444.2L762.7 442.4L762.9 440.1L763.1 438.2L763.3 435.1L763.5 434.4L763.7 433.0L763.9 429.9L764.1 430.8L764.3 426.9L764.5 424.7L764.7 423.7L764.9 420.7L765.1 419.8L765.3 419.1L765.5 418.4L765.7 415.9L765.9 416.6L766.1 415.5L766.3 413.7L766.5 413.2L766.7 411.4L766.9 413.1L767.1 414.3L767.3 411.8L767.5 411.3L767.7 412.6L767.9 411.3L768.1 411.4L768.3 414.0L768.5 414.4L768.7 415.8L768.9 414.9L769.1 415.6L769.3 416.7L769.5 419.5L769.7 420.3L769.9 422.2L770.1 423.8L770.3 425.1L770.5 426.9L770.7 427.3L770.9 428.6L771.1 430.3L771.3 432.8L771.5 435.5L771.7 437.0L771.9 438.7L772.1 441.7L772.4 443.7L772.6 446.4L772.8 449.0L773.0 451.0L773.2 454.5L773.4 455.1L773.6 460.0L773.8 460.8L774.0 465.0L774.2 465.1L774.4 468.3L774.6 472.4L774.8 474.7L775.0 477.9L775.2 479.4L775.4 481.5L775.6 482.0L775.8 487.9L776.0 487.7L776.2 491.4L776.4 493.0L776.6 495.7L776.8 499.1L777.0 502.2L777.2 505.7L777.4 508.5L777.6 511.2L777.8 513.1L778.0 518.2L778.2 520.1L778.4 523.4L778.6 525.8L778.8 528.2L779.0 529.0L779.2 530.5L779.4 533.6L779.6 538.3L779.8 539.4L780.0 542.7L780.2 543.5L780.4 544.8L780.6 547.4L780.8 549.1L781.0 551.9L781.2 555.3L781.4 557.0L781.6 557.0L781.8 557.9L782.0 558.8L782.2 561.6L782.4 562.5L782.6 563.6L782.8 563.9L783.0 566.0L783.2 567.8L783.4 566.7L783.6 568.1L783.8 568.8L784.0 570.8L784.2 570.1L784.4 572.0L784.6 572.6L784.8 571.1L785.0 571.4L785.3 570.5L785.5 569.6L785.7 570.7L785.9 568.7L786.1 570.4L786.3 568.7L786.5 569.9L786.7 568.0L786.9 567.6L787.1 566.6L787.3 564.9L787.5 566.1L787.7 563.1L787.9 562.7L788.1 560.5L788.3 558.9L788.5 558.1L788.7 556.5L788.9 555.5L789.1 552.2L789.3 551.5L789.5 548.6L789.7 548.3L789.9 543.7L790.1 543.8L790.3 539.6L790.5 538.8L790.7 535.6L790.9 533.9L791.1 530.7L791.3 528.8L791.5 525.1L791.7 523.1L791.9 520.4L792.1 516.8L792.3 516.2L792.5 511.6L792.7 509.9L792.9 508.4L793.1 503.7L793.3 501.4L793.5 496.6L793.7 495.5L793.9 491.6L794.1 489.7L794.3 489.5L794.5 485.1L794.7 484.1L794.9 479.5L795.1 476.7L795.3 475.7L795.5 474.5L795.7 470.3L795.9 467.7L796.1 464.6L796.3 462.9L796.5 461.1L796.7 457.5L796.9 455.7L797.1 450.7L797.3 450.5L797.5 448.0L797.7 445.0L798.0 443.8L798.2 440.8L798.4 438.3L798.6 436.4L798.8 434.1L799.0 430.8L799.2 429.6L799.4 429.3L799.6 426.8L799.8 424.0L800.0 423.7L800.2 421.6L800.4 420.3L800.6 418.6L800.8 418.0L801.0 416.9L801.2 416.6L801.4 414.7L801.6 415.1L801.8 412.2L802.0 413.2L802.2 413.0L802.4 411.9L802.6 412.5L802.8 412.3L803.0 412.6L803.2 413.4L803.4 413.9L803.6 414.1L803.8 413.0L804.0 415.3L804.2 415.9L804.4 416.8L804.6 416.8L804.8 416.8L805.0 420.6L805.2 420.6L805.4 422.4L805.6 424.3L805.8 425.2L806.0 428.5L806.2 428.5L806.4 430.9L806.6 434.0L806.8 433.7L807.0 436.5L807.2 438.4L807.4 443.0L807.6 444.3L807.8 446.9L808.0 448.3L808.2 450.1L808.4 455.5L808.6 456.3L808.8 459.1L809.0 460.6L809.2 464.2L809.4 467.9L809.6 469.6L809.8 472.9L810.0 475.3L810.2 477.1L810.4 480.1L810.6 481.9L810.9 486.0L811.1 484.9L811.3 488.0L811.5 490.4L811.7 494.9L811.9 498.8L812.1 500.7L812.3 503.2L812.5 503.9L812.7 507.7L812.9 512.1L813.1 513.4L813.3 516.1L813.5 519.9L813.7 521.5L813.9 524.9L814.1 528.4L814.3 531.4L814.5 532.9L814.7 534.3L814.9 538.7L815.1 541.2L815.3 541.5L815.5 546.6L815.7 544.6L815.9 548.6L816.1 549.5L816.3 550.3L816.5 555.1L816.7 556.4L816.9 555.1L817.1 558.9L817.3 560.2L817.5 561.3L817.7 561.8L817.9 562.7L818.1 564.9L818.3 566.3L818.5 567.0L818.7 567.5L818.9 567.4L819.1 569.1L819.3 568.1L819.5 570.9L819.7 570.0L819.9 569.2L820.1 569.8L820.3 570.7L820.5 571.8L820.7 571.5L820.9 570.7L821.1 570.0L821.3 570.1L821.5 570.6L821.7 569.4L821.9 567.6L822.1 566.5L822.3 567.6L822.5 565.7L822.7 565.7L822.9 563.6L823.1 558.7L823.3 560.4L823.5 559.4L823.8 558.1L824.0 557.0L824.2 555.9L824.4 552.5L824.6 550.9L824.8 547.4L825.0 548.2L825.2 544.3L825.4 541.4L825.6 542.1L825.8 537.6L826.0 537.3L826.2 533.0L826.4 529.7L826.6 528.5L826.8 525.7L827.0 524.0L827.2 520.4L827.4 517.0L827.6 515.4L827.8 512.6L828.0 509.3L828.2 506.0L828.4 505.3L828.6 500.8L828.8 498.4L829.0 494.2L829.2 490.6L829.4 489.4L829.6 486.4L829.8 486.2L830.0 483.2L830.2 481.3L830.4 477.8L830.6 475.2L830.8 472.9L831.0 471.2L831.2 467.6L831.4 465.3L831.6 461.7L831.8 459.9L832.0 456.0L832.2 454.3L832.4 453.7L832.6 449.7L832.8 448.4L833.0 443.8L833.2 441.1L833.4 440.1L833.6 437.5L833.8 437.0L834.0 435.7L834.2 432.1L834.4 430.0L834.6 429.3L834.8 426.1L835.0 424.2L835.2 422.4L835.4 420.1L835.6 419.4L835.8 419.2L836.0 417.6L836.2 416.2L836.5 416.7L836.7 413.8L836.9 413.4L837.1 413.8L837.3 413.7L837.5 409.4L837.7 411.8L837.9 411.6L838.1 410.8L838.3 411.6L838.5 412.6L838.7 412.5L838.9 414.4L839.1 413.5L839.3 416.2L839.5 415.2L839.7 416.0L839.9 419.0L840.1 417.0L840.3 421.0L840.5 420.3L840.7 423.2L840.9 424.0L841.1 426.5L841.3 425.4L841.5 428.5L841.7 429.7L841.9 432.6L842.1 434.8L842.3 437.4L842.5 439.9L842.7 441.4L842.9 444.2L843.1 446.8L843.3 450.4L843.5 451.9L843.7 453.6L843.9 457.1L844.1 458.9L844.3 462.0L844.5 465.4L844.7 467.9L844.9 470.4L845.1 472.6L845.3 475.1L845.5 476.5L845.7 481.0L845.9 484.3L846.1 484.3L846.3 487.6L846.5 489.5L846.7 489.0L846.9 492.8L847.1 496.7L847.3 499.5L847.5 503.2L847.7 505.4L847.9 509.7L848.1 512.6L848.3 515.2L848.5 516.1L848.7 518.9L848.9 523.5L849.1 524.5L849.4 528.2L849.6 529.6L849.8 533.3L850.0 534.6L850.2 537.9L850.4 540.3L850.6 542.2L850.8 544.2L851.0 547.0L851.2 549.7L851.4 548.8L851.6 552.5L851.8 555.6L852.0 557.7L852.2 559.8L852.4 559.3L852.6 559.0L852.8 563.1L853.0 563.1L853.2 565.7L853.4 564.1L853.6 565.8L853.8 566.8L854.0 566.7L854.2 567.1L854.4 568.3L854.6 570.3L854.8 571.4L855.0 571.5L855.2 572.3L855.4 569.3L855.6 571.1L855.8 570.8L856.0 570.6L856.2 568.7L856.4 570.7L856.6 568.7L856.8 569.0L857.0 568.7L857.2 569.6L857.4 566.2L857.6 566.8L857.8 565.6L858.0 563.9L858.2 562.8L858.4 560.6L858.6 560.9L858.8 558.7L859.0 557.1L859.2 555.7L859.4 553.4L859.6 552.5L859.8 549.3L860.0 549.1L860.2 547.8L860.4 544.5L860.6 541.2L860.8 540.5L861.0 538.4L861.2 535.8L861.4 533.0L861.6 530.8L861.8 527.9L862.1 527.1L862.3 521.6L862.5 519.8L862.7 518.4L862.9 513.6L863.1 511.7L863.3 507.9L863.5 507.4L863.7 501.9L863.9 500.4L864.1 499.2L864.3 493.5L864.5 491.6L864.7 490.3L864.9 487.4L865.1 486.7L865.3 482.0L865.5 480.3L865.7 477.8L865.9 473.7L866.1 472.3L866.3 470.4L866.5 468.0L866.7 464.6L866.9 460.9L867.1 459.8L867.3 457.7L867.5 453.3L867.7 451.6L867.9 449.2L868.1 444.9L868.3 445.4L868.5 441.8L868.7 441.4L868.9 437.8L869.1 434.9L869.3 432.3L869.5 432.5L869.7 428.7L869.9 426.9L870.1 426.0L870.3 422.1L870.5 422.7L870.7 422.1L870.9 419.6L871.1 420.4L871.3 416.2L871.5 415.6L871.7 416.0L871.9 414.3L872.1 413.6L872.3 411.8L872.5 413.6L872.7 413.9L872.9 414.3L873.1 412.7L873.3 413.8L873.5 412.7L873.7 412.4L873.9 413.5L874.1 414.4L874.3 413.1L874.5 415.1L874.7 415.5L875.0 415.8L875.2 418.8L875.4 419.6L875.6 417.8L875.8 421.6L876.0 423.8L876.2 424.7L876.4 426.6L876.6 428.9L876.8 430.0L877.0 431.6L877.2 433.6L877.4 435.1L877.6 439.3L877.8 441.3L878.0 441.5L878.2 445.0L878.4 445.9L878.6 449.1L878.8 453.2L879.0 453.9L879.2 457.9L879.4 459.3L879.6 461.0L879.8 462.9L880.0 467.4L880.2 469.4L880.4 472.3L880.6 474.5L880.8 480.1L881.0 480.7L881.2 482.5L881.4 484.7L881.6 488.1L881.8 488.9L882.0 490.5L882.2 494.4L882.4 497.8L882.6 501.0L882.8 503.6L883.0 505.6L883.2 508.2L883.4 512.8L883.6 516.0L883.8 518.6L884.0 519.7L884.2 523.0L884.4 525.6L884.6 528.0L884.8 530.6L885.0 533.4L885.2 536.7L885.4 538.6L885.6 540.2L885.8 542.1L886.0 545.0L886.2 547.0L886.4 547.4L886.6 551.0L886.8 552.2L887.0 554.5L887.2 556.6L887.4 558.8L887.6 559.5L887.9 561.1L888.1 561.0L888.3 564.0L888.5 564.5L888.7 564.7L888.9 566.4L889.1 566.7L889.3 567.2L889.5 570.2L889.7 569.7L889.9 570.7L890.1 569.0L890.3 570.7L890.5 570.3L890.7 569.4L890.9 571.3L891.1 570.8L891.3 570.4L891.5 570.7L891.7 569.0L891.9 569.0L892.1 568.3L892.3 568.5L892.5 568.1L892.7 567.3L892.9 566.4L893.1 566.5L893.3 563.6L893.5 562.0L893.7 561.5L893.9 560.5L894.1 558.6L894.3 556.9L894.5 555.2L894.7 552.2L894.9 552.8L895.1 549.8L895.3 547.6L895.5 546.2L895.7 544.4L895.9 542.9L896.1 540.3L896.3 536.9L896.5 533.9L896.7 533.4L896.9 529.9L897.1 527.4L897.3 524.4L897.5 522.4L897.7 519.6L897.9 516.5L898.1 515.6L898.3 511.7L898.5 510.4L898.7 507.7L898.9 503.8L899.1 501.4L899.3 496.5L899.5 492.9L899.7 491.4L899.9 489.3L900.1 487.2L900.3 484.9L900.6 482.1L900.8 479.4L901.0 477.6L901.2 475.3L901.4 472.5L901.6 468.7L901.8 467.2L902.0 462.9L902.2 461.8L902.4 457.8L902.6 457.5L902.8 454.5L903.0 450.9L903.2 448.4L903.4 446.6L903.6 442.3L903.8 441.7L904.0 439.2L904.2 437.8L904.4 433.7L904.6 432.3L904.8 430.8L905.0 430.7L905.2 427.1L905.4 426.1L905.6 423.7L905.8 421.7L906.0 421.8L906.2 419.6L906.4 417.8L906.6 417.3L906.8 416.7L907.0 416.4L907.2 415.3L907.4 415.2L907.6 412.6L907.8 412.9L908.0 413.8L908.2 412.5L908.4 413.5L908.6 415.3L908.8 411.5L909.0 411.8L909.2 414.5L909.4 414.3L909.6 414.1L909.8 415.3L910.0 416.6L910.2 417.2L910.4 418.0L910.6 419.5L910.8 420.0L911.0 421.8L911.2 423.7L911.4 424.6L911.6 427.8L911.8 426.8L912.0 431.4L912.2 431.9L912.4 433.5L912.6 435.5L912.8 437.8L913.0 439.2L913.2 443.5L913.5 444.9L913.7 447.2L913.9 450.2L914.1 452.7L914.3 453.6L914.5 457.9L914.7 460.3L914.9 462.7L915.1 465.3L915.3 467.6L915.5 470.5L915.7 472.6L915.9 475.4L916.1 477.7L916.3 479.4L916.5 483.8L916.7 484.0L916.9 488.1L917.1 489.3L917.3 491.5L917.5 495.2L917.7 499.8L917.9 499.7L918.1 504.7L918.3 507.7L918.5 508.9L918.7 512.6L918.9 513.8L919.1 516.8L919.3 520.3L919.5 523.4L919.7 525.5L919.9 529.9L920.1 531.1L920.3 533.5L920.5 536.4L920.7 538.1L920.9 541.9L921.1 542.0L921.3 543.8L921.5 548.1L921.7 548.8L921.9 549.5L922.1 552.3L922.3 555.3L922.5 556.9L922.7 556.9L922.9 557.6L923.1 561.5L923.3 561.9L923.5 563.9L923.7 564.6L923.9 565.1L924.1 566.4L924.3 567.9L924.5 566.2L924.7 568.9L924.9 569.5L925.1 568.9L925.3 570.3L925.5 570.8L925.7 570.0L925.9 571.9L926.2 570.3L926.4 570.0L926.6 570.2L926.8 570.6L927.0 570.1L927.2 571.1L927.4 569.2L927.6 568.2L927.8 567.0L928.0 566.7L928.2 566.3L928.4 565.6L928.6 563.8L928.8 562.5L929.0 560.3L929.2 559.9L929.4 558.9L929.6 557.0L929.8 555.7L930.0 553.8L930.2 553.7L930.4 551.3L930.6 549.0L930.8 545.6L931.0 544.0L931.2 541.6L931.4 538.5L931.6 538.2L931.8 533.9L932.0 532.2L932.2 530.7L932.4 526.3L932.6 526.2L932.8 523.3L933.0 519.9L933.2 516.6L933.4 514.4L933.6 513.2L933.8 508.8L934.0 505.7L934.2 500.5L934.4 498.5L934.6 496.5L934.8 494.3L935.0 490.6L935.2 489.9L935.4 486.5L935.6 484.1L935.8 482.3L936.0 479.2L936.2 477.2L936.4 474.8L936.6 470.4L936.8 468.6L937.0 466.8L937.2 464.5L937.4 461.1L937.6 458.2L937.8 455.4L938.0 452.3L938.2 450.7L938.4 449.5L938.6 444.4L938.8 442.8L939.1 440.8L939.3 438.1L939.5 438.3L939.7 435.2L939.9 433.3L940.1 429.9L940.3 430.0L940.5 427.5L940.7 424.2L940.9 423.3L941.1 422.7L941.3 419.3L941.5 420.8L941.7 418.0L941.9 417.5L942.1 415.9L942.3 415.7L942.5 415.4L942.7 413.8L942.9 414.6L943.1 412.5L943.3 413.0L943.5 411.7L943.7 412.8L943.9 413.0L944.1 412.2L944.3 411.8L944.5 415.0L944.7 413.6L944.9 413.8L945.1 416.3L945.3 416.7L945.5 416.3L945.7 418.7L945.9 419.7L946.1 418.9L946.3 422.6L946.5 424.0L946.7 426.8L946.9 427.5L947.1 429.3L947.3 428.7L947.5 431.0L947.7 435.2L947.9 434.5L948.1 437.7L948.3 440.7L948.5 442.2L948.7 444.9L948.9 448.3L949.1 451.6L949.3 453.3L949.5 455.1L949.7 457.9L949.9 460.9L950.1 462.0L950.3 466.4L950.5 467.3L950.7 471.1L950.9 473.2L951.1 476.9L951.3 478.4L951.5 481.6L951.7 484.9L952.0 485.8L952.2 488.1L952.4 489.4L952.6 491.8L952.8 496.2L953.0 499.0L953.2 503.6L953.4 505.4L953.6 506.3L953.8 508.9L954.0 512.4L954.2 515.6L954.4 518.1L954.6 520.9L954.8 525.4L955.0 527.3L955.2 528.0L955.4 530.5L955.6 533.8L955.8 536.6L956.0 539.0L956.2 541.4L956.4 543.9L956.6 546.8L956.8 547.1L957.0 549.6L957.2 551.3L957.4 551.4L957.6 554.1L957.8 556.9L958.0 557.4L958.2 560.7L958.4 559.9L958.6 561.9L958.8 563.5L959.0 564.0L959.2 564.3L959.4 566.9L959.6 568.2L959.8 566.3L960.0 568.8L960.2 568.2L960.4 570.5L960.6 570.0L960.8 571.2L961.0 570.3L961.2 571.2L961.4 571.6L961.6 569.6L961.8 570.4L962.0 572.2L962.2 570.3L962.4 570.4L962.6 570.1L962.8 568.9L963.0 568.0L963.2 566.7L963.4 566.5L963.6 566.4L963.8 564.1L964.0 561.7L964.2 562.3L964.4 559.2L964.7 557.9L964.9 557.1L965.1 554.8L965.3 554.0L965.5 551.9L965.7 550.6L965.9 547.4L966.1 544.6L966.3 544.2L966.5 540.5L966.7 541.1L966.9 537.8L967.1 535.5L967.3 530.7L967.5 530.3L967.7 526.6L967.9 526.4L968.1 521.9L968.3 518.9L968.5 516.7L968.7 516.2L968.9 510.9L969.1 507.5L969.3 504.1L969.5 502.0L969.7 500.8L969.9 496.4L970.1 492.2L970.3 491.4L970.5 488.2L970.7 486.8L970.9 484.0L971.1 481.0L971.3 479.8L971.5 474.1L971.7 473.9L971.9 471.1L972.1 469.5L972.3 466.1L972.5 463.8L972.7 462.2L972.9 459.7L973.1 455.5L973.3 453.3L973.5 453.1L973.7 450.2L973.9 446.1L974.1 443.6L974.3 440.7L974.5 440.0L974.7 436.3L974.9 434.9L975.1 433.1L975.3 430.8L975.5 427.9L975.7 426.5L975.9 424.5L976.1 424.3L976.3 422.5L976.5 421.8L976.7 420.0L976.9 418.6L977.1 417.6L977.3 415.6L977.6 415.0L977.8 413.9L978.0 413.8L978.2 412.4L978.4 412.9L978.6 411.8L978.8 412.0L979.0 411.8L979.2 412.5L979.4 413.7L979.6 414.2L979.8 411.6L980.0 413.5L980.2 414.1L980.4 415.4L980.6 416.5L980.8 414.5L981.0 419.1L981.2 419.4L981.4 420.6L981.6 423.0L981.8 424.6L982.0 425.7L982.2 427.1L982.4 428.9L982.6 429.7L982.8 433.4L983.0 434.0L983.2 435.2L983.4 437.8L983.6 441.8L983.8 445.7" stroke="#f0f" stroke-width="0.8" fill="none" stroke-linejoin="round" opacity="0.75"/>
<path d="M701.8 467.1L702.0 468.6L702.2 471.2L702.4 470.0L702.6 473.4L702.8 474.0L703.0 476.7L703.2 476.2L703.4 478.4L703.6 479.8L703.8 479.0L704.0 481.4L704.2 484.9L704.4 483.3L704.6 484.4L704.8 487.7L705.0 488.3L705.2 488.9L705.4 490.4L705.6 490.9L705.8 491.2L706.0 494.3L706.2 492.5L706.4 497.5L706.6 498.8L706.8 497.0L707.0 497.8L707.2 502.2L707.4 503.8L707.6 506.3L707.8 504.8L708.0 507.3L708.3 509.8L708.5 509.5L708.7 509.4L708.9 511.5L709.1 510.7L709.3 513.1L709.5 515.1L709.7 516.8L709.9 517.1L710.1 517.2L710.3 518.6L710.5 519.3L710.7 521.2L710.9 521.4L711.1 521.6L711.3 524.1L711.5 526.3L711.7 523.1L711.9 525.2L712.1 527.1L712.3 526.8L712.5 527.9L712.7 530.3L712.9 528.7L713.1 530.7L713.3 528.9L713.5 529.6L713.7 528.3L713.9 530.1L714.1 529.6L714.3 530.5L714.5 530.7L714.7 532.0L714.9 528.9L715.1 529.8L715.3 530.6L715.5 529.4L715.7 530.0L715.9 530.1L716.1 528.6L716.3 526.9L716.5 528.4L716.7 529.4L716.9 527.9L717.1 524.3L717.3 527.0L717.5 523.8L717.7 525.0L717.9 523.0L718.1 523.3L718.3 524.4L718.5 522.1L718.7 517.9L718.9 519.9L719.1 518.1L719.3 518.2L719.5 517.0L719.7 515.3L719.9 514.0L720.1 510.7L720.3 512.4L720.5 511.5L720.7 510.9L720.9 510.5L721.2 509.6L721.4 505.4L721.6 507.3L721.8 501.8L722.0 501.2L722.2 501.3L722.4 501.0L722.6 498.1L722.8 496.6L723.0 493.8L723.2 494.6L723.4 492.6L723.6 491.2L723.8 490.4L724.0 489.8L724.2 490.1L724.4 488.8L724.6 486.3L724.8 484.5L725.0 481.7L725.2 478.7L725.4 478.2L725.6 478.7L725.8 475.5L726.0 476.8L726.2 476.0L726.4 471.2L726.6 474.3L726.8 472.2L727.0 470.8L727.2 467.4L727.4 468.9L727.6 466.1L727.8 466.5L728.0 466.5L728.2 463.6L728.4 462.7L728.6 463.5L728.8 462.2L729.0 461.2L729.2 458.1L729.4 458.0L729.6 457.6L729.8 456.6L730.0 457.2L730.2 455.4L730.4 456.3L730.6 456.7L730.8 455.5L731.0 454.0L731.2 453.8L731.4 452.3L731.6 455.6L731.8 453.6L732.0 452.7L732.2 454.5L732.4 452.9L732.6 453.9L732.8 454.9L733.0 452.2L733.2 455.7L733.4 453.0L733.6 455.2L733.9 456.3L734.1 456.7L734.3 457.0L734.5 457.7L734.7 456.9L734.9 460.3L735.1 457.1L735.3 458.4L735.5 458.5L735.7 462.4L735.9 465.0L736.1 463.8L736.3 464.2L736.5 464.6L736.7 466.7L736.9 467.3L737.1 468.1L737.3 471.4L737.5 468.3L737.7 473.2L737.9 472.7L738.1 472.8L738.3 476.5L738.5 476.7L738.7 475.9L738.9 479.6L739.1 479.2L739.3 481.4L739.5 482.8L739.7 483.4L739.9 485.9L740.1 487.0L740.3 486.7L740.5 488.8L740.7 489.5L740.9 492.7L741.1 492.2L741.3 492.3L741.5 494.2L741.7 496.4L741.9 498.9L742.1 500.4L742.3 500.5L742.5 500.6L742.7 503.7L742.9 503.4L743.1 506.8L743.3 506.1L743.5 510.2L743.7 509.9L743.9 512.7L744.1 511.6L744.3 512.9L744.5 516.0L744.7 516.8L744.9 517.4L745.1 519.8L745.3 520.1L745.5 520.9L745.7 519.7L745.9 519.8L746.1 523.0L746.3 523.6L746.5 523.7L746.8 525.4L747.0 525.7L747.2 524.9L747.4 526.3L747.6 527.3L747.8 528.4L748.0 526.2L748.2 529.3L748.4 528.7L748.6 530.5L748.8 530.2L749.0 529.6L749.2 530.4L749.4 529.4L749.6 530.0L749.8 531.9L750.0 533.1L750.2 528.8L750.4 530.8L750.6 528.0L750.8 529.7L751.0 530.4L751.2 528.4L751.4 529.2L751.6 528.4L751.8 529.2L752.0 526.7L752.2 525.6L752.4 527.1L752.6 523.6L752.8 526.0L753.0 524.2L753.2 525.9L753.4 525.5L753.6 519.6L753.8 519.6L754.0 519.1L754.2 521.8L754.4 518.4L754.6 517.1L754.8 516.5L755.0 515.2L755.2 515.7L755.4 513.6L755.6 513.7L755.8 511.5L756.0 509.4L756.2 509.6L756.4 507.7L756.6 506.6L756.8 504.8L757.0 502.3L757.2 501.8L757.4 500.2L757.6 501.2L757.8 498.4L758.0 495.4L758.2 496.1L758.4 494.0L758.6 493.1L758.8 489.2L759.0 490.5L759.2 489.8L759.4 486.9L759.7 485.1L759.9 484.7L760.1 482.8L760.3 482.5L760.5 481.7L760.7 480.8L760.9 479.6L761.1 478.5L761.3 476.0L761.5 475.3L761.7 473.8L761.9 472.0L762.1 471.6L762.3 472.1L762.5 470.2L762.7 469.5L762.9 469.4L763.1 465.7L763.3 466.3L763.5 465.4L763.7 464.2L763.9 460.7L764.1 461.3L764.3 458.8L764.5 459.4L764.7 459.1L764.9 457.1L765.1 456.4L765.3 456.4L765.5 457.3L765.7 456.0L765.9 456.5L766.1 454.9L766.3 454.1L766.5 452.0L766.7 451.8L766.9 452.6L767.1 452.1L767.3 452.9L767.5 449.7L767.7 451.3L767.9 450.0L768.1 453.0L768.3 453.2L768.5 452.6L768.7 454.1L768.9 454.3L769.1 456.4L769.3 454.4L769.5 456.0L769.7 455.7L769.9 457.6L770.1 460.3L770.3 458.1L770.5 458.1L770.7 462.0L770.9 462.5L771.1 462.6L771.3 463.4L771.5 466.3L771.7 462.9L771.9 464.9L772.1 468.1L772.4 470.7L772.6 469.1L772.8 468.2L773.0 470.9L773.2 471.7L773.4 475.6L773.6 475.3L773.8 478.8L774.0 475.6L774.2 478.7L774.4 483.4L774.6 484.4L774.8 482.6L775.0 484.3L775.2 486.1L775.4 486.2L775.6 485.5L775.8 488.8L776.0 492.6L776.2 491.5L776.4 494.2L776.6 495.1L776.8 495.1L777.0 497.2L777.2 499.8L777.4 499.9L777.6 502.3L777.8 501.9L778.0 504.2L778.2 504.8L778.4 506.9L778.6 506.9L778.8 509.3L779.0 510.3L779.2 512.2L779.4 512.5L779.6 516.1L779.8 511.5L780.0 516.9L780.2 516.9L780.4 518.7L780.6 519.6L780.8 519.4L781.0 521.5L781.2 522.3L781.4 524.3L781.6 524.5L781.8 525.6L782.0 522.5L782.2 527.2L782.4 527.5L782.6 526.5L782.8 525.4L783.0 529.9L783.2 530.2L783.4 528.4L783.6 528.5L783.8 531.1L784.0 531.9L784.2 531.0L784.4 529.0L784.6 530.1L784.8 529.2L785.0 530.3L785.3 530.2L785.5 529.4L785.7 530.2L785.9 529.6L786.1 530.9L786.3 530.2L786.5 528.5L786.7 529.1L786.9 529.4L787.1 527.2L787.3 526.8L787.5 527.0L787.7 527.4L787.9 524.7L788.1 522.0L788.3 525.6L788.5 525.7L788.7 524.0L788.9 523.4L789.1 523.0L789.3 522.0L789.5 518.4L789.7 517.5L789.9 515.7L790.1 515.6L790.3 516.1L790.5 513.0L790.7 514.1L790.9 512.6L791.1 512.5L791.3 508.2L791.5 507.2L791.7 507.9L791.9 506.4L792.1 504.6L792.3 503.1L792.5 500.9L792.7 500.5L792.9 498.7L793.1 499.7L793.3 496.7L793.5 497.2L793.7 491.1L793.9 489.9L794.1 490.0L794.3 488.4L794.5 486.2L794.7 486.4L794.9 488.5L795.1 485.5L795.3 487.0L795.5 483.7L795.7 483.0L795.9 480.2L796.1 478.4L796.3 478.8L796.5 476.7L796.7 474.7L796.9 474.1L797.1 472.9L797.3 474.5L797.5 470.8L797.7 468.1L798.0 467.6L798.2 468.7L798.4 466.1L798.6 464.4L798.8 464.9L799.0 461.9L799.2 462.8L799.4 461.3L799.6 460.2L799.8 456.4L800.0 458.9L800.2 458.5L800.4 456.2L800.6 457.1L800.8 455.7L801.0 458.3L801.2 454.6L801.4 454.6L801.6 455.9L801.8 452.2L802.0 454.0L802.2 453.7L802.4 455.0L802.6 455.4L802.8 454.0L803.0 455.3L803.2 452.8L803.4 452.5L803.6 454.6L803.8 456.1L804.0 454.9L804.2 456.1L804.4 455.0L804.6 455.5L804.8 456.8L805.0 456.8L805.2 456.2L805.4 456.0L805.6 459.6L805.8 458.8L806.0 460.9L806.2 462.8L806.4 460.7L806.6 462.8L806.8 464.1L807.0 464.9L807.2 466.6L807.4 468.8L807.6 466.3L807.8 468.6L808.0 470.6L808.2 470.9L808.4 471.7L808.6 474.9L808.8 475.1L809.0 477.5L809.2 477.6L809.4 480.0L809.6 477.8L809.8 482.7L810.0 482.8L810.2 484.1L810.4 486.4L810.6 485.9L810.9 488.4L811.1 490.0L811.3 490.5L811.5 492.4L811.7 491.2L811.9 493.5L812.1 494.5L812.3 499.0L812.5 498.3L812.7 501.1L812.9 501.3L813.1 501.2L813.3 503.8L813.5 505.7L813.7 505.3L813.9 506.7L814.1 506.9L814.3 512.9L814.5 511.3L814.7 513.4L814.9 515.1L815.1 514.9L815.3 517.7L815.5 520.1L815.7 519.4L815.9 519.5L816.1 517.7L816.3 521.9L816.5 523.4L816.7 525.2L816.9 523.9L817.1 524.5L817.3 524.8L817.5 527.5L817.7 527.2L817.9 529.7L818.1 527.1L818.3 529.9L818.5 531.8L818.7 527.2L818.9 528.4L819.1 528.9L819.3 529.2L819.5 531.2L819.7 528.6L819.9 531.5L820.1 527.8L820.3 530.0L820.5 532.6L820.7 529.0L820.9 527.5L821.1 530.2L821.3 528.3L821.5 529.7L821.7 529.9L821.9 532.1L822.1 526.8L822.3 528.5L822.5 527.0L822.7 528.4L822.9 527.6L823.1 524.4L823.3 525.6L823.5 525.0L823.8 525.3L824.0 522.7L824.2 521.1L824.4 521.8L824.6 520.6L824.8 521.0L825.0 516.7L825.2 518.3L825.4 516.6L825.6 513.2L825.8 514.6L826.0 515.2L826.2 513.2L826.4 511.3L826.6 507.3L826.8 508.1L827.0 507.4L827.2 504.8L827.4 502.8L827.6 504.2L827.8 500.0L828.0 499.3L828.2 498.5L828.4 500.7L828.6 495.9L828.8 492.9L829.0 493.5L829.2 488.7L829.4 490.7L829.6 491.0L829.8 487.9L830.0 487.1L830.2 485.2L830.4 485.3L830.6 482.1L830.8 483.3L831.0 481.1L831.2 481.6L831.4 479.8L831.6 477.2L831.8 477.0L832.0 475.5L832.2 474.0L832.4 472.1L832.6 470.3L832.8 469.1L833.0 467.6L833.2 467.5L833.4 467.4L833.6 467.7L833.8 465.0L834.0 464.6L834.2 464.9L834.4 459.5L834.6 463.2L834.8 459.5L835.0 458.4L835.2 458.7L835.4 454.3L835.6 457.0L835.8 457.4L836.0 453.6L836.2 456.4L836.5 456.7L836.7 455.8L836.9 455.0L837.1 453.8L837.3 453.2L837.5 455.4L837.7 452.9L837.9 450.4L838.1 454.2L838.3 453.5L838.5 452.5L838.7 452.0L838.9 454.7L839.1 455.3L839.3 455.7L839.5 453.4L839.7 454.1L839.9 458.6L840.1 459.1L840.3 458.5L840.5 459.5L840.7 457.7L840.9 458.7L841.1 457.2L841.3 459.6L841.5 461.4L841.7 460.9L841.9 464.6L842.1 466.2L842.3 465.4L842.5 465.3L842.7 469.7L842.9 467.6L843.1 468.8L843.3 471.7L843.5 472.1L843.7 473.9L843.9 474.6L844.1 474.9L844.3 478.3L844.5 477.2L844.7 478.7L844.9 479.9L845.1 484.9L845.3 486.0L845.5 483.9L845.7 486.8L845.9 488.2L846.1 489.4L846.3 491.3L846.5 491.0L846.7 492.5L846.9 493.8L847.1 493.8L847.3 497.5L847.5 495.9L847.7 501.7L847.9 496.9L848.1 503.4L848.3 502.2L848.5 503.1L848.7 505.6L848.9 505.9L849.1 508.3L849.4 511.7L849.6 510.2L849.8 510.3L850.0 513.7L850.2 516.3L850.4 516.0L850.6 515.8L850.8 516.9L851.0 516.9L851.2 518.5L851.4 519.5L851.6 523.7L851.8 519.1L852.0 522.7L852.2 522.4L852.4 524.8L852.6 525.2L852.8 525.6L853.0 524.2L853.2 524.9L853.4 526.6L853.6 525.3L853.8 528.8L854.0 528.0L854.2 529.7L854.4 527.7L854.6 529.6L854.8 528.6L855.0 527.7L855.2 532.8L855.4 527.3L855.6 529.8L855.8 530.6L856.0 532.6L856.2 530.4L856.4 532.8L856.6 529.5L856.8 529.6L857.0 526.7L857.2 529.1L857.4 526.9L857.6 526.3L857.8 524.7L858.0 527.2L858.2 525.3L858.4 527.7L858.6 526.5L858.8 524.7L859.0 523.6L859.2 524.4L859.4 522.5L859.6 520.2L859.8 520.8L860.0 519.5L860.2 519.5L860.4 515.5L860.6 513.9L860.8 514.9L861.0 514.3L861.2 510.8L861.4 511.2L861.6 511.5L861.8 511.2L862.1 509.0L862.3 504.0L862.5 506.4L862.7 500.5L862.9 503.0L863.1 501.9L863.3 498.5L863.5 499.2L863.7 496.9L863.9 497.3L864.1 496.1L864.3 493.9L864.5 491.2L864.7 491.5L864.9 492.1L865.1 487.8L865.3 487.5L865.5 486.4L865.7 485.7L865.9 486.6L866.1 480.3L866.3 481.7L866.5 479.1L866.7 476.7L866.9 475.8L867.1 475.7L867.3 474.7L867.5 473.1L867.7 471.1L867.9 470.3L868.1 470.5L868.3 468.2L868.5 467.1L868.7 465.6L868.9 465.2L869.1 462.6L869.3 463.1L869.5 461.3L869.7 461.5L869.9 461.4L870.1 461.0L870.3 459.2L870.5 457.5L870.7 455.9L870.9 457.0L871.1 457.0L871.3 456.4L871.5 453.5L871.7 454.7L871.9 455.1L872.1 453.1L872.3 455.5L872.5 453.4L872.7 453.5L872.9 453.5L873.1 454.8L873.3 451.9L873.5 451.1L873.7 455.2L873.9 453.4L874.1 453.0L874.3 451.1L874.5 455.0L874.7 456.1L875.0 455.3L875.2 453.1L875.4 456.3L875.6 456.6L875.8 455.3L876.0 461.1L876.2 461.9L876.4 458.7L876.6 459.7L876.8 463.4L877.0 461.9L877.2 463.4L877.4 464.2L877.6 466.6L877.8 467.2L878.0 468.9L878.2 468.8L878.4 470.3L878.6 469.0L878.8 471.6L879.0 475.7L879.2 474.3L879.4 474.2L879.6 477.0L879.8 477.2L880.0 480.0L880.2 480.3L880.4 483.7L880.6 482.7L880.8 486.8L881.0 484.5L881.2 489.4L881.4 491.3L881.6 489.0L881.8 490.9L882.0 491.4L882.2 492.5L882.4 494.6L882.6 497.2L882.8 497.3L883.0 498.5L883.2 499.7L883.4 499.1L883.6 504.1L883.8 504.3L884.0 505.0L884.2 507.6L884.4 509.9L884.6 510.3L884.8 509.3L885.0 512.3L885.2 512.3L885.4 515.2L885.6 514.7L885.8 517.3L886.0 518.5L886.2 518.3L886.4 519.3L886.6 518.4L886.8 523.3L887.0 521.4L887.2 520.7L887.4 521.8L887.6 524.9L887.9 526.0L888.1 526.4L888.3 525.9L888.5 526.6L888.7 527.0L888.9 527.1L889.1 529.7L889.3 530.2L889.5 530.7L889.7 531.1L889.9 529.8L890.1 529.4L890.3 526.7L890.5 529.4L890.7 530.1L890.9 528.3L891.1 531.1L891.3 529.6L891.5 528.7L891.7 528.8L891.9 529.0L892.1 529.8L892.3 530.6L892.5 528.8L892.7 529.0L892.9 526.9L893.1 527.5L893.3 526.0L893.5 528.3L893.7 524.3L893.9 526.0L894.1 526.3L894.3 525.3L894.5 523.5L894.7 520.4L894.9 520.1L895.1 521.6L895.3 519.0L895.5 518.3L895.7 519.2L895.9 517.4L896.1 517.7L896.3 515.1L896.5 516.3L896.7 512.7L896.9 511.7L897.1 510.3L897.3 509.1L897.5 505.2L897.7 505.9L897.9 503.8L898.1 501.8L898.3 500.3L898.5 499.2L898.7 499.4L898.9 498.7L899.1 496.8L899.3 494.9L899.5 492.7L899.7 491.5L899.9 489.0L900.1 489.6L900.3 485.9L900.6 485.8L900.8 486.6L901.0 483.6L901.2 487.2L901.4 480.4L901.6 480.4L901.8 479.1L902.0 480.6L902.2 473.8L902.4 476.2L902.6 474.8L902.8 471.9L903.0 472.4L903.2 472.1L903.4 468.9L903.6 469.9L903.8 466.5L904.0 466.2L904.2 463.8L904.4 465.9L904.6 461.6L904.8 461.9L905.0 458.8L905.2 461.4L905.4 457.3L905.6 458.0L905.8 457.1L906.0 458.4L906.2 456.1L906.4 455.3L906.6 456.8L906.8 456.7L907.0 455.8L907.2 452.4L907.4 453.8L907.6 452.5L907.8 453.2L908.0 453.2L908.2 453.0L908.4 453.8L908.6 451.6L908.8 453.1L909.0 453.1L909.2 455.4L909.4 453.4L909.6 455.0L909.8 455.1L910.0 453.5L910.2 456.8L910.4 456.1L910.6 455.6L910.8 455.5L911.0 458.4L911.2 458.0L911.4 458.8L911.6 461.5L911.8 463.6L912.0 464.2L912.2 461.9L912.4 463.5L912.6 466.4L912.8 466.5L913.0 467.3L913.2 468.3L913.5 469.0L913.7 467.3L913.9 472.4L914.1 472.4L914.3 474.8L914.5 475.8L914.7 477.4L914.9 477.8L915.1 479.5L915.3 479.6L915.5 481.1L915.7 483.8L915.9 481.4L916.1 486.7L916.3 485.9L916.5 484.7L916.7 489.6L916.9 488.1L917.1 489.0L917.3 491.2L917.5 495.7L917.7 492.9L917.9 496.1L918.1 498.4L918.3 497.5L918.5 501.5L918.7 500.5L918.9 504.0L919.1 503.9L919.3 507.3L919.5 507.7L919.7 509.6L919.9 510.6L920.1 510.6L920.3 512.3L920.5 513.0L920.7 512.7L920.9 515.6L921.1 518.9L921.3 517.9L921.5 518.4L921.7 518.1L921.9 519.1L922.1 520.0L922.3 522.4L922.5 522.1L922.7 525.6L922.9 522.8L923.1 524.6L923.3 525.1L923.5 526.9L923.7 526.9L923.9 528.4L924.1 527.2L924.3 530.1L924.5 527.5L924.7 528.4L924.9 526.8L925.1 529.7L925.3 530.0L925.5 529.8L925.7 530.1L925.9 530.3L926.2 531.6L926.4 531.6L926.6 530.8L926.8 530.3L927.0 531.3L927.2 531.1L927.4 529.6L927.6 528.0L927.8 528.8L928.0 527.3L928.2 526.5L928.4 526.2L928.6 527.3L928.8 526.7L929.0 527.9L929.2 525.7L929.4 523.5L929.6 524.8L929.8 520.8L930.0 519.9L930.2 521.4L930.4 518.8L930.6 520.9L930.8 519.4L931.0 517.5L931.2 516.0L931.4 515.2L931.6 515.0L931.8 510.1L932.0 511.1L932.2 510.0L932.4 508.2L932.6 507.6L932.8 506.9L933.0 506.0L933.2 506.1L933.4 500.7L933.6 502.5L933.8 502.1L934.0 499.5L934.2 499.1L934.4 493.0L934.6 493.6L934.8 490.7L935.0 489.4L935.2 489.6L935.4 488.5L935.6 489.1L935.8 487.1L936.0 486.6L936.2 484.5L936.4 484.2L936.6 480.4L936.8 479.8L937.0 479.6L937.2 480.4L937.4 476.0L937.6 474.5L937.8 474.5L938.0 474.9L938.2 471.4L938.4 469.4L938.6 472.1L938.8 467.7L939.1 469.7L939.3 466.1L939.5 462.9L939.7 464.0L939.9 462.5L940.1 462.6L940.3 461.3L940.5 457.3L940.7 457.8L940.9 459.2L941.1 458.6L941.3 457.4L941.5 453.9L941.7 455.9L941.9 454.2L942.1 455.6L942.3 456.4L942.5 452.6L942.7 454.1L942.9 454.8L943.1 454.4L943.3 454.2L943.5 454.1L943.7 455.2L943.9 451.7L944.1 452.8L944.3 452.2L944.5 454.1L944.7 453.4L944.9 454.0L945.1 453.0L945.3 453.9L945.5 454.9L945.7 456.8L945.9 458.1L946.1 458.2L946.3 458.6L946.5 459.2L946.7 460.9L946.9 457.9L947.1 460.6L947.3 464.5L947.5 464.2L947.7 465.5L947.9 464.4L948.1 464.4L948.3 468.2L948.5 467.2L948.7 469.5L948.9 468.8L949.1 469.7L949.3 472.3L949.5 473.0L949.7 475.2L949.9 476.9L950.1 479.2L950.3 478.5L950.5 480.3L950.7 482.0L950.9 482.9L951.1 484.3L951.3 486.6L951.5 487.2L951.7 486.2L952.0 489.1L952.2 488.1L952.4 492.4L952.6 493.6L952.8 493.3L953.0 494.0L953.2 497.3L953.4 497.1L953.6 498.1L953.8 499.3L954.0 502.2L954.2 503.5L954.4 506.9L954.6 506.0L954.8 507.0L955.0 506.8L955.2 511.5L955.4 512.1L955.6 513.5L955.8 512.2L956.0 517.8L956.2 517.0L956.4 514.0L956.6 516.8L956.8 520.4L957.0 519.7L957.2 519.4L957.4 520.7L957.6 522.5L957.8 524.1L958.0 522.7L958.2 524.6L958.4 524.2L958.6 525.4L958.8 527.1L959.0 525.2L959.2 528.2L959.4 527.5L959.6 529.3L959.8 529.1L960.0 529.5L960.2 530.3L960.4 529.4L960.6 528.2L960.8 527.6L961.0 528.3L961.2 530.4L961.4 528.3L961.6 529.6L961.8 527.7L962.0 531.6L962.2 527.8L962.4 530.3L962.6 527.7L962.8 529.5L963.0 527.4L963.2 528.5L963.4 530.1L963.6 528.4L963.8 526.9L964.0 526.0L964.2 528.3L964.4 526.3L964.7 525.0L964.9 523.5L965.1 522.2L965.3 522.7L965.5 522.7L965.7 519.5L965.9 519.3L966.1 516.8L966.3 517.6L966.5 515.0L966.7 515.9L966.9 513.3L967.1 512.4L967.3 510.8L967.5 511.4L967.7 509.1L967.9 508.8L968.1 506.6L968.3 504.3L968.5 499.9L968.7 502.4L968.9 500.2L969.1 499.6L969.3 496.8L969.5 496.3L969.7 494.0L969.9 493.4L970.1 489.2L970.3 489.4L970.5 492.4L970.7 488.8L970.9 487.9L971.1 489.7L971.3 486.7L971.5 485.0L971.7 484.1L971.9 481.7L972.1 482.9L972.3 478.4L972.5 477.0L972.7 476.3L972.9 475.9L973.1 474.3L973.3 473.6L973.5 470.4L973.7 470.0L973.9 466.9L974.1 468.8L974.3 465.3L974.5 466.8L974.7 465.3L974.9 465.4L975.1 462.4L975.3 462.2L975.5 460.4L975.7 458.4L975.9 459.6L976.1 458.2L976.3 456.8L976.5 457.4L976.7 457.4L976.9 455.6L977.1 454.9L977.3 454.1L977.6 453.6L977.8 455.1L978.0 453.4L978.2 452.1L978.4 454.1L978.6 452.9L978.8 454.0L979.0 453.0L979.2 451.0L979.4 453.1L979.6 454.7L979.8 453.2L980.0 453.6L980.2 452.8L980.4 456.3L980.6 456.2L980.8 455.6L981.0 458.0L981.2 455.1L981.4 459.8L981.6 458.9L981.8 460.5L982.0 460.2L982.2 459.1L982.4 460.3L982.6 460.7L982.8 462.1L983.0 466.5L983.2 464.5L983.4 468.3L983.6 467.7L983.8 468.6" stroke="#1414ff" stroke-width="5.2" fill="none" stroke-linejoin="round" stroke-dasharray="1.2 0.7"/>
<path d="M701.8 467.8L702.0 467.4L702.2 470.6L702.4 468.0L702.6 470.9L702.8 471.3L703.0 473.3L703.2 474.4L703.4 477.1L703.6 475.4L703.8 481.3L704.0 480.3L704.2 482.3L704.4 483.9L704.6 484.4L704.8 487.3L705.0 486.1L705.2 487.4L705.4 489.5L705.6 489.6L705.8 493.4L706.0 496.2L706.2 495.9L706.4 496.9L706.6 494.2L706.8 499.8L707.0 499.4L707.2 501.1L707.4 500.5L707.6 504.9L707.8 505.5L708.0 508.1L708.3 510.4L708.5 511.9L708.7 512.8L708.9 510.7L709.1 513.6L709.3 515.4L709.5 516.3L709.7 518.3L709.9 518.5L710.1 519.5L710.3 519.5L710.5 520.0L710.7 524.8L710.9 522.9L711.1 521.9L711.3 526.4L711.5 526.0L711.7 526.0L711.9 525.3L712.1 526.7L712.3 528.5L712.5 527.9L712.7 527.6L712.9 529.0L713.1 527.1L713.3 529.7L713.5 532.2L713.7 532.0L713.9 531.2L714.1 531.5L714.3 530.3L714.5 530.8L714.7 528.7L714.9 530.1L715.1 528.9L715.3 532.2L715.5 531.5L715.7 529.6L715.9 530.2L716.1 529.0L716.3 529.2L716.5 530.1L716.7 526.1L716.9 526.4L717.1 529.9L717.3 527.9L717.5 526.3L717.7 524.6L717.9 524.9L718.1 526.1L718.3 522.0L718.5 522.7L718.7 519.6L718.9 520.0L719.1 518.0L719.3 517.2L719.5 516.1L719.7 517.1L719.9 513.6L720.1 513.7L720.3 514.8L720.5 512.2L720.7 510.9L720.9 508.4L721.2 506.8L721.4 508.2L721.6 504.0L721.8 503.9L722.0 504.0L722.2 499.7L722.4 500.7L722.6 499.8L722.8 495.4L723.0 493.7L723.2 494.4L723.4 490.2L723.6 489.2L723.8 490.5L724.0 485.6L724.2 487.5L724.4 485.8L724.6 488.5L724.8 482.6L725.0 483.2L725.2 480.3L725.4 482.3L725.6 476.6L725.8 474.8L726.0 472.9L726.2 478.9L726.4 472.2L726.6 471.3L726.8 475.2L727.0 470.5L727.2 468.3L727.4 464.8L727.6 467.0L727.8 464.3L728.0 463.6L728.2 462.0L728.4 462.1L728.6 459.2L728.8 458.1L729.0 460.7L729.2 456.1L729.4 458.1L729.6 456.7L729.8 453.9L730.0 454.8L730.2 453.4L730.4 452.6L730.6 452.4L730.8 453.6L731.0 453.9L731.2 451.1L731.4 450.7L731.6 451.1L731.8 451.8L732.0 450.1L732.2 451.4L732.4 453.5L732.6 451.1L732.8 450.9L733.0 450.7L733.2 453.5L733.4 453.6L733.6 452.4L733.9 454.0L734.1 453.9L734.3 452.9L734.5 454.3L734.7 452.8L734.9 455.9L735.1 454.5L735.3 456.3L735.5 454.9L735.7 459.6L735.9 460.7L736.1 459.6L736.3 463.3L736.5 464.3L736.7 464.3L736.9 465.3L737.1 469.1L737.3 467.8L737.5 469.9L737.7 470.7L737.9 471.6L738.1 473.5L738.3 472.8L738.5 475.0L738.7 477.4L738.9 478.3L739.1 478.1L739.3 479.8L739.5 480.4L739.7 483.8L739.9 484.7L740.1 483.1L740.3 487.5L740.5 486.0L740.7 488.4L740.9 491.4L741.1 494.0L741.3 492.5L741.5 496.1L741.7 497.6L741.9 500.7L742.1 497.7L742.3 500.8L742.5 502.3L742.7 503.2L742.9 504.8L743.1 506.4L743.3 507.0L743.5 509.5L743.7 514.3L743.9 510.5L744.1 512.2L744.3 514.0L744.5 512.8L744.7 518.4L744.9 521.8L745.1 516.2L745.3 518.8L745.5 522.9L745.7 522.0L745.9 521.4L746.1 525.0L746.3 523.2L746.5 521.6L746.8 523.4L747.0 526.3L747.2 526.4L747.4 528.9L747.6 527.9L747.8 529.1L748.0 530.5L748.2 531.5L748.4 527.0L748.6 530.1L748.8 532.0L749.0 531.4L749.2 528.7L749.4 528.6L749.6 532.1L749.8 530.9L750.0 529.8L750.2 531.7L750.4 532.8L750.6 532.3L750.8 530.7L751.0 531.6L751.2 532.1L751.4 530.1L751.6 528.0L751.8 527.9L752.0 528.8L752.2 525.1L752.4 528.5L752.6 526.9L752.8 528.1L753.0 524.2L753.2 524.8L753.4 526.3L753.6 524.2L753.8 519.4L754.0 520.1L754.2 520.1L754.4 517.9L754.6 520.6L754.8 518.4L755.0 518.1L755.2 516.2L755.4 514.4L755.6 511.8L755.8 509.9L756.0 508.6L756.2 504.8L756.4 508.3L756.6 506.2L756.8 504.1L757.0 504.7L757.2 502.5L757.4 500.0L757.6 500.5L757.8 497.0L758.0 494.4L758.2 496.4L758.4 496.6L758.6 491.4L758.8 492.1L759.0 489.2L759.2 489.0L759.4 486.7L759.7 484.2L759.9 483.4L760.1 483.9L760.3 483.8L760.5 484.5L760.7 482.7L760.9 479.3L761.1 476.6L761.3 476.5L761.5 475.1L761.7 475.3L761.9 474.1L762.1 473.0L762.3 468.2L762.5 470.9L762.7 465.7L762.9 467.0L763.1 463.7L763.3 463.0L763.5 461.2L763.7 459.6L763.9 461.6L764.1 460.9L764.3 459.2L764.5 458.9L764.7 455.9L764.9 456.4L765.1 455.5L765.3 454.2L765.5 455.0L765.7 452.1L765.9 456.0L766.1 452.5L766.3 451.7L766.5 453.3L766.7 452.9L766.9 450.3L767.1 452.0L767.3 454.4L767.5 453.5L767.7 450.0L767.9 452.9L768.1 449.8L768.3 449.9L768.5 452.6L768.7 451.8L768.9 454.2L769.1 454.0L769.3 455.0L769.5 453.6L769.7 457.0L769.9 456.0L770.1 456.4L770.3 456.5L770.5 461.3L770.7 461.6L770.9 461.2L771.1 461.1L771.3 461.6L771.5 462.5L771.7 460.8L771.9 464.0L772.1 465.2L772.4 468.0L772.6 467.3L772.8 468.6L773.0 469.9L773.2 472.4L773.4 472.5L773.6 472.5L773.8 477.3L774.0 480.6L774.2 477.5L774.4 478.9L774.6 481.7L774.8 483.3L775.0 479.8L775.2 485.9L775.4 488.3L775.6 488.4L775.8 488.1L776.0 490.9L776.2 491.6L776.4 491.8L776.6 494.5L776.8 495.2L777.0 497.0L777.2 500.0L777.4 499.8L777.6 503.1L777.8 501.3L778.0 505.5L778.2 505.9L778.4 509.6L778.6 508.8L778.8 511.3L779.0 508.5L779.2 512.2L779.4 512.4L779.6 517.0L779.8 517.4L780.0 516.9L780.2 519.8L780.4 517.0L780.6 520.4L780.8 520.5L781.0 521.2L781.2 522.8L781.4 522.3L781.6 525.3L781.8 524.5L782.0 524.0L782.2 526.2L782.4 527.0L782.6 528.3L782.8 528.2L783.0 527.8L783.2 529.7L783.4 532.2L783.6 529.9L783.8 530.7L784.0 530.0L784.2 530.9L784.4 528.8L784.6 533.1L784.8 532.8L785.0 530.4L785.3 532.9L785.5 530.8L785.7 531.2L785.9 534.0L786.1 529.8L786.3 528.5L786.5 530.0L786.7 532.0L786.9 528.4L787.1 530.6L787.3 528.8L787.5 527.4L787.7 528.6L787.9 529.4L788.1 526.4L788.3 525.5L788.5 526.0L788.7 525.1L788.9 522.0L789.1 522.3L789.3 522.0L789.5 521.2L789.7 519.1L789.9 518.2L790.1 517.5L790.3 518.2L790.5 515.5L790.7 514.8L790.9 512.5L791.1 509.7L791.3 508.7L791.5 507.9L791.7 507.4L791.9 506.7L792.1 504.4L792.3 504.2L792.5 502.6L792.7 501.9L792.9 499.3L793.1 497.9L793.3 493.5L793.5 493.9L793.7 493.7L793.9 490.3L794.1 491.3L794.3 488.0L794.5 487.2L794.7 482.9L794.9 487.5L795.1 484.8L795.3 483.5L795.5 481.6L795.7 479.7L795.9 480.9L796.1 479.2L796.3 476.4L796.5 474.1L796.7 475.8L796.9 475.2L797.1 469.9L797.3 469.1L797.5 467.5L797.7 469.4L798.0 467.0L798.2 465.3L798.4 463.8L798.6 463.6L798.8 462.4L799.0 459.9L799.2 461.0L799.4 460.2L799.6 459.2L799.8 458.5L800.0 456.7L800.2 456.5L800.4 456.1L800.6 452.8L800.8 453.8L801.0 454.2L801.2 451.4L801.4 453.7L801.6 452.5L801.8 452.3L802.0 452.8L802.2 452.3L802.4 451.5L802.6 453.6L802.8 452.1L803.0 451.2L803.2 451.3L803.4 451.4L803.6 448.7L803.8 451.4L804.0 452.9L804.2 453.3L804.4 453.6L804.6 453.4L804.8 455.1L805.0 453.0L805.2 457.5L805.4 455.7L805.6 456.7L805.8 459.9L806.0 458.2L806.2 459.2L806.4 461.9L806.6 458.6L806.8 461.9L807.0 464.5L807.2 465.8L807.4 467.4L807.6 467.1L807.8 468.6L808.0 471.9L808.2 472.6L808.4 473.4L808.6 474.2L808.8 475.5L809.0 477.2L809.2 476.7L809.4 477.5L809.6 480.1L809.8 484.7L810.0 483.1L810.2 483.3L810.4 485.5L810.6 486.3L810.9 487.7L811.1 491.2L811.3 493.8L811.5 490.3L811.7 493.2L811.9 493.5L812.1 496.1L812.3 497.4L812.5 496.7L812.7 501.8L812.9 501.5L813.1 504.5L813.3 504.2L813.5 505.0L813.7 506.1L813.9 508.1L814.1 511.6L814.3 510.6L814.5 510.9L814.7 511.9L814.9 511.5L815.1 514.9L815.3 518.3L815.5 518.6L815.7 518.8L815.9 518.4L816.1 522.5L816.3 520.5L816.5 521.8L816.7 524.8L816.9 523.5L817.1 526.3L817.3 525.9L817.5 527.0L817.7 526.9L817.9 529.5L818.1 527.7L818.3 532.0L818.5 530.0L818.7 530.6L818.9 527.9L819.1 529.7L819.3 531.5L819.5 532.3L819.7 531.1L819.9 532.2L820.1 528.2L820.3 535.4L820.5 531.3L820.7 534.9L820.9 529.7L821.1 532.2L821.3 528.5L821.5 531.4L821.7 528.7L821.9 529.6L822.1 527.8L822.3 529.0L822.5 532.8L822.7 529.1L822.9 529.7L823.1 525.4L823.3 525.3L823.5 525.4L823.8 524.0L824.0 523.5L824.2 523.8L824.4 519.3L824.6 520.8L824.8 520.5L825.0 521.3L825.2 519.1L825.4 517.1L825.6 516.3L825.8 515.5L826.0 513.8L826.2 514.1L826.4 511.3L826.6 512.2L826.8 510.0L827.0 508.5L827.2 504.8L827.4 504.0L827.6 503.2L827.8 503.6L828.0 501.1L828.2 497.9L828.4 495.8L828.6 498.2L828.8 495.1L829.0 492.8L829.2 490.9L829.4 490.4L829.6 488.4L829.8 490.3L830.0 484.8L830.2 487.4L830.4 484.4L830.6 482.5L830.8 480.2L831.0 479.3L831.2 478.0L831.4 476.1L831.6 476.9L831.8 474.2L832.0 471.8L832.2 473.8L832.4 473.5L832.6 471.7L832.8 466.9L833.0 466.0L833.2 467.1L833.4 465.1L833.6 463.7L833.8 461.7L834.0 464.9L834.2 462.0L834.4 460.6L834.6 458.9L834.8 458.3L835.0 458.1L835.2 456.4L835.4 459.8L835.6 451.0L835.8 453.6L836.0 452.9L836.2 454.6L836.5 452.6L836.7 449.8L836.9 449.8L837.1 452.0L837.3 453.7L837.5 451.5L837.7 452.0L837.9 450.3L838.1 453.4L838.3 451.8L838.5 451.3L838.7 452.5L838.9 450.6L839.1 454.0L839.3 454.5L839.5 453.6L839.7 452.4L839.9 454.5L840.1 455.5L840.3 454.1L840.5 455.6L840.7 457.5L840.9 457.3L841.1 458.6L841.3 458.3L841.5 459.9L841.7 462.2L841.9 462.7L842.1 463.7L842.3 463.6L842.5 464.7L842.7 467.6L842.9 467.8L843.1 468.3L843.3 468.4L843.5 470.9L843.7 469.7L843.9 473.8L844.1 474.0L844.3 476.9L844.5 479.2L844.7 478.9L844.9 479.7L845.1 481.2L845.3 482.8L845.5 484.8L845.7 486.7L845.9 487.2L846.1 487.3L846.3 487.8L846.5 495.0L846.7 490.3L846.9 491.1L847.1 492.4L847.3 495.2L847.5 496.3L847.7 499.4L847.9 500.4L848.1 500.9L848.3 504.7L848.5 505.6L848.7 505.6L848.9 509.1L849.1 508.4L849.4 511.9L849.6 510.8L849.8 512.2L850.0 514.3L850.2 516.0L850.4 516.5L850.6 520.2L850.8 518.6L851.0 518.8L851.2 518.3L851.4 521.7L851.6 522.2L851.8 520.8L852.0 521.1L852.2 525.2L852.4 523.7L852.6 524.3L852.8 525.9L853.0 528.7L853.2 529.3L853.4 527.6L853.6 525.6L853.8 529.7L854.0 527.5L854.2 527.4L854.4 532.3L854.6 531.6L854.8 528.8L855.0 529.7L855.2 530.5L855.4 531.4L855.6 530.5L855.8 532.3L856.0 527.6L856.2 532.8L856.4 533.6L856.6 530.6L856.8 528.4L857.0 530.9L857.2 529.9L857.4 530.9L857.6 529.1L857.8 529.9L858.0 529.4L858.2 529.5L858.4 527.5L858.6 523.3L858.8 525.4L859.0 524.2L859.2 520.4L859.4 523.8L859.6 523.4L859.8 520.3L860.0 521.8L860.2 518.6L860.4 516.3L860.6 518.5L860.8 516.6L861.0 512.2L861.2 515.1L861.4 513.3L861.6 510.7L861.8 510.3L862.1 509.8L862.3 504.9L862.5 506.7L862.7 504.0L862.9 503.7L863.1 502.1L863.3 502.3L863.5 497.5L863.7 498.0L863.9 494.0L864.1 496.0L864.3 493.4L864.5 490.6L864.7 490.1L864.9 490.2L865.1 488.3L865.3 488.7L865.5 485.5L865.7 488.2L865.9 482.8L866.1 479.7L866.3 479.1L866.5 477.8L866.7 478.4L866.9 475.7L867.1 475.7L867.3 474.0L867.5 472.7L867.7 476.2L867.9 468.7L868.1 468.1L868.3 466.4L868.5 467.8L868.7 464.3L868.9 463.5L869.1 466.4L869.3 464.6L869.5 461.0L869.7 461.1L869.9 459.2L870.1 459.3L870.3 455.3L870.5 459.5L870.7 458.0L870.9 456.7L871.1 456.7L871.3 455.0L871.5 453.6L871.7 455.1L871.9 452.2L872.1 450.5L872.3 450.5L872.5 448.9L872.7 450.0L872.9 451.6L873.1 448.9L873.3 450.5L873.5 448.8L873.7 452.0L873.9 454.9L874.1 453.8L874.3 452.1L874.5 452.0L874.7 453.5L875.0 452.2L875.2 455.8L875.4 455.8L875.6 453.9L875.8 456.0L876.0 456.6L876.2 455.5L876.4 456.8L876.6 460.4L876.8 459.9L877.0 463.6L877.2 462.2L877.4 462.6L877.6 466.8L877.8 463.1L878.0 463.6L878.2 467.0L878.4 467.6L878.6 467.9L878.8 471.6L879.0 471.1L879.2 473.4L879.4 477.5L879.6 477.9L879.8 478.7L880.0 477.6L880.2 480.4L880.4 480.4L880.6 483.8L880.8 486.3L881.0 482.7L881.2 483.0L881.4 487.6L881.6 489.6L881.8 488.6L882.0 492.9L882.2 493.1L882.4 496.5L882.6 495.3L882.8 497.1L883.0 499.5L883.2 501.3L883.4 504.0L883.6 504.4L883.8 502.8L884.0 506.5L884.2 505.5L884.4 509.9L884.6 510.0L884.8 511.8L885.0 512.8L885.2 512.5L885.4 517.8L885.6 514.8L885.8 516.0L886.0 518.1L886.2 519.0L886.4 520.4L886.6 520.1L886.8 521.9L887.0 524.1L887.2 523.5L887.4 523.2L887.6 524.8L887.9 526.0L888.1 526.4L888.3 528.1L888.5 528.6L888.7 531.2L888.9 529.2L889.1 528.0L889.3 530.4L889.5 531.5L889.7 529.2L889.9 530.5L890.1 530.8L890.3 530.5L890.5 530.2L890.7 531.4L890.9 532.6L891.1 528.8L891.3 531.2L891.5 532.2L891.7 530.7L891.9 529.0L892.1 532.5L892.3 528.2L892.5 529.9L892.7 526.4L892.9 527.9L893.1 528.5L893.3 526.0L893.5 525.4L893.7 527.1L893.9 525.5L894.1 525.9L894.3 523.0L894.5 525.6L894.7 523.0L894.9 524.9L895.1 520.0L895.3 523.1L895.5 520.4L895.7 517.5L895.9 517.3L896.1 516.3L896.3 515.9L896.5 514.0L896.7 514.7L896.9 510.4L897.1 508.5L897.3 507.2L897.5 507.1L897.7 503.9L897.9 503.6L898.1 501.5L898.3 500.9L898.5 500.0L898.7 499.7L898.9 500.9L899.1 494.7L899.3 494.2L899.5 489.6L899.7 494.0L899.9 488.9L900.1 490.4L900.3 487.9L900.6 487.9L900.8 484.9L901.0 484.2L901.2 481.6L901.4 481.3L901.6 479.5L901.8 477.0L902.0 476.8L902.2 476.4L902.4 473.2L902.6 473.8L902.8 471.8L903.0 471.6L903.2 470.8L903.4 473.0L903.6 466.4L903.8 467.9L904.0 464.1L904.2 461.4L904.4 464.8L904.6 460.6L904.8 461.0L905.0 459.3L905.2 460.8L905.4 458.1L905.6 457.1L905.8 454.5L906.0 452.8L906.2 454.7L906.4 455.1L906.6 450.8L906.8 453.6L907.0 453.1L907.2 452.5L907.4 451.6L907.6 451.0L907.8 452.6L908.0 451.8L908.2 448.8L908.4 449.2L908.6 450.8L908.8 451.1L909.0 452.0L909.2 450.4L909.4 452.8L909.6 452.2L909.8 453.4L910.0 454.1L910.2 453.6L910.4 454.2L910.6 455.6L910.8 455.5L911.0 456.0L911.2 457.5L911.4 458.6L911.6 458.7L911.8 458.3L912.0 458.7L912.2 461.0L912.4 462.6L912.6 463.3L912.8 461.6L913.0 464.2L913.2 468.0L913.5 467.9L913.7 469.8L913.9 470.8L914.1 473.9L914.3 472.7L914.5 476.0L914.7 476.2L914.9 474.5L915.1 476.6L915.3 480.6L915.5 482.1L915.7 483.3L915.9 486.0L916.1 486.0L916.3 486.2L916.5 488.6L916.7 487.2L916.9 489.5L917.1 491.2L917.3 488.8L917.5 492.0L917.7 494.5L917.9 493.5L918.1 495.7L918.3 500.1L918.5 500.1L918.7 502.6L918.9 505.5L919.1 502.0L919.3 504.0L919.5 509.3L919.7 508.1L919.9 512.4L920.1 509.7L920.3 512.6L920.5 514.1L920.7 513.1L920.9 516.0L921.1 517.5L921.3 516.9L921.5 519.7L921.7 519.0L921.9 521.2L922.1 520.9L922.3 522.1L922.5 522.7L922.7 526.1L922.9 522.6L923.1 526.3L923.3 524.2L923.5 528.3L923.7 528.4L923.9 528.9L924.1 527.3L924.3 530.1L924.5 529.3L924.7 532.5L924.9 531.2L925.1 530.4L925.3 531.1L925.5 533.9L925.7 530.5L925.9 532.7L926.2 528.5L926.4 531.6L926.6 527.9L926.8 530.1L927.0 530.2L927.2 531.4L927.4 530.5L927.6 529.4L927.8 532.5L928.0 527.8L928.2 530.5L928.4 528.6L928.6 531.7L928.8 526.4L929.0 525.4L929.2 525.3L929.4 524.6L929.6 524.8L929.8 523.2L930.0 520.8L930.2 522.3L930.4 520.0L930.6 518.7L930.8 519.1L931.0 517.3L931.2 516.3L931.4 516.2L931.6 510.8L931.8 513.8L932.0 509.4L932.2 509.1L932.4 512.4L932.6 507.8L932.8 505.3L933.0 504.3L933.2 505.4L933.4 502.3L933.6 503.1L933.8 501.4L934.0 498.8L934.2 496.6L934.4 493.0L934.6 493.3L934.8 490.7L935.0 492.7L935.2 491.7L935.4 489.6L935.6 485.1L935.8 488.4L936.0 487.5L936.2 484.1L936.4 480.9L936.6 483.7L936.8 480.4L937.0 480.7L937.2 475.3L937.4 475.1L937.6 474.4L937.8 473.5L938.0 472.5L938.2 470.7L938.4 470.6L938.6 469.8L938.8 468.9L939.1 466.1L939.3 466.1L939.5 462.6L939.7 465.9L939.9 460.9L940.1 460.0L940.3 458.0L940.5 459.3L940.7 460.3L940.9 458.6L941.1 454.8L941.3 456.2L941.5 455.7L941.7 455.4L941.9 454.0L942.1 453.8L942.3 455.3L942.5 453.5L942.7 450.8L942.9 449.8L943.1 451.9L943.3 452.4L943.5 449.5L943.7 451.7L943.9 453.2L944.1 451.7L944.3 450.7L944.5 449.6L944.7 452.9L944.9 451.7L945.1 453.3L945.3 451.6L945.5 453.3L945.7 453.9L945.9 456.3L946.1 456.0L946.3 456.7L946.5 462.2L946.7 456.5L946.9 458.6L947.1 459.8L947.3 460.9L947.5 461.3L947.7 462.0L947.9 465.4L948.1 464.3L948.3 465.5L948.5 466.8L948.7 470.2L948.9 469.4L949.1 472.3L949.3 471.2L949.5 471.0L949.7 473.0L949.9 476.1L950.1 477.7L950.3 479.0L950.5 479.0L950.7 481.8L950.9 482.9L951.1 487.1L951.3 486.0L951.5 487.1L951.7 488.0L952.0 486.6L952.2 491.6L952.4 492.6L952.6 490.7L952.8 494.7L953.0 495.0L953.2 496.1L953.4 497.8L953.6 500.4L953.8 499.4L954.0 500.0L954.2 505.1L954.4 505.4L954.6 504.9L954.8 507.9L955.0 510.4L955.2 510.9L955.4 510.2L955.6 514.2L955.8 513.5L956.0 514.5L956.2 517.1L956.4 516.4L956.6 517.4L956.8 517.9L957.0 519.0L957.2 523.5L957.4 520.9L957.6 522.2L957.8 522.5L958.0 526.0L958.2 524.2L958.4 525.6L958.6 528.6L958.8 525.6L959.0 529.2L959.2 530.1L959.4 528.5L959.6 530.4L959.8 529.4L960.0 530.6L960.2 530.2L960.4 529.6L960.6 531.1L960.8 529.9L961.0 530.0L961.2 532.6L961.4 530.1L961.6 530.4L961.8 531.0L962.0 529.4L962.2 528.4L962.4 529.5L962.6 532.5L962.8 529.4L963.0 529.8L963.2 529.6L963.4 528.2L963.6 528.7L963.8 525.2L964.0 526.6L964.2 526.4L964.4 524.5L964.7 523.8L964.9 522.4L965.1 522.4L965.3 522.5L965.5 521.4L965.7 523.8L965.9 521.8L966.1 517.1L966.3 518.0L966.5 513.8L966.7 512.7L966.9 516.0L967.1 512.6L967.3 507.6L967.5 511.7L967.7 508.7L967.9 508.3L968.1 507.0L968.3 505.7L968.5 504.0L968.7 501.4L968.9 502.3L969.1 498.9L969.3 499.3L969.5 496.0L969.7 494.7L969.9 494.8L970.1 491.8L970.3 491.9L970.5 491.1L970.7 487.0L970.9 490.2L971.1 485.5L971.3 484.0L971.5 484.7L971.7 480.9L971.9 479.8L972.1 481.8L972.3 477.8L972.5 476.5L972.7 477.0L972.9 473.8L973.1 472.2L973.3 473.1L973.5 473.7L973.7 468.9L973.9 469.4L974.1 469.6L974.3 466.5L974.5 468.3L974.7 464.2L974.9 460.5L975.1 465.8L975.3 460.0L975.5 461.1L975.7 459.4L975.9 459.3L976.1 456.2L976.3 456.4L976.5 456.8L976.7 456.9L976.9 455.0L977.1 452.2L977.3 455.2L977.6 452.3L977.8 452.0L978.0 455.2L978.2 450.3L978.4 451.8L978.6 448.3L978.8 448.9L979.0 451.8L979.2 451.7L979.4 453.0L979.6 453.7L979.8 450.7L980.0 452.5L980.2 453.1L980.4 453.1L980.6 452.3L980.8 452.4L981.0 454.3L981.2 455.2L981.4 455.4L981.6 453.2L981.8 460.1L982.0 459.5L982.2 458.0L982.4 459.3L982.6 458.7L982.8 459.5L983.0 459.6L983.2 464.7L983.4 463.7L983.6 466.1L983.8 465.5" stroke="#0f0" stroke-width="3.3" fill="none" stroke-linejoin="round" stroke-linecap="round"/>
<clipPath id="gap"><rect x="740.5" y="517.4" width="20" height="8"/></clipPath>
<rect x="740.5" y="517.4" width="20" height="8" fill="#fff"/>
<g clip-path="url(#gap)"><path d="M736.1 461.6L736.3 462.7L736.5 463.7L736.7 464.8L736.9 465.9L737.1 467.1L737.3 468.3L737.5 469.5L737.7 470.8L737.9 472.0L738.1 473.3L738.3 474.6L738.5 475.9L738.7 477.2L738.9 478.5L739.1 479.8L739.3 481.2L739.5 482.5L739.7 483.8L739.9 485.1L740.1 486.3L740.3 487.5L740.5 488.7L740.7 489.8L740.9 490.9L741.1 492.0L741.3 493.6L741.5 495.2L741.7 496.7L741.9 498.2L742.1 499.7L742.3 501.1L742.5 502.5L742.7 503.9L742.9 505.3L743.1 506.7L743.3 508.0L743.5 509.3L743.7 510.5L743.9 511.8L744.1 513.0L744.3 514.2L744.5 515.3L744.7 516.5L744.9 517.6L745.1 518.6L745.3 519.6L745.5 520.6L745.7 521.6L745.9 522.5L746.1 523.3L746.3 524.1L746.5 524.9L746.8 525.7L747.0 526.4L747.2 527.0L747.4 527.6L747.6 528.2L747.8 528.7L748.0 529.2L748.2 529.6L748.4 530.0L748.6 530.4L748.8 530.6L749.0 530.9L749.2 531.1L749.4 531.2L749.6 531.3L749.8 531.4L750.0 531.3L750.2 531.3L750.4 531.2L750.6 531.0L750.8 530.8L751.0 530.6L751.2 530.3L751.4 529.9L751.6 529.6L751.8 529.1L752.0 528.6L752.2 528.1L752.4 527.5L752.6 526.9L752.8 526.2L753.0 525.5L753.2 524.8L753.4 524.0L753.6 523.1L753.8 522.3L754.0 521.3L754.2 520.4L754.4 519.4L754.6 518.4L754.8 517.3L755.0 516.2L755.2 515.1L755.4 513.9L755.6 512.7L755.8 511.5L756.0 510.3L756.2 509.0L756.4 507.7L756.6 506.4L756.8 505.0L757.0 503.6L757.2 502.2L757.4 500.8L757.6 499.4L757.8 497.9L758.0 496.4L758.2 494.9L758.4 493.3L758.6 491.6L758.8 490.7L759.0 489.6L759.2 488.5L759.4 487.3L759.7 486.0L759.9 484.8L760.1 483.5L760.3 482.2L760.5 480.9L760.7 479.6L760.9 478.2L761.1 476.9L761.3 475.6L761.5 474.3L761.7 473.0L761.9 471.7L762.1 470.5L762.3 469.2L762.5 468.0L762.7 466.8L762.9 465.7L763.1 464.6L763.3 463.5L763.5 462.4L763.7 461.4L763.9 460.4L764.1 459.5L764.3 458.6L764.5 457.8L764.7 457.0L764.9 456.2" stroke="#0f0" stroke-width="0.8" fill="none" opacity="0.7"/><path d="M736.1 432.0L736.3 434.1L736.5 436.7L736.7 440.6L736.9 443.2L737.1 445.5L737.3 445.8L737.5 448.4L737.7 450.8L737.9 452.9L738.1 455.9L738.3 459.2L738.5 462.2L738.7 465.2L738.9 465.0L739.1 467.9L739.3 472.6L739.5 474.2L739.7 476.1L739.9 477.6L740.1 482.1L740.3 483.8L740.5 485.3L740.7 490.1L740.9 491.3L741.1 492.9L741.3 496.7L741.5 497.3L741.7 501.4L741.9 505.0L742.1 508.9L742.3 510.1L742.5 513.2L742.7 517.0L742.9 519.7L743.1 523.3L743.3 524.6L743.5 526.3L743.7 528.7L743.9 531.6L744.1 533.8L744.3 537.4L744.5 539.6L744.7 540.3L744.9 543.2L745.1 546.4L745.3 547.2L745.5 548.9L745.7 550.9L745.9 553.2L746.1 555.5L746.3 556.3L746.5 556.7L746.8 559.6L747.0 561.7L747.2 562.1L747.4 564.7L747.6 564.5L747.8 566.1L748.0 565.9L748.2 567.5L748.4 567.4L748.6 566.9L748.8 569.8L749.0 570.8L749.2 570.0L749.4 570.8L749.6 570.8L749.8 571.5L750.0 570.5L750.2 570.8L750.4 572.6L750.6 570.6L750.8 569.6L751.0 568.4L751.2 569.4L751.4 568.9L751.6 566.4L751.8 567.1L752.0 565.5L752.2 564.1L752.4 562.7L752.6 562.1L752.8 561.8L753.0 558.5L753.2 558.3L753.4 556.8L753.6 552.8L753.8 552.1L754.0 552.1L754.2 549.7L754.4 547.5L754.6 545.9L754.8 544.9L755.0 540.2L755.2 538.0L755.4 536.2L755.6 534.4L755.8 531.4L756.0 528.5L756.2 527.5L756.4 524.3L756.6 521.9L756.8 518.0L757.0 515.7L757.2 514.3L757.4 510.9L757.6 505.8L757.8 505.4L758.0 501.4L758.2 499.1L758.4 494.3L758.6 492.2L758.8 490.6L759.0 489.2L759.2 486.1L759.4 482.7L759.7 480.4L759.9 479.7L760.1 474.5L760.3 473.6L760.5 471.7L760.7 468.0L760.9 466.1L761.1 463.4L761.3 460.9L761.5 457.8L761.7 455.6L761.9 454.2L762.1 449.6L762.3 448.1L762.5 444.2L762.7 442.4L762.9 440.1L763.1 438.2L763.3 435.1L763.5 434.4L763.7 433.0L763.9 429.9L764.1 430.8L764.3 426.9L764.5 424.7L764.7 423.7L764.9 420.7" stroke="#f0f" stroke-width="0.8" fill="none" opacity="0.85"/></g>
</g>
<g stroke="#444" stroke-width="1" fill="none">
<rect x="701.8" y="364.6" width="282.0" height="209.9" stroke-width="1.1"/>
<path d="M701.8 574.5v-3.2M701.8 364.6v3.2"/>
<path d="M758.2 574.5v-3.2M758.2 364.6v3.2"/>
<path d="M814.6 574.5v-3.2M814.6 364.6v3.2"/>
<path d="M871.0 574.5v-3.2M871.0 364.6v3.2"/>
<path d="M927.4 574.5v-3.2M927.4 364.6v3.2"/>
<path d="M983.8 574.5v-3.2M983.8 364.6v3.2"/>
<path d="M701.8 551.2h3.2M983.8 551.2h-3.2"/>
<path d="M701.8 522.0h3.2M983.8 522.0h-3.2"/>
<path d="M701.8 492.9h3.2M983.8 492.9h-3.2"/>
<path d="M701.8 463.7h3.2M983.8 463.7h-3.2"/>
<path d="M701.8 434.6h3.2M983.8 434.6h-3.2"/>
<path d="M701.8 405.4h3.2M983.8 405.4h-3.2"/>
<path d="M701.8 376.3h3.2M983.8 376.3h-3.2"/>
</g>
<g font-family='"Liberation Serif", "Times New Roman", serif' font-size="13" fill="#111">
<text x="699.6" y="555.5" text-anchor="end">-100</text>
<text x="699.6" y="526.3" text-anchor="end">-50</text>
<text x="699.6" y="497.2" text-anchor="end">0</text>
<text x="699.6" y="468.0" text-anchor="end">50</text>
<text x="699.6" y="438.9" text-anchor="end">100</text>
<text x="699.6" y="409.7" text-anchor="end">150</text>
<text x="699.6" y="380.6" text-anchor="end">200</text>
<text x="701.8" y="587.8" text-anchor="middle">0</text>
<text x="758.2" y="587.8" text-anchor="middle">0.2</text>
<text x="814.6" y="587.8" text-anchor="middle">0.4</text>
<text x="871.0" y="587.8" text-anchor="middle">0.6</text>
<text x="927.4" y="587.8" text-anchor="middle">0.8</text>
<text x="983.8" y="587.8" text-anchor="middle">1</text>
</g>
<text x="669.8" y="353.6" font-family='"Liberation Serif", "Times New Roman", serif' font-size="15.6" fill="#000" textLength="343.6" lengthAdjust="spacingAndGlyphs">FBG wavelength shift signal time domain-1200mm/s2</text>
<text x="841" y="598" font-family='"Liberation Serif", "Times New Roman", serif' font-size="14" text-anchor="middle" fill="#000">t/s</text>
<text transform="translate(672 495) rotate(-90)" font-family='"Liberation Serif", "Times New Roman", serif, "DejaVu Sans"' font-size="16.5" fill="#111" textLength="53.5" lengthAdjust="spacingAndGlyphs">△λ/ <tspan font-weight="bold">pm</tspan></text>
<rect x="866.3" y="367.4" width="113.9" height="51.2" fill="#fff" stroke="#444" stroke-width="1"/>
<path d="M869.6 376.7H888.7" stroke="#00f" stroke-width="1.0" opacity="0.8"/>
<path d="M879.1500000000001 373.5l3 5.2h-6z" stroke="#00f" stroke-width="1" fill="#fff" fill-opacity="0.6"/>
<path d="M869.6 392.9H888.7" stroke="#0f0" stroke-width="0.9"/>
<circle cx="879.1500000000001" cy="392.9" r="1.7" fill="#0f0"/>
<path d="M869.6 409.4H888.7" stroke="#f0f" stroke-width="0.9" opacity="0.8"/>
<g font-family='"Liberation Serif", "Times New Roman", serif' font-size="13.3" fill="#111">
<text x="891.6" y="381.1">#1 FBG</text>
<text x="891.6" y="397.3">#2 FBG</text>
<text x="891.6" y="413.8">#1FBG+#2FBG</text>
</g>
</svg>
</body></html>
